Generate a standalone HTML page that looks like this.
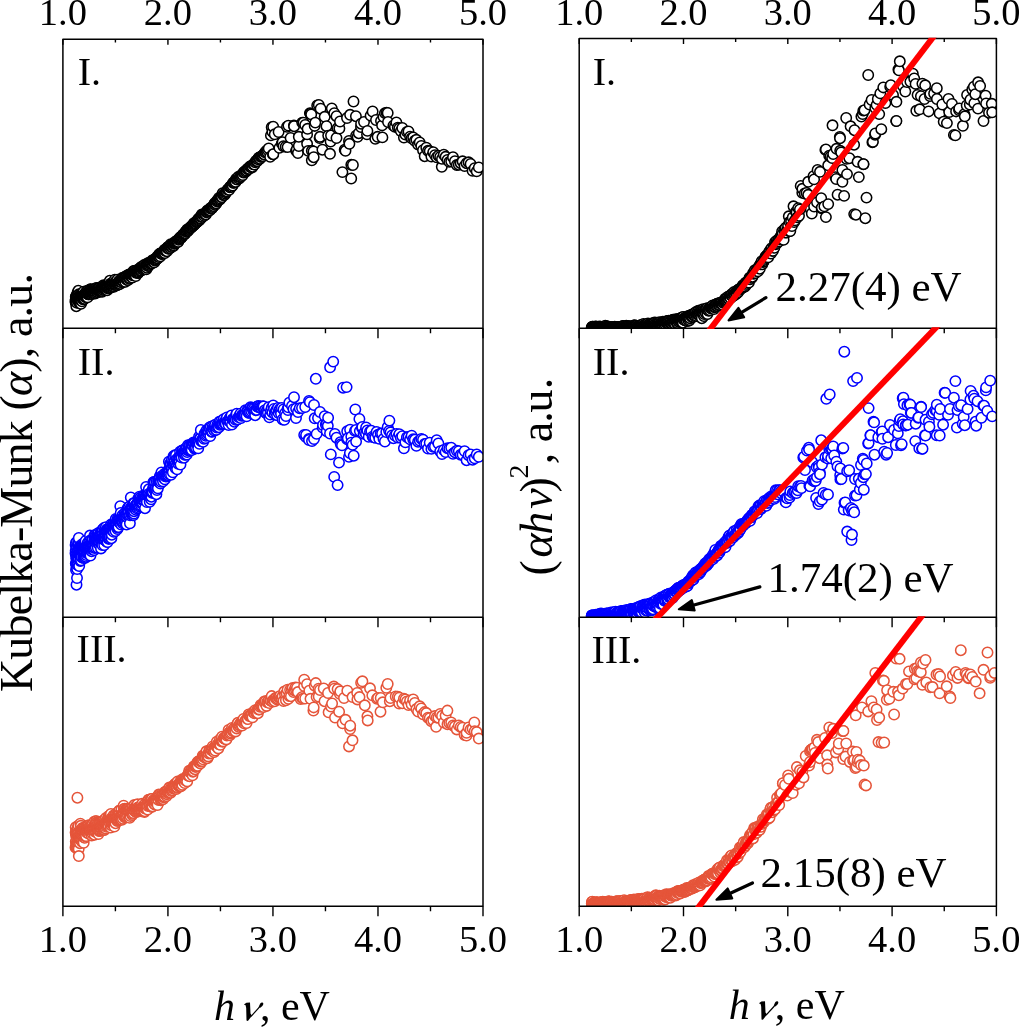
<!DOCTYPE html><html><head><meta charset="utf-8"><style>html,body{margin:0;padding:0;background:#fff;width:1020px;height:1028px;overflow:hidden}svg{display:block;will-change:transform}text{font-family:"Liberation Serif",serif;fill:#000}</style></head><body><svg width="1020" height="1028" viewBox="0 0 1020 1028"><rect width="1020" height="1028" fill="#fff"/><defs><clipPath id="cL1"><rect x="62.9" y="39.2" width="420.1" height="289.0"/></clipPath><clipPath id="rL1"><rect x="62.9" y="38.3" width="420.1" height="290.8"/></clipPath><clipPath id="cL2"><rect x="62.9" y="328.2" width="420.1" height="289.0"/></clipPath><clipPath id="rL2"><rect x="62.9" y="327.3" width="420.1" height="290.8"/></clipPath><clipPath id="cL3"><rect x="62.9" y="617.2" width="420.1" height="289.0"/></clipPath><clipPath id="rL3"><rect x="62.9" y="616.3" width="420.1" height="290.8"/></clipPath><clipPath id="cR1"><rect x="579.2" y="38.6" width="417.2" height="289.6"/></clipPath><clipPath id="rR1"><rect x="579.2" y="37.7" width="417.2" height="291.4"/></clipPath><clipPath id="cR2"><rect x="579.2" y="328.2" width="417.2" height="289.0"/></clipPath><clipPath id="rR2"><rect x="579.2" y="327.3" width="417.2" height="290.8"/></clipPath><clipPath id="cR3"><rect x="579.2" y="617.2" width="417.2" height="289.0"/></clipPath><clipPath id="rR3"><rect x="579.2" y="616.3" width="417.2" height="290.8"/></clipPath></defs><g clip-path="url(#cL1)" fill="#fff" stroke="#000" stroke-width="1.55"><circle cx="75.5" cy="300.9" r="5.2"/><circle cx="75.6" cy="302.2" r="5.2"/><circle cx="75.7" cy="299.6" r="5.2"/><circle cx="75.8" cy="296.8" r="5.2"/><circle cx="75.9" cy="298.7" r="5.2"/><circle cx="76.1" cy="296.4" r="5.2"/><circle cx="76.2" cy="300.9" r="5.2"/><circle cx="76.3" cy="306.2" r="5.2"/><circle cx="76.4" cy="298.4" r="5.2"/><circle cx="76.5" cy="297.9" r="5.2"/><circle cx="76.6" cy="302.4" r="5.2"/><circle cx="76.7" cy="301.8" r="5.2"/><circle cx="76.8" cy="300.8" r="5.2"/><circle cx="76.9" cy="296.5" r="5.2"/><circle cx="77.0" cy="300.1" r="5.2"/><circle cx="77.1" cy="302.9" r="5.2"/><circle cx="77.2" cy="294.9" r="5.2"/><circle cx="77.4" cy="298.3" r="5.2"/><circle cx="77.5" cy="292.7" r="5.2"/><circle cx="77.6" cy="295.1" r="5.2"/><circle cx="77.7" cy="293.0" r="5.2"/><circle cx="77.8" cy="299.0" r="5.2"/><circle cx="77.9" cy="295.2" r="5.2"/><circle cx="78.0" cy="300.8" r="5.2"/><circle cx="78.1" cy="300.3" r="5.2"/><circle cx="78.2" cy="299.1" r="5.2"/><circle cx="78.3" cy="290.8" r="5.2"/><circle cx="78.5" cy="297.7" r="5.2"/><circle cx="78.6" cy="299.4" r="5.2"/><circle cx="78.7" cy="299.9" r="5.2"/><circle cx="78.8" cy="294.3" r="5.2"/><circle cx="78.9" cy="297.8" r="5.2"/><circle cx="79.0" cy="296.2" r="5.2"/><circle cx="79.1" cy="296.7" r="5.2"/><circle cx="79.2" cy="302.8" r="5.2"/><circle cx="79.4" cy="296.7" r="5.2"/><circle cx="79.5" cy="299.1" r="5.2"/><circle cx="79.6" cy="301.9" r="5.2"/><circle cx="79.7" cy="297.3" r="5.2"/><circle cx="79.8" cy="298.7" r="5.2"/><circle cx="79.9" cy="299.4" r="5.2"/><circle cx="80.0" cy="299.2" r="5.2"/><circle cx="80.2" cy="295.2" r="5.2"/><circle cx="80.3" cy="299.0" r="5.2"/><circle cx="80.4" cy="302.7" r="5.2"/><circle cx="80.5" cy="294.1" r="5.2"/><circle cx="80.6" cy="301.0" r="5.2"/><circle cx="80.7" cy="298.8" r="5.2"/><circle cx="80.9" cy="296.5" r="5.2"/><circle cx="81.0" cy="303.9" r="5.2"/><circle cx="81.1" cy="300.3" r="5.2"/><circle cx="81.2" cy="294.8" r="5.2"/><circle cx="81.3" cy="298.2" r="5.2"/><circle cx="81.4" cy="299.5" r="5.2"/><circle cx="81.6" cy="297.3" r="5.2"/><circle cx="81.7" cy="299.6" r="5.2"/><circle cx="81.8" cy="297.5" r="5.2"/><circle cx="81.9" cy="299.3" r="5.2"/><circle cx="82.0" cy="301.3" r="5.2"/><circle cx="82.1" cy="295.6" r="5.2"/><circle cx="82.3" cy="297.8" r="5.2"/><circle cx="82.4" cy="296.0" r="5.2"/><circle cx="82.5" cy="297.4" r="5.2"/><circle cx="82.6" cy="294.1" r="5.2"/><circle cx="82.7" cy="295.5" r="5.2"/><circle cx="82.9" cy="296.4" r="5.2"/><circle cx="83.0" cy="299.0" r="5.2"/><circle cx="83.1" cy="299.4" r="5.2"/><circle cx="83.2" cy="293.4" r="5.2"/><circle cx="83.3" cy="294.6" r="5.2"/><circle cx="83.5" cy="297.9" r="5.2"/><circle cx="83.6" cy="291.7" r="5.2"/><circle cx="83.7" cy="295.2" r="5.2"/><circle cx="83.8" cy="295.9" r="5.2"/><circle cx="83.9" cy="298.9" r="5.2"/><circle cx="84.1" cy="297.5" r="5.2"/><circle cx="84.2" cy="295.2" r="5.2"/><circle cx="84.3" cy="295.0" r="5.2"/><circle cx="84.4" cy="295.2" r="5.2"/><circle cx="84.6" cy="298.9" r="5.2"/><circle cx="84.7" cy="294.7" r="5.2"/><circle cx="84.8" cy="294.9" r="5.2"/><circle cx="84.9" cy="296.2" r="5.2"/><circle cx="85.1" cy="295.1" r="5.2"/><circle cx="85.2" cy="294.9" r="5.2"/><circle cx="85.3" cy="293.0" r="5.2"/><circle cx="85.4" cy="295.1" r="5.2"/><circle cx="85.6" cy="294.2" r="5.2"/><circle cx="85.7" cy="297.3" r="5.2"/><circle cx="85.8" cy="296.2" r="5.2"/><circle cx="85.9" cy="294.8" r="5.2"/><circle cx="86.1" cy="296.0" r="5.2"/><circle cx="86.2" cy="294.1" r="5.2"/><circle cx="86.3" cy="296.6" r="5.2"/><circle cx="86.4" cy="294.6" r="5.2"/><circle cx="86.6" cy="295.5" r="5.2"/><circle cx="86.7" cy="292.2" r="5.2"/><circle cx="86.8" cy="295.0" r="5.2"/><circle cx="86.9" cy="291.4" r="5.2"/><circle cx="87.1" cy="290.8" r="5.2"/><circle cx="87.2" cy="293.6" r="5.2"/><circle cx="87.3" cy="292.6" r="5.2"/><circle cx="87.5" cy="294.2" r="5.2"/><circle cx="87.6" cy="297.4" r="5.2"/><circle cx="87.7" cy="292.5" r="5.2"/><circle cx="87.8" cy="292.8" r="5.2"/><circle cx="88.0" cy="294.0" r="5.2"/><circle cx="88.1" cy="294.3" r="5.2"/><circle cx="88.2" cy="293.3" r="5.2"/><circle cx="88.4" cy="293.1" r="5.2"/><circle cx="88.5" cy="294.4" r="5.2"/><circle cx="88.6" cy="294.1" r="5.2"/><circle cx="88.8" cy="291.7" r="5.2"/><circle cx="88.9" cy="293.0" r="5.2"/><circle cx="89.0" cy="293.1" r="5.2"/><circle cx="89.2" cy="291.4" r="5.2"/><circle cx="89.3" cy="293.3" r="5.2"/><circle cx="89.4" cy="291.5" r="5.2"/><circle cx="89.6" cy="294.2" r="5.2"/><circle cx="89.7" cy="293.0" r="5.2"/><circle cx="89.8" cy="292.7" r="5.2"/><circle cx="90.0" cy="291.6" r="5.2"/><circle cx="90.1" cy="292.3" r="5.2"/><circle cx="90.2" cy="289.4" r="5.2"/><circle cx="90.4" cy="290.7" r="5.2"/><circle cx="90.5" cy="292.9" r="5.2"/><circle cx="90.6" cy="289.1" r="5.2"/><circle cx="90.8" cy="293.5" r="5.2"/><circle cx="90.9" cy="289.6" r="5.2"/><circle cx="91.0" cy="293.3" r="5.2"/><circle cx="91.2" cy="290.9" r="5.2"/><circle cx="91.3" cy="293.3" r="5.2"/><circle cx="91.4" cy="292.3" r="5.2"/><circle cx="91.6" cy="289.7" r="5.2"/><circle cx="91.7" cy="293.9" r="5.2"/><circle cx="91.9" cy="294.1" r="5.2"/><circle cx="92.0" cy="291.8" r="5.2"/><circle cx="92.1" cy="291.4" r="5.2"/><circle cx="92.3" cy="291.6" r="5.2"/><circle cx="92.4" cy="290.3" r="5.2"/><circle cx="92.6" cy="293.4" r="5.2"/><circle cx="92.7" cy="290.9" r="5.2"/><circle cx="92.8" cy="291.6" r="5.2"/><circle cx="93.0" cy="290.4" r="5.2"/><circle cx="93.1" cy="290.6" r="5.2"/><circle cx="93.3" cy="289.6" r="5.2"/><circle cx="93.4" cy="293.4" r="5.2"/><circle cx="93.5" cy="291.2" r="5.2"/><circle cx="93.7" cy="292.9" r="5.2"/><circle cx="93.8" cy="291.4" r="5.2"/><circle cx="94.0" cy="290.3" r="5.2"/><circle cx="94.1" cy="290.8" r="5.2"/><circle cx="94.2" cy="290.4" r="5.2"/><circle cx="94.4" cy="291.2" r="5.2"/><circle cx="94.5" cy="290.6" r="5.2"/><circle cx="94.7" cy="290.6" r="5.2"/><circle cx="94.8" cy="289.0" r="5.2"/><circle cx="95.0" cy="289.8" r="5.2"/><circle cx="95.1" cy="293.5" r="5.2"/><circle cx="95.2" cy="289.9" r="5.2"/><circle cx="95.4" cy="289.3" r="5.2"/><circle cx="95.5" cy="291.4" r="5.2"/><circle cx="95.7" cy="292.9" r="5.2"/><circle cx="95.8" cy="288.5" r="5.2"/><circle cx="96.0" cy="290.4" r="5.2"/><circle cx="96.1" cy="289.7" r="5.2"/><circle cx="96.3" cy="287.9" r="5.2"/><circle cx="96.4" cy="291.7" r="5.2"/><circle cx="96.6" cy="290.5" r="5.2"/><circle cx="96.7" cy="290.6" r="5.2"/><circle cx="96.9" cy="289.3" r="5.2"/><circle cx="97.0" cy="291.1" r="5.2"/><circle cx="97.2" cy="289.5" r="5.2"/><circle cx="97.3" cy="290.1" r="5.2"/><circle cx="97.5" cy="288.6" r="5.2"/><circle cx="97.6" cy="288.4" r="5.2"/><circle cx="97.8" cy="292.2" r="5.2"/><circle cx="97.9" cy="289.4" r="5.2"/><circle cx="98.1" cy="290.5" r="5.2"/><circle cx="98.2" cy="290.0" r="5.2"/><circle cx="98.4" cy="289.3" r="5.2"/><circle cx="98.5" cy="289.2" r="5.2"/><circle cx="98.7" cy="290.9" r="5.2"/><circle cx="98.8" cy="289.4" r="5.2"/><circle cx="99.0" cy="289.6" r="5.2"/><circle cx="99.1" cy="289.8" r="5.2"/><circle cx="99.3" cy="291.5" r="5.2"/><circle cx="99.4" cy="290.7" r="5.2"/><circle cx="99.6" cy="290.2" r="5.2"/><circle cx="99.7" cy="288.7" r="5.2"/><circle cx="99.9" cy="287.4" r="5.2"/><circle cx="100.0" cy="290.9" r="5.2"/><circle cx="100.2" cy="290.9" r="5.2"/><circle cx="100.4" cy="289.2" r="5.2"/><circle cx="100.5" cy="290.2" r="5.2"/><circle cx="100.7" cy="290.5" r="5.2"/><circle cx="100.8" cy="290.5" r="5.2"/><circle cx="101.0" cy="290.6" r="5.2"/><circle cx="101.1" cy="288.5" r="5.2"/><circle cx="101.3" cy="291.4" r="5.2"/><circle cx="101.5" cy="287.2" r="5.2"/><circle cx="101.6" cy="290.3" r="5.2"/><circle cx="101.8" cy="289.7" r="5.2"/><circle cx="101.9" cy="290.3" r="5.2"/><circle cx="102.1" cy="291.8" r="5.2"/><circle cx="102.3" cy="291.1" r="5.2"/><circle cx="102.4" cy="287.0" r="5.2"/><circle cx="102.6" cy="286.1" r="5.2"/><circle cx="102.7" cy="289.9" r="5.2"/><circle cx="102.9" cy="287.1" r="5.2"/><circle cx="103.1" cy="288.6" r="5.2"/><circle cx="103.2" cy="289.8" r="5.2"/><circle cx="103.4" cy="286.0" r="5.2"/><circle cx="103.5" cy="285.2" r="5.2"/><circle cx="103.7" cy="288.8" r="5.2"/><circle cx="103.9" cy="288.4" r="5.2"/><circle cx="104.0" cy="287.9" r="5.2"/><circle cx="104.2" cy="288.3" r="5.2"/><circle cx="104.4" cy="286.9" r="5.2"/><circle cx="104.5" cy="285.8" r="5.2"/><circle cx="104.7" cy="287.8" r="5.2"/><circle cx="104.9" cy="286.5" r="5.2"/><circle cx="105.0" cy="285.5" r="5.2"/><circle cx="105.2" cy="288.7" r="5.2"/><circle cx="105.4" cy="287.7" r="5.2"/><circle cx="105.5" cy="288.4" r="5.2"/><circle cx="105.7" cy="286.2" r="5.2"/><circle cx="105.9" cy="286.6" r="5.2"/><circle cx="106.0" cy="286.0" r="5.2"/><circle cx="106.2" cy="286.1" r="5.2"/><circle cx="106.4" cy="287.7" r="5.2"/><circle cx="106.5" cy="286.1" r="5.2"/><circle cx="106.7" cy="287.8" r="5.2"/><circle cx="106.9" cy="287.7" r="5.2"/><circle cx="107.1" cy="290.2" r="5.2"/><circle cx="107.2" cy="284.9" r="5.2"/><circle cx="107.4" cy="288.3" r="5.2"/><circle cx="107.6" cy="286.7" r="5.2"/><circle cx="107.7" cy="286.8" r="5.2"/><circle cx="107.9" cy="284.5" r="5.2"/><circle cx="108.1" cy="285.9" r="5.2"/><circle cx="108.3" cy="287.7" r="5.2"/><circle cx="108.4" cy="286.4" r="5.2"/><circle cx="108.6" cy="286.5" r="5.2"/><circle cx="108.8" cy="285.9" r="5.2"/><circle cx="109.0" cy="288.1" r="5.2"/><circle cx="109.1" cy="286.2" r="5.2"/><circle cx="109.3" cy="282.7" r="5.2"/><circle cx="109.5" cy="285.0" r="5.2"/><circle cx="109.7" cy="282.9" r="5.2"/><circle cx="109.8" cy="280.8" r="5.2"/><circle cx="110.0" cy="285.0" r="5.2"/><circle cx="110.2" cy="287.8" r="5.2"/><circle cx="110.4" cy="285.7" r="5.2"/><circle cx="110.5" cy="283.8" r="5.2"/><circle cx="110.7" cy="284.0" r="5.2"/><circle cx="110.9" cy="287.2" r="5.2"/><circle cx="111.1" cy="285.6" r="5.2"/><circle cx="111.3" cy="285.3" r="5.2"/><circle cx="111.4" cy="285.1" r="5.2"/><circle cx="111.6" cy="285.2" r="5.2"/><circle cx="111.8" cy="286.3" r="5.2"/><circle cx="112.0" cy="285.8" r="5.2"/><circle cx="112.2" cy="285.2" r="5.2"/><circle cx="112.4" cy="283.2" r="5.2"/><circle cx="112.5" cy="285.5" r="5.2"/><circle cx="112.7" cy="283.6" r="5.2"/><circle cx="112.9" cy="286.2" r="5.2"/><circle cx="113.1" cy="282.5" r="5.2"/><circle cx="113.3" cy="284.2" r="5.2"/><circle cx="113.5" cy="284.3" r="5.2"/><circle cx="113.7" cy="282.1" r="5.2"/><circle cx="113.8" cy="286.8" r="5.2"/><circle cx="114.0" cy="286.3" r="5.2"/><circle cx="114.2" cy="283.2" r="5.2"/><circle cx="114.4" cy="285.1" r="5.2"/><circle cx="114.6" cy="284.4" r="5.2"/><circle cx="114.8" cy="279.6" r="5.2"/><circle cx="115.0" cy="284.0" r="5.2"/><circle cx="115.2" cy="283.5" r="5.2"/><circle cx="115.3" cy="283.6" r="5.2"/><circle cx="115.5" cy="281.7" r="5.2"/><circle cx="115.7" cy="282.9" r="5.2"/><circle cx="115.9" cy="282.9" r="5.2"/><circle cx="116.1" cy="285.0" r="5.2"/><circle cx="116.3" cy="283.6" r="5.2"/><circle cx="116.5" cy="283.0" r="5.2"/><circle cx="116.7" cy="285.3" r="5.2"/><circle cx="116.9" cy="281.9" r="5.2"/><circle cx="117.1" cy="282.1" r="5.2"/><circle cx="117.3" cy="279.8" r="5.2"/><circle cx="117.5" cy="285.0" r="5.2"/><circle cx="117.7" cy="284.0" r="5.2"/><circle cx="117.9" cy="283.8" r="5.2"/><circle cx="118.1" cy="283.3" r="5.2"/><circle cx="118.3" cy="282.4" r="5.2"/><circle cx="118.5" cy="282.5" r="5.2"/><circle cx="118.7" cy="281.6" r="5.2"/><circle cx="118.9" cy="281.6" r="5.2"/><circle cx="119.1" cy="281.9" r="5.2"/><circle cx="119.3" cy="284.1" r="5.2"/><circle cx="119.5" cy="282.6" r="5.2"/><circle cx="119.7" cy="281.5" r="5.2"/><circle cx="119.9" cy="280.6" r="5.2"/><circle cx="120.1" cy="280.4" r="5.2"/><circle cx="120.3" cy="283.9" r="5.2"/><circle cx="120.5" cy="282.0" r="5.2"/><circle cx="120.7" cy="281.3" r="5.2"/><circle cx="120.9" cy="280.5" r="5.2"/><circle cx="121.1" cy="279.2" r="5.2"/><circle cx="121.3" cy="280.7" r="5.2"/><circle cx="121.5" cy="282.1" r="5.2"/><circle cx="121.7" cy="280.0" r="5.2"/><circle cx="121.9" cy="280.1" r="5.2"/><circle cx="122.1" cy="280.0" r="5.2"/><circle cx="122.3" cy="280.4" r="5.2"/><circle cx="122.5" cy="277.6" r="5.2"/><circle cx="122.7" cy="279.7" r="5.2"/><circle cx="122.9" cy="278.6" r="5.2"/><circle cx="123.1" cy="281.2" r="5.2"/><circle cx="123.4" cy="278.5" r="5.2"/><circle cx="123.6" cy="280.5" r="5.2"/><circle cx="123.8" cy="281.9" r="5.2"/><circle cx="124.0" cy="278.8" r="5.2"/><circle cx="124.2" cy="278.2" r="5.2"/><circle cx="124.4" cy="279.4" r="5.2"/><circle cx="124.6" cy="279.0" r="5.2"/><circle cx="124.8" cy="277.3" r="5.2"/><circle cx="125.1" cy="279.5" r="5.2"/><circle cx="125.3" cy="281.8" r="5.2"/><circle cx="125.5" cy="278.1" r="5.2"/><circle cx="125.7" cy="278.0" r="5.2"/><circle cx="125.9" cy="276.6" r="5.2"/><circle cx="126.1" cy="278.6" r="5.2"/><circle cx="126.3" cy="276.0" r="5.2"/><circle cx="126.6" cy="276.1" r="5.2"/><circle cx="126.8" cy="279.8" r="5.2"/><circle cx="127.0" cy="276.2" r="5.2"/><circle cx="127.2" cy="279.2" r="5.2"/><circle cx="127.4" cy="279.8" r="5.2"/><circle cx="127.7" cy="277.7" r="5.2"/><circle cx="127.9" cy="278.0" r="5.2"/><circle cx="128.1" cy="280.1" r="5.2"/><circle cx="128.3" cy="276.6" r="5.2"/><circle cx="128.6" cy="275.8" r="5.2"/><circle cx="128.8" cy="274.5" r="5.2"/><circle cx="129.0" cy="276.6" r="5.2"/><circle cx="129.2" cy="278.7" r="5.2"/><circle cx="129.5" cy="277.8" r="5.2"/><circle cx="129.7" cy="274.6" r="5.2"/><circle cx="129.9" cy="274.6" r="5.2"/><circle cx="130.1" cy="275.1" r="5.2"/><circle cx="130.4" cy="276.2" r="5.2"/><circle cx="130.6" cy="275.3" r="5.2"/><circle cx="130.8" cy="275.8" r="5.2"/><circle cx="131.1" cy="275.8" r="5.2"/><circle cx="131.3" cy="274.7" r="5.2"/><circle cx="131.5" cy="275.0" r="5.2"/><circle cx="131.7" cy="275.3" r="5.2"/><circle cx="132.0" cy="274.7" r="5.2"/><circle cx="132.2" cy="275.5" r="5.2"/><circle cx="132.4" cy="277.5" r="5.2"/><circle cx="132.7" cy="275.3" r="5.2"/><circle cx="132.9" cy="274.4" r="5.2"/><circle cx="133.2" cy="271.6" r="5.2"/><circle cx="133.4" cy="274.6" r="5.2"/><circle cx="133.6" cy="270.9" r="5.2"/><circle cx="133.9" cy="271.6" r="5.2"/><circle cx="134.1" cy="274.9" r="5.2"/><circle cx="134.3" cy="274.6" r="5.2"/><circle cx="134.6" cy="273.1" r="5.2"/><circle cx="134.8" cy="270.7" r="5.2"/><circle cx="135.1" cy="272.5" r="5.2"/><circle cx="135.3" cy="271.9" r="5.2"/><circle cx="135.5" cy="273.8" r="5.2"/><circle cx="135.8" cy="276.0" r="5.2"/><circle cx="136.0" cy="272.9" r="5.2"/><circle cx="136.3" cy="271.3" r="5.2"/><circle cx="136.5" cy="270.6" r="5.2"/><circle cx="136.8" cy="272.1" r="5.2"/><circle cx="137.0" cy="271.7" r="5.2"/><circle cx="137.3" cy="270.2" r="5.2"/><circle cx="137.5" cy="271.8" r="5.2"/><circle cx="137.8" cy="269.9" r="5.2"/><circle cx="138.0" cy="273.0" r="5.2"/><circle cx="138.3" cy="272.7" r="5.2"/><circle cx="138.5" cy="272.6" r="5.2"/><circle cx="138.8" cy="270.2" r="5.2"/><circle cx="139.0" cy="271.5" r="5.2"/><circle cx="139.3" cy="270.4" r="5.2"/><circle cx="139.5" cy="269.9" r="5.2"/><circle cx="139.8" cy="269.8" r="5.2"/><circle cx="140.0" cy="268.3" r="5.2"/><circle cx="140.3" cy="267.9" r="5.2"/><circle cx="140.5" cy="270.9" r="5.2"/><circle cx="140.8" cy="269.3" r="5.2"/><circle cx="141.0" cy="269.7" r="5.2"/><circle cx="141.3" cy="270.6" r="5.2"/><circle cx="141.6" cy="266.7" r="5.2"/><circle cx="141.8" cy="267.9" r="5.2"/><circle cx="142.1" cy="269.0" r="5.2"/><circle cx="142.3" cy="269.1" r="5.2"/><circle cx="142.6" cy="267.9" r="5.2"/><circle cx="142.9" cy="269.6" r="5.2"/><circle cx="143.1" cy="268.4" r="5.2"/><circle cx="143.4" cy="266.3" r="5.2"/><circle cx="143.7" cy="266.5" r="5.2"/><circle cx="143.9" cy="268.7" r="5.2"/><circle cx="144.2" cy="268.0" r="5.2"/><circle cx="144.5" cy="264.8" r="5.2"/><circle cx="144.7" cy="268.8" r="5.2"/><circle cx="145.0" cy="267.7" r="5.2"/><circle cx="145.3" cy="268.5" r="5.2"/><circle cx="145.5" cy="266.1" r="5.2"/><circle cx="145.8" cy="266.0" r="5.2"/><circle cx="146.1" cy="264.8" r="5.2"/><circle cx="146.3" cy="269.3" r="5.2"/><circle cx="146.6" cy="265.6" r="5.2"/><circle cx="146.9" cy="267.7" r="5.2"/><circle cx="147.2" cy="264.7" r="5.2"/><circle cx="147.4" cy="265.5" r="5.2"/><circle cx="147.7" cy="263.1" r="5.2"/><circle cx="148.0" cy="264.5" r="5.2"/><circle cx="148.3" cy="266.0" r="5.2"/><circle cx="148.5" cy="263.1" r="5.2"/><circle cx="148.8" cy="265.8" r="5.2"/><circle cx="149.1" cy="264.7" r="5.2"/><circle cx="149.4" cy="262.8" r="5.2"/><circle cx="149.7" cy="263.3" r="5.2"/><circle cx="150.0" cy="263.2" r="5.2"/><circle cx="150.2" cy="263.5" r="5.2"/><circle cx="150.5" cy="262.7" r="5.2"/><circle cx="150.8" cy="262.2" r="5.2"/><circle cx="151.1" cy="262.7" r="5.2"/><circle cx="151.4" cy="261.6" r="5.2"/><circle cx="151.7" cy="261.1" r="5.2"/><circle cx="152.0" cy="262.4" r="5.2"/><circle cx="152.2" cy="263.3" r="5.2"/><circle cx="152.5" cy="260.3" r="5.2"/><circle cx="152.8" cy="261.9" r="5.2"/><circle cx="153.1" cy="260.9" r="5.2"/><circle cx="153.4" cy="260.3" r="5.2"/><circle cx="153.7" cy="262.1" r="5.2"/><circle cx="154.0" cy="260.3" r="5.2"/><circle cx="154.3" cy="262.3" r="5.2"/><circle cx="154.6" cy="259.5" r="5.2"/><circle cx="154.9" cy="260.5" r="5.2"/><circle cx="155.2" cy="259.6" r="5.2"/><circle cx="155.5" cy="258.7" r="5.2"/><circle cx="155.8" cy="260.0" r="5.2"/><circle cx="156.1" cy="258.9" r="5.2"/><circle cx="156.4" cy="259.4" r="5.2"/><circle cx="156.7" cy="258.4" r="5.2"/><circle cx="157.0" cy="257.0" r="5.2"/><circle cx="157.3" cy="257.8" r="5.2"/><circle cx="157.6" cy="257.7" r="5.2"/><circle cx="157.9" cy="258.4" r="5.2"/><circle cx="158.2" cy="256.2" r="5.2"/><circle cx="158.5" cy="256.8" r="5.2"/><circle cx="158.8" cy="254.7" r="5.2"/><circle cx="159.2" cy="257.0" r="5.2"/><circle cx="159.5" cy="254.9" r="5.2"/><circle cx="159.8" cy="253.8" r="5.2"/><circle cx="160.1" cy="255.4" r="5.2"/><circle cx="160.4" cy="256.3" r="5.2"/><circle cx="160.7" cy="253.3" r="5.2"/><circle cx="161.0" cy="253.5" r="5.2"/><circle cx="161.4" cy="253.6" r="5.2"/><circle cx="161.7" cy="252.9" r="5.2"/><circle cx="162.0" cy="254.1" r="5.2"/><circle cx="162.3" cy="252.7" r="5.2"/><circle cx="162.6" cy="252.5" r="5.2"/><circle cx="163.0" cy="253.5" r="5.2"/><circle cx="163.3" cy="251.9" r="5.2"/><circle cx="163.6" cy="252.8" r="5.2"/><circle cx="163.9" cy="251.1" r="5.2"/><circle cx="164.3" cy="250.5" r="5.2"/><circle cx="164.6" cy="249.6" r="5.2"/><circle cx="164.9" cy="253.0" r="5.2"/><circle cx="165.2" cy="250.5" r="5.2"/><circle cx="165.6" cy="250.8" r="5.2"/><circle cx="165.9" cy="250.2" r="5.2"/><circle cx="166.2" cy="250.1" r="5.2"/><circle cx="166.6" cy="249.7" r="5.2"/><circle cx="166.9" cy="251.2" r="5.2"/><circle cx="167.2" cy="248.1" r="5.2"/><circle cx="167.6" cy="247.3" r="5.2"/><circle cx="167.9" cy="247.5" r="5.2"/><circle cx="168.3" cy="247.0" r="5.2"/><circle cx="168.6" cy="248.7" r="5.2"/><circle cx="168.9" cy="248.5" r="5.2"/><circle cx="169.3" cy="246.7" r="5.2"/><circle cx="169.6" cy="246.1" r="5.2"/><circle cx="170.0" cy="246.8" r="5.2"/><circle cx="170.3" cy="248.1" r="5.2"/><circle cx="170.7" cy="244.1" r="5.2"/><circle cx="171.0" cy="246.9" r="5.2"/><circle cx="171.4" cy="245.2" r="5.2"/><circle cx="171.7" cy="246.9" r="5.2"/><circle cx="172.1" cy="244.8" r="5.2"/><circle cx="172.4" cy="245.3" r="5.2"/><circle cx="172.8" cy="243.9" r="5.2"/><circle cx="173.1" cy="244.2" r="5.2"/><circle cx="173.5" cy="246.1" r="5.2"/><circle cx="173.8" cy="245.3" r="5.2"/><circle cx="174.2" cy="243.9" r="5.2"/><circle cx="174.6" cy="243.2" r="5.2"/><circle cx="174.9" cy="241.9" r="5.2"/><circle cx="175.3" cy="242.9" r="5.2"/><circle cx="175.7" cy="242.8" r="5.2"/><circle cx="176.0" cy="242.4" r="5.2"/><circle cx="176.4" cy="242.0" r="5.2"/><circle cx="176.8" cy="240.7" r="5.2"/><circle cx="177.1" cy="241.3" r="5.2"/><circle cx="177.5" cy="241.0" r="5.2"/><circle cx="177.9" cy="241.8" r="5.2"/><circle cx="178.2" cy="241.9" r="5.2"/><circle cx="178.6" cy="239.8" r="5.2"/><circle cx="179.0" cy="238.8" r="5.2"/><circle cx="179.4" cy="239.1" r="5.2"/><circle cx="179.7" cy="238.2" r="5.2"/><circle cx="180.1" cy="237.7" r="5.2"/><circle cx="180.5" cy="238.0" r="5.2"/><circle cx="180.9" cy="236.7" r="5.2"/><circle cx="181.3" cy="237.8" r="5.2"/><circle cx="181.6" cy="236.8" r="5.2"/><circle cx="182.0" cy="236.7" r="5.2"/><circle cx="182.4" cy="235.9" r="5.2"/><circle cx="182.8" cy="235.0" r="5.2"/><circle cx="183.2" cy="234.5" r="5.2"/><circle cx="183.6" cy="234.7" r="5.2"/><circle cx="184.0" cy="234.0" r="5.2"/><circle cx="184.4" cy="234.3" r="5.2"/><circle cx="184.8" cy="233.7" r="5.2"/><circle cx="185.2" cy="232.1" r="5.2"/><circle cx="185.6" cy="233.0" r="5.2"/><circle cx="186.0" cy="231.3" r="5.2"/><circle cx="186.4" cy="231.6" r="5.2"/><circle cx="186.8" cy="231.5" r="5.2"/><circle cx="187.2" cy="229.5" r="5.2"/><circle cx="187.6" cy="231.0" r="5.2"/><circle cx="188.0" cy="230.7" r="5.2"/><circle cx="188.4" cy="230.0" r="5.2"/><circle cx="188.8" cy="229.3" r="5.2"/><circle cx="189.2" cy="229.0" r="5.2"/><circle cx="189.6" cy="228.0" r="5.2"/><circle cx="190.0" cy="228.2" r="5.2"/><circle cx="190.4" cy="227.6" r="5.2"/><circle cx="190.8" cy="227.7" r="5.2"/><circle cx="191.3" cy="226.2" r="5.2"/><circle cx="191.7" cy="227.0" r="5.2"/><circle cx="192.1" cy="226.5" r="5.2"/><circle cx="192.5" cy="225.8" r="5.2"/><circle cx="192.9" cy="225.2" r="5.2"/><circle cx="193.4" cy="225.6" r="5.2"/><circle cx="193.8" cy="223.2" r="5.2"/><circle cx="194.2" cy="224.7" r="5.2"/><circle cx="194.7" cy="224.1" r="5.2"/><circle cx="195.1" cy="223.7" r="5.2"/><circle cx="195.5" cy="223.3" r="5.2"/><circle cx="196.0" cy="222.0" r="5.2"/><circle cx="196.4" cy="221.9" r="5.2"/><circle cx="196.8" cy="222.2" r="5.2"/><circle cx="197.3" cy="221.6" r="5.2"/><circle cx="197.7" cy="221.0" r="5.2"/><circle cx="198.2" cy="219.0" r="5.2"/><circle cx="198.6" cy="220.4" r="5.2"/><circle cx="199.0" cy="220.5" r="5.2"/><circle cx="199.5" cy="219.9" r="5.2"/><circle cx="199.9" cy="218.8" r="5.2"/><circle cx="200.4" cy="216.7" r="5.2"/><circle cx="200.8" cy="218.5" r="5.2"/><circle cx="201.3" cy="217.1" r="5.2"/><circle cx="201.8" cy="214.5" r="5.2"/><circle cx="202.2" cy="216.7" r="5.2"/><circle cx="202.7" cy="214.6" r="5.2"/><circle cx="203.1" cy="214.4" r="5.2"/><circle cx="203.6" cy="214.5" r="5.2"/><circle cx="204.1" cy="215.8" r="5.2"/><circle cx="204.5" cy="213.9" r="5.2"/><circle cx="205.0" cy="214.0" r="5.2"/><circle cx="205.5" cy="214.9" r="5.2"/><circle cx="205.9" cy="214.4" r="5.2"/><circle cx="206.4" cy="212.4" r="5.2"/><circle cx="206.9" cy="211.8" r="5.2"/><circle cx="207.4" cy="210.5" r="5.2"/><circle cx="207.8" cy="210.5" r="5.2"/><circle cx="208.3" cy="211.1" r="5.2"/><circle cx="208.8" cy="210.6" r="5.2"/><circle cx="209.3" cy="209.9" r="5.2"/><circle cx="209.8" cy="210.2" r="5.2"/><circle cx="210.3" cy="208.2" r="5.2"/><circle cx="210.8" cy="208.4" r="5.2"/><circle cx="211.2" cy="208.6" r="5.2"/><circle cx="211.7" cy="208.1" r="5.2"/><circle cx="212.2" cy="208.0" r="5.2"/><circle cx="212.7" cy="207.0" r="5.2"/><circle cx="213.2" cy="205.9" r="5.2"/><circle cx="213.7" cy="206.0" r="5.2"/><circle cx="214.2" cy="204.3" r="5.2"/><circle cx="214.7" cy="203.3" r="5.2"/><circle cx="215.2" cy="204.7" r="5.2"/><circle cx="215.8" cy="203.6" r="5.2"/><circle cx="216.3" cy="203.3" r="5.2"/><circle cx="216.8" cy="200.9" r="5.2"/><circle cx="217.3" cy="201.5" r="5.2"/><circle cx="217.8" cy="200.7" r="5.2"/><circle cx="218.3" cy="199.8" r="5.2"/><circle cx="218.9" cy="198.0" r="5.2"/><circle cx="219.4" cy="199.1" r="5.2"/><circle cx="219.9" cy="199.6" r="5.2"/><circle cx="220.4" cy="198.5" r="5.2"/><circle cx="221.0" cy="197.0" r="5.2"/><circle cx="221.5" cy="196.9" r="5.2"/><circle cx="222.0" cy="197.0" r="5.2"/><circle cx="222.6" cy="193.2" r="5.2"/><circle cx="223.1" cy="195.0" r="5.2"/><circle cx="223.7" cy="195.0" r="5.2"/><circle cx="224.2" cy="194.5" r="5.2"/><circle cx="224.7" cy="194.8" r="5.2"/><circle cx="225.3" cy="193.6" r="5.2"/><circle cx="225.8" cy="192.2" r="5.2"/><circle cx="226.4" cy="191.6" r="5.2"/><circle cx="226.9" cy="191.4" r="5.2"/><circle cx="227.5" cy="189.6" r="5.2"/><circle cx="228.1" cy="189.4" r="5.2"/><circle cx="228.6" cy="189.6" r="5.2"/><circle cx="229.2" cy="189.9" r="5.2"/><circle cx="229.8" cy="187.3" r="5.2"/><circle cx="230.3" cy="186.8" r="5.2"/><circle cx="230.9" cy="186.4" r="5.2"/><circle cx="231.5" cy="186.7" r="5.2"/><circle cx="232.0" cy="184.8" r="5.2"/><circle cx="232.6" cy="185.5" r="5.2"/><circle cx="233.2" cy="182.7" r="5.2"/><circle cx="233.8" cy="182.7" r="5.2"/><circle cx="234.4" cy="182.0" r="5.2"/><circle cx="235.0" cy="182.3" r="5.2"/><circle cx="235.6" cy="181.9" r="5.2"/><circle cx="236.1" cy="179.0" r="5.2"/><circle cx="236.7" cy="179.0" r="5.2"/><circle cx="237.3" cy="179.6" r="5.2"/><circle cx="237.9" cy="178.1" r="5.2"/><circle cx="238.5" cy="176.7" r="5.2"/><circle cx="239.2" cy="178.5" r="5.2"/><circle cx="239.8" cy="177.4" r="5.2"/><circle cx="240.4" cy="176.8" r="5.2"/><circle cx="241.0" cy="175.4" r="5.2"/><circle cx="241.6" cy="176.1" r="5.2"/><circle cx="242.2" cy="174.4" r="5.2"/><circle cx="242.8" cy="175.0" r="5.2"/><circle cx="243.5" cy="172.6" r="5.2"/><circle cx="244.1" cy="172.0" r="5.2"/><circle cx="244.7" cy="172.4" r="5.2"/><circle cx="245.4" cy="171.0" r="5.2"/><circle cx="246.0" cy="171.6" r="5.2"/><circle cx="246.6" cy="170.6" r="5.2"/><circle cx="247.3" cy="168.9" r="5.2"/><circle cx="247.9" cy="169.2" r="5.2"/><circle cx="248.6" cy="168.2" r="5.2"/><circle cx="249.2" cy="168.8" r="5.2"/><circle cx="249.9" cy="166.8" r="5.2"/><circle cx="250.5" cy="166.3" r="5.2"/><circle cx="251.2" cy="167.2" r="5.2"/><circle cx="251.9" cy="167.5" r="5.2"/><circle cx="252.5" cy="166.7" r="5.2"/><circle cx="253.2" cy="164.4" r="5.2"/><circle cx="253.9" cy="163.9" r="5.2"/><circle cx="254.5" cy="164.5" r="5.2"/><circle cx="255.2" cy="162.4" r="5.2"/><circle cx="255.9" cy="161.0" r="5.2"/><circle cx="256.6" cy="161.3" r="5.2"/><circle cx="257.3" cy="161.0" r="5.2"/><circle cx="257.9" cy="159.2" r="5.2"/><circle cx="258.6" cy="157.9" r="5.2"/><circle cx="259.3" cy="157.4" r="5.2"/><circle cx="260.0" cy="158.7" r="5.2"/><circle cx="260.7" cy="156.7" r="5.2"/><circle cx="261.4" cy="156.7" r="5.2"/><circle cx="262.2" cy="156.3" r="5.2"/><circle cx="262.9" cy="156.0" r="5.2"/><circle cx="263.6" cy="154.4" r="5.2"/><circle cx="264.3" cy="154.4" r="5.2"/><circle cx="265.0" cy="152.4" r="5.2"/><circle cx="265.7" cy="152.1" r="5.2"/><circle cx="266.5" cy="150.7" r="5.2"/><circle cx="267.2" cy="152.1" r="5.2"/><circle cx="267.9" cy="150.1" r="5.2"/><circle cx="268.7" cy="148.4" r="5.2"/><circle cx="270.2" cy="156.9" r="5.2"/><circle cx="270.9" cy="135.4" r="5.2"/><circle cx="271.7" cy="127.2" r="5.2"/><circle cx="272.4" cy="131.9" r="5.2"/><circle cx="272.9" cy="154.4" r="5.2"/><circle cx="273.2" cy="126.7" r="5.2"/><circle cx="273.3" cy="154.2" r="5.2"/><circle cx="274.7" cy="134.3" r="5.2"/><circle cx="278.6" cy="132.0" r="5.2"/><circle cx="279.4" cy="147.9" r="5.2"/><circle cx="281.8" cy="143.4" r="5.2"/><circle cx="282.6" cy="142.2" r="5.2"/><circle cx="283.5" cy="146.2" r="5.2"/><circle cx="285.7" cy="146.7" r="5.2"/><circle cx="287.0" cy="126.8" r="5.2"/><circle cx="287.6" cy="147.1" r="5.2"/><circle cx="288.4" cy="125.6" r="5.2"/><circle cx="290.6" cy="137.9" r="5.2"/><circle cx="293.9" cy="125.4" r="5.2"/><circle cx="294.1" cy="126.2" r="5.2"/><circle cx="296.1" cy="150.6" r="5.2"/><circle cx="296.5" cy="150.9" r="5.2"/><circle cx="296.7" cy="149.4" r="5.2"/><circle cx="297.9" cy="153.1" r="5.2"/><circle cx="298.8" cy="146.0" r="5.2"/><circle cx="298.8" cy="136.8" r="5.2"/><circle cx="302.2" cy="122.6" r="5.2"/><circle cx="303.5" cy="122.6" r="5.2"/><circle cx="305.2" cy="125.0" r="5.2"/><circle cx="307.1" cy="143.8" r="5.2"/><circle cx="307.1" cy="134.4" r="5.2"/><circle cx="307.6" cy="128.8" r="5.2"/><circle cx="308.2" cy="150.9" r="5.2"/><circle cx="309.9" cy="113.1" r="5.2"/><circle cx="310.4" cy="113.7" r="5.2"/><circle cx="311.2" cy="114.4" r="5.2"/><circle cx="311.8" cy="160.3" r="5.2"/><circle cx="311.8" cy="150.8" r="5.2"/><circle cx="313.5" cy="151.5" r="5.2"/><circle cx="313.7" cy="157.2" r="5.2"/><circle cx="314.7" cy="125.9" r="5.2"/><circle cx="315.3" cy="122.6" r="5.2"/><circle cx="317.2" cy="105.5" r="5.2"/><circle cx="318.8" cy="105.0" r="5.2"/><circle cx="319.6" cy="138.1" r="5.2"/><circle cx="320.0" cy="136.8" r="5.2"/><circle cx="320.6" cy="108.7" r="5.2"/><circle cx="322.4" cy="149.7" r="5.2"/><circle cx="324.7" cy="116.8" r="5.2"/><circle cx="326.5" cy="126.2" r="5.2"/><circle cx="328.2" cy="135.6" r="5.2"/><circle cx="330.0" cy="153.8" r="5.2"/><circle cx="330.6" cy="141.5" r="5.2"/><circle cx="331.0" cy="135.5" r="5.2"/><circle cx="331.8" cy="108.5" r="5.2"/><circle cx="334.3" cy="113.2" r="5.2"/><circle cx="336.5" cy="138.0" r="5.2"/><circle cx="336.5" cy="116.2" r="5.2"/><circle cx="337.6" cy="128.2" r="5.2"/><circle cx="339.4" cy="128.5" r="5.2"/><circle cx="340.0" cy="121.5" r="5.2"/><circle cx="342.4" cy="172.1" r="5.2"/><circle cx="344.7" cy="149.7" r="5.2"/><circle cx="345.5" cy="150.8" r="5.2"/><circle cx="347.0" cy="118.0" r="5.2"/><circle cx="349.0" cy="141.0" r="5.2"/><circle cx="349.4" cy="143.8" r="5.2"/><circle cx="350.1" cy="114.8" r="5.2"/><circle cx="351.2" cy="178.5" r="5.2"/><circle cx="351.3" cy="164.8" r="5.2"/><circle cx="352.9" cy="165.0" r="5.2"/><circle cx="353.5" cy="101.5" r="5.2"/><circle cx="355.9" cy="116.2" r="5.2"/><circle cx="356.1" cy="135.6" r="5.2"/><circle cx="357.6" cy="136.8" r="5.2"/><circle cx="358.8" cy="133.2" r="5.2"/><circle cx="361.0" cy="127.0" r="5.2"/><circle cx="361.1" cy="123.7" r="5.2"/><circle cx="364.0" cy="122.0" r="5.2"/><circle cx="367.0" cy="134.4" r="5.2"/><circle cx="367.4" cy="130.9" r="5.2"/><circle cx="370.6" cy="115.6" r="5.2"/><circle cx="372.6" cy="111.5" r="5.2"/><circle cx="375.3" cy="138.8" r="5.2"/><circle cx="376.0" cy="120.0" r="5.2"/><circle cx="377.6" cy="136.8" r="5.2"/><circle cx="381.0" cy="121.0" r="5.2"/><circle cx="382.1" cy="125.4" r="5.2"/><circle cx="382.4" cy="137.4" r="5.2"/><circle cx="383.5" cy="116.9" r="5.2"/><circle cx="384.9" cy="113.1" r="5.2"/><circle cx="386.5" cy="112.6" r="5.2"/><circle cx="387.7" cy="113.0" r="5.2"/><circle cx="388.0" cy="122.0" r="5.2"/><circle cx="393.4" cy="125.6" r="5.2"/><circle cx="394.9" cy="126.8" r="5.2"/><circle cx="396.4" cy="122.5" r="5.2"/><circle cx="397.8" cy="127.6" r="5.2"/><circle cx="399.3" cy="128.5" r="5.2"/><circle cx="400.8" cy="131.1" r="5.2"/><circle cx="402.3" cy="128.0" r="5.2"/><circle cx="403.9" cy="137.6" r="5.2"/><circle cx="405.4" cy="134.6" r="5.2"/><circle cx="406.9" cy="131.9" r="5.2"/><circle cx="408.5" cy="131.5" r="5.2"/><circle cx="410.1" cy="136.6" r="5.2"/><circle cx="411.6" cy="138.2" r="5.2"/><circle cx="413.2" cy="137.5" r="5.2"/><circle cx="414.8" cy="140.8" r="5.2"/><circle cx="416.4" cy="139.8" r="5.2"/><circle cx="418.1" cy="144.5" r="5.2"/><circle cx="419.7" cy="142.4" r="5.2"/><circle cx="421.3" cy="145.9" r="5.2"/><circle cx="423.0" cy="150.2" r="5.2"/><circle cx="424.7" cy="156.2" r="5.2"/><circle cx="426.3" cy="147.7" r="5.2"/><circle cx="428.0" cy="150.8" r="5.2"/><circle cx="429.7" cy="151.1" r="5.2"/><circle cx="431.4" cy="156.6" r="5.2"/><circle cx="433.2" cy="152.2" r="5.2"/><circle cx="434.9" cy="155.1" r="5.2"/><circle cx="436.7" cy="157.4" r="5.2"/><circle cx="438.4" cy="155.8" r="5.2"/><circle cx="440.2" cy="156.9" r="5.2"/><circle cx="441.8" cy="166.8" r="5.2"/><circle cx="442.0" cy="158.9" r="5.2"/><circle cx="443.8" cy="154.6" r="5.2"/><circle cx="445.6" cy="156.8" r="5.2"/><circle cx="447.5" cy="160.0" r="5.2"/><circle cx="449.3" cy="161.9" r="5.2"/><circle cx="451.2" cy="161.3" r="5.2"/><circle cx="453.0" cy="157.2" r="5.2"/><circle cx="454.9" cy="161.2" r="5.2"/><circle cx="456.8" cy="165.0" r="5.2"/><circle cx="458.8" cy="164.7" r="5.2"/><circle cx="460.7" cy="163.2" r="5.2"/><circle cx="462.6" cy="161.3" r="5.2"/><circle cx="464.6" cy="166.0" r="5.2"/><circle cx="466.6" cy="163.2" r="5.2"/><circle cx="468.6" cy="162.3" r="5.2"/><circle cx="470.6" cy="164.0" r="5.2"/><circle cx="472.6" cy="170.9" r="5.2"/><circle cx="474.7" cy="168.2" r="5.2"/><circle cx="476.7" cy="171.4" r="5.2"/><circle cx="478.8" cy="167.4" r="5.2"/></g><g clip-path="url(#cL2)" fill="#fff" stroke="#00f" stroke-width="1.55"><circle cx="75.5" cy="553.2" r="5.2"/><circle cx="75.6" cy="544.9" r="5.2"/><circle cx="75.7" cy="550.4" r="5.2"/><circle cx="75.8" cy="563.5" r="5.2"/><circle cx="75.9" cy="542.8" r="5.2"/><circle cx="76.0" cy="570.0" r="5.2"/><circle cx="76.1" cy="556.6" r="5.2"/><circle cx="76.2" cy="563.5" r="5.2"/><circle cx="76.3" cy="553.7" r="5.2"/><circle cx="76.4" cy="558.9" r="5.2"/><circle cx="76.5" cy="547.2" r="5.2"/><circle cx="76.5" cy="584.7" r="5.2"/><circle cx="76.6" cy="567.6" r="5.2"/><circle cx="76.7" cy="565.5" r="5.2"/><circle cx="76.8" cy="558.2" r="5.2"/><circle cx="76.9" cy="541.9" r="5.2"/><circle cx="77.0" cy="578.0" r="5.2"/><circle cx="77.0" cy="547.6" r="5.2"/><circle cx="77.1" cy="563.5" r="5.2"/><circle cx="77.2" cy="569.0" r="5.2"/><circle cx="77.4" cy="557.8" r="5.2"/><circle cx="77.5" cy="564.9" r="5.2"/><circle cx="77.6" cy="550.7" r="5.2"/><circle cx="77.7" cy="553.7" r="5.2"/><circle cx="77.8" cy="555.0" r="5.2"/><circle cx="77.9" cy="557.9" r="5.2"/><circle cx="78.0" cy="543.7" r="5.2"/><circle cx="78.1" cy="561.2" r="5.2"/><circle cx="78.2" cy="563.6" r="5.2"/><circle cx="78.3" cy="546.3" r="5.2"/><circle cx="78.5" cy="544.8" r="5.2"/><circle cx="78.6" cy="556.3" r="5.2"/><circle cx="78.7" cy="549.4" r="5.2"/><circle cx="78.8" cy="538.0" r="5.2"/><circle cx="78.9" cy="558.7" r="5.2"/><circle cx="79.0" cy="554.3" r="5.2"/><circle cx="79.1" cy="550.2" r="5.2"/><circle cx="79.2" cy="566.1" r="5.2"/><circle cx="79.4" cy="553.7" r="5.2"/><circle cx="79.5" cy="548.2" r="5.2"/><circle cx="79.6" cy="553.2" r="5.2"/><circle cx="79.7" cy="546.3" r="5.2"/><circle cx="79.8" cy="547.9" r="5.2"/><circle cx="79.9" cy="554.3" r="5.2"/><circle cx="80.0" cy="548.9" r="5.2"/><circle cx="80.2" cy="549.5" r="5.2"/><circle cx="80.3" cy="560.9" r="5.2"/><circle cx="80.4" cy="556.4" r="5.2"/><circle cx="80.5" cy="555.9" r="5.2"/><circle cx="80.6" cy="554.4" r="5.2"/><circle cx="80.7" cy="554.1" r="5.2"/><circle cx="80.9" cy="558.8" r="5.2"/><circle cx="81.0" cy="551.5" r="5.2"/><circle cx="81.1" cy="560.3" r="5.2"/><circle cx="81.2" cy="547.0" r="5.2"/><circle cx="81.3" cy="550.2" r="5.2"/><circle cx="81.4" cy="545.2" r="5.2"/><circle cx="81.6" cy="549.8" r="5.2"/><circle cx="81.7" cy="553.4" r="5.2"/><circle cx="81.8" cy="557.2" r="5.2"/><circle cx="81.9" cy="548.4" r="5.2"/><circle cx="82.0" cy="551.1" r="5.2"/><circle cx="82.1" cy="549.6" r="5.2"/><circle cx="82.3" cy="548.0" r="5.2"/><circle cx="82.4" cy="546.2" r="5.2"/><circle cx="82.5" cy="551.1" r="5.2"/><circle cx="82.6" cy="543.9" r="5.2"/><circle cx="82.7" cy="551.2" r="5.2"/><circle cx="82.9" cy="550.8" r="5.2"/><circle cx="83.0" cy="548.0" r="5.2"/><circle cx="83.1" cy="546.6" r="5.2"/><circle cx="83.2" cy="545.0" r="5.2"/><circle cx="83.3" cy="557.9" r="5.2"/><circle cx="83.5" cy="545.1" r="5.2"/><circle cx="83.6" cy="556.5" r="5.2"/><circle cx="83.7" cy="552.7" r="5.2"/><circle cx="83.8" cy="548.8" r="5.2"/><circle cx="83.9" cy="545.6" r="5.2"/><circle cx="84.1" cy="554.2" r="5.2"/><circle cx="84.2" cy="556.9" r="5.2"/><circle cx="84.3" cy="546.3" r="5.2"/><circle cx="84.4" cy="548.8" r="5.2"/><circle cx="84.6" cy="554.0" r="5.2"/><circle cx="84.7" cy="551.2" r="5.2"/><circle cx="84.8" cy="557.6" r="5.2"/><circle cx="84.9" cy="547.5" r="5.2"/><circle cx="85.1" cy="551.8" r="5.2"/><circle cx="85.2" cy="544.7" r="5.2"/><circle cx="85.3" cy="557.7" r="5.2"/><circle cx="85.4" cy="546.7" r="5.2"/><circle cx="85.6" cy="540.9" r="5.2"/><circle cx="85.7" cy="548.9" r="5.2"/><circle cx="85.8" cy="548.8" r="5.2"/><circle cx="85.9" cy="556.7" r="5.2"/><circle cx="86.1" cy="547.9" r="5.2"/><circle cx="86.2" cy="549.1" r="5.2"/><circle cx="86.3" cy="551.4" r="5.2"/><circle cx="86.4" cy="555.1" r="5.2"/><circle cx="86.6" cy="548.7" r="5.2"/><circle cx="86.7" cy="552.9" r="5.2"/><circle cx="86.8" cy="550.7" r="5.2"/><circle cx="86.9" cy="547.5" r="5.2"/><circle cx="87.1" cy="548.9" r="5.2"/><circle cx="87.2" cy="548.6" r="5.2"/><circle cx="87.3" cy="544.9" r="5.2"/><circle cx="87.5" cy="552.9" r="5.2"/><circle cx="87.6" cy="542.9" r="5.2"/><circle cx="87.7" cy="552.5" r="5.2"/><circle cx="87.8" cy="551.6" r="5.2"/><circle cx="88.0" cy="547.5" r="5.2"/><circle cx="88.1" cy="544.9" r="5.2"/><circle cx="88.2" cy="546.8" r="5.2"/><circle cx="88.4" cy="549.4" r="5.2"/><circle cx="88.5" cy="550.3" r="5.2"/><circle cx="88.6" cy="548.5" r="5.2"/><circle cx="88.8" cy="551.1" r="5.2"/><circle cx="88.9" cy="545.0" r="5.2"/><circle cx="89.0" cy="548.0" r="5.2"/><circle cx="89.2" cy="541.0" r="5.2"/><circle cx="89.3" cy="549.8" r="5.2"/><circle cx="89.4" cy="547.4" r="5.2"/><circle cx="89.6" cy="545.1" r="5.2"/><circle cx="89.7" cy="551.0" r="5.2"/><circle cx="89.8" cy="549.1" r="5.2"/><circle cx="90.0" cy="535.6" r="5.2"/><circle cx="90.1" cy="546.4" r="5.2"/><circle cx="90.2" cy="540.6" r="5.2"/><circle cx="90.4" cy="550.2" r="5.2"/><circle cx="90.5" cy="555.5" r="5.2"/><circle cx="90.6" cy="543.9" r="5.2"/><circle cx="90.8" cy="546.0" r="5.2"/><circle cx="90.9" cy="544.7" r="5.2"/><circle cx="91.0" cy="546.9" r="5.2"/><circle cx="91.2" cy="547.9" r="5.2"/><circle cx="91.3" cy="550.3" r="5.2"/><circle cx="91.4" cy="541.4" r="5.2"/><circle cx="91.6" cy="551.2" r="5.2"/><circle cx="91.7" cy="541.4" r="5.2"/><circle cx="91.9" cy="546.0" r="5.2"/><circle cx="92.0" cy="549.3" r="5.2"/><circle cx="92.1" cy="547.5" r="5.2"/><circle cx="92.3" cy="541.0" r="5.2"/><circle cx="92.4" cy="541.8" r="5.2"/><circle cx="92.6" cy="542.6" r="5.2"/><circle cx="92.7" cy="544.1" r="5.2"/><circle cx="92.8" cy="548.6" r="5.2"/><circle cx="93.0" cy="539.0" r="5.2"/><circle cx="93.1" cy="545.8" r="5.2"/><circle cx="93.3" cy="546.2" r="5.2"/><circle cx="93.4" cy="545.9" r="5.2"/><circle cx="93.5" cy="545.5" r="5.2"/><circle cx="93.7" cy="549.4" r="5.2"/><circle cx="93.8" cy="545.3" r="5.2"/><circle cx="94.0" cy="546.7" r="5.2"/><circle cx="94.1" cy="545.4" r="5.2"/><circle cx="94.2" cy="550.1" r="5.2"/><circle cx="94.4" cy="535.6" r="5.2"/><circle cx="94.5" cy="547.9" r="5.2"/><circle cx="94.7" cy="541.7" r="5.2"/><circle cx="94.8" cy="541.6" r="5.2"/><circle cx="95.0" cy="538.8" r="5.2"/><circle cx="95.1" cy="535.1" r="5.2"/><circle cx="95.2" cy="540.8" r="5.2"/><circle cx="95.4" cy="539.5" r="5.2"/><circle cx="95.5" cy="544.0" r="5.2"/><circle cx="95.7" cy="536.2" r="5.2"/><circle cx="95.8" cy="547.5" r="5.2"/><circle cx="96.0" cy="542.8" r="5.2"/><circle cx="96.1" cy="540.7" r="5.2"/><circle cx="96.3" cy="538.8" r="5.2"/><circle cx="96.4" cy="538.3" r="5.2"/><circle cx="96.6" cy="536.9" r="5.2"/><circle cx="96.7" cy="539.1" r="5.2"/><circle cx="96.9" cy="541.1" r="5.2"/><circle cx="97.0" cy="540.3" r="5.2"/><circle cx="97.2" cy="535.3" r="5.2"/><circle cx="97.3" cy="539.7" r="5.2"/><circle cx="97.5" cy="537.1" r="5.2"/><circle cx="97.6" cy="541.2" r="5.2"/><circle cx="97.8" cy="547.8" r="5.2"/><circle cx="97.9" cy="542.8" r="5.2"/><circle cx="98.1" cy="538.9" r="5.2"/><circle cx="98.2" cy="533.6" r="5.2"/><circle cx="98.4" cy="534.3" r="5.2"/><circle cx="98.5" cy="533.1" r="5.2"/><circle cx="98.7" cy="542.6" r="5.2"/><circle cx="98.8" cy="536.6" r="5.2"/><circle cx="99.0" cy="539.8" r="5.2"/><circle cx="99.1" cy="537.0" r="5.2"/><circle cx="99.3" cy="539.7" r="5.2"/><circle cx="99.4" cy="544.8" r="5.2"/><circle cx="99.6" cy="536.4" r="5.2"/><circle cx="99.7" cy="537.7" r="5.2"/><circle cx="99.9" cy="535.7" r="5.2"/><circle cx="100.0" cy="542.3" r="5.2"/><circle cx="100.2" cy="534.6" r="5.2"/><circle cx="100.4" cy="534.1" r="5.2"/><circle cx="100.5" cy="532.9" r="5.2"/><circle cx="100.7" cy="532.7" r="5.2"/><circle cx="100.8" cy="540.2" r="5.2"/><circle cx="101.0" cy="548.4" r="5.2"/><circle cx="101.1" cy="534.1" r="5.2"/><circle cx="101.3" cy="541.8" r="5.2"/><circle cx="101.5" cy="538.8" r="5.2"/><circle cx="101.6" cy="533.3" r="5.2"/><circle cx="101.8" cy="536.5" r="5.2"/><circle cx="101.9" cy="536.6" r="5.2"/><circle cx="102.1" cy="534.6" r="5.2"/><circle cx="102.3" cy="545.0" r="5.2"/><circle cx="102.4" cy="529.6" r="5.2"/><circle cx="102.6" cy="538.6" r="5.2"/><circle cx="102.7" cy="538.3" r="5.2"/><circle cx="102.9" cy="534.5" r="5.2"/><circle cx="103.1" cy="537.3" r="5.2"/><circle cx="103.2" cy="540.1" r="5.2"/><circle cx="103.4" cy="537.1" r="5.2"/><circle cx="103.5" cy="538.1" r="5.2"/><circle cx="103.7" cy="539.1" r="5.2"/><circle cx="103.9" cy="528.1" r="5.2"/><circle cx="104.0" cy="542.0" r="5.2"/><circle cx="104.2" cy="545.1" r="5.2"/><circle cx="104.4" cy="539.8" r="5.2"/><circle cx="104.5" cy="539.8" r="5.2"/><circle cx="104.7" cy="530.0" r="5.2"/><circle cx="104.9" cy="535.0" r="5.2"/><circle cx="105.0" cy="532.2" r="5.2"/><circle cx="105.2" cy="532.9" r="5.2"/><circle cx="105.4" cy="539.0" r="5.2"/><circle cx="105.5" cy="531.8" r="5.2"/><circle cx="105.7" cy="534.4" r="5.2"/><circle cx="105.9" cy="527.2" r="5.2"/><circle cx="106.0" cy="534.1" r="5.2"/><circle cx="106.2" cy="535.0" r="5.2"/><circle cx="106.4" cy="531.7" r="5.2"/><circle cx="106.5" cy="531.5" r="5.2"/><circle cx="106.7" cy="541.8" r="5.2"/><circle cx="106.9" cy="529.3" r="5.2"/><circle cx="107.1" cy="529.8" r="5.2"/><circle cx="107.2" cy="530.7" r="5.2"/><circle cx="107.4" cy="538.6" r="5.2"/><circle cx="107.6" cy="542.1" r="5.2"/><circle cx="107.7" cy="534.9" r="5.2"/><circle cx="107.9" cy="530.6" r="5.2"/><circle cx="108.1" cy="531.6" r="5.2"/><circle cx="108.3" cy="537.5" r="5.2"/><circle cx="108.4" cy="529.4" r="5.2"/><circle cx="108.6" cy="538.8" r="5.2"/><circle cx="108.8" cy="538.5" r="5.2"/><circle cx="109.0" cy="533.0" r="5.2"/><circle cx="109.1" cy="535.2" r="5.2"/><circle cx="109.3" cy="535.5" r="5.2"/><circle cx="109.5" cy="538.6" r="5.2"/><circle cx="109.7" cy="528.0" r="5.2"/><circle cx="109.8" cy="536.8" r="5.2"/><circle cx="110.0" cy="530.5" r="5.2"/><circle cx="110.2" cy="528.7" r="5.2"/><circle cx="110.4" cy="532.0" r="5.2"/><circle cx="110.5" cy="530.5" r="5.2"/><circle cx="110.7" cy="527.2" r="5.2"/><circle cx="110.9" cy="524.6" r="5.2"/><circle cx="111.1" cy="527.0" r="5.2"/><circle cx="111.3" cy="536.4" r="5.2"/><circle cx="111.4" cy="538.2" r="5.2"/><circle cx="111.6" cy="532.8" r="5.2"/><circle cx="111.8" cy="534.7" r="5.2"/><circle cx="112.0" cy="527.7" r="5.2"/><circle cx="112.2" cy="529.3" r="5.2"/><circle cx="112.4" cy="530.5" r="5.2"/><circle cx="112.5" cy="524.8" r="5.2"/><circle cx="112.7" cy="525.0" r="5.2"/><circle cx="112.9" cy="529.2" r="5.2"/><circle cx="113.1" cy="527.3" r="5.2"/><circle cx="113.3" cy="524.1" r="5.2"/><circle cx="113.5" cy="529.7" r="5.2"/><circle cx="113.7" cy="526.9" r="5.2"/><circle cx="113.8" cy="531.8" r="5.2"/><circle cx="114.0" cy="527.5" r="5.2"/><circle cx="114.2" cy="526.1" r="5.2"/><circle cx="114.4" cy="527.6" r="5.2"/><circle cx="114.6" cy="526.2" r="5.2"/><circle cx="114.8" cy="524.0" r="5.2"/><circle cx="115.0" cy="524.9" r="5.2"/><circle cx="115.2" cy="529.3" r="5.2"/><circle cx="115.3" cy="528.6" r="5.2"/><circle cx="115.5" cy="531.0" r="5.2"/><circle cx="115.7" cy="518.9" r="5.2"/><circle cx="115.9" cy="523.8" r="5.2"/><circle cx="116.1" cy="523.5" r="5.2"/><circle cx="116.3" cy="525.7" r="5.2"/><circle cx="116.5" cy="523.0" r="5.2"/><circle cx="116.7" cy="522.5" r="5.2"/><circle cx="116.9" cy="527.5" r="5.2"/><circle cx="117.1" cy="524.8" r="5.2"/><circle cx="117.3" cy="519.2" r="5.2"/><circle cx="117.5" cy="529.0" r="5.2"/><circle cx="117.7" cy="527.5" r="5.2"/><circle cx="117.9" cy="521.0" r="5.2"/><circle cx="118.1" cy="526.4" r="5.2"/><circle cx="118.3" cy="519.9" r="5.2"/><circle cx="118.5" cy="527.1" r="5.2"/><circle cx="118.7" cy="521.5" r="5.2"/><circle cx="118.9" cy="519.0" r="5.2"/><circle cx="119.1" cy="520.5" r="5.2"/><circle cx="119.3" cy="518.7" r="5.2"/><circle cx="119.5" cy="522.4" r="5.2"/><circle cx="119.7" cy="522.1" r="5.2"/><circle cx="119.9" cy="521.4" r="5.2"/><circle cx="120.1" cy="518.8" r="5.2"/><circle cx="120.3" cy="506.2" r="5.2"/><circle cx="120.5" cy="521.0" r="5.2"/><circle cx="120.7" cy="512.9" r="5.2"/><circle cx="120.9" cy="521.3" r="5.2"/><circle cx="121.1" cy="524.6" r="5.2"/><circle cx="121.3" cy="521.0" r="5.2"/><circle cx="121.5" cy="518.2" r="5.2"/><circle cx="121.7" cy="518.8" r="5.2"/><circle cx="121.9" cy="518.8" r="5.2"/><circle cx="122.1" cy="517.0" r="5.2"/><circle cx="122.3" cy="516.6" r="5.2"/><circle cx="122.5" cy="515.1" r="5.2"/><circle cx="122.7" cy="523.3" r="5.2"/><circle cx="122.9" cy="518.3" r="5.2"/><circle cx="123.1" cy="522.0" r="5.2"/><circle cx="123.4" cy="517.0" r="5.2"/><circle cx="123.6" cy="518.1" r="5.2"/><circle cx="123.8" cy="517.0" r="5.2"/><circle cx="124.0" cy="519.3" r="5.2"/><circle cx="124.2" cy="520.6" r="5.2"/><circle cx="124.4" cy="518.0" r="5.2"/><circle cx="124.6" cy="514.2" r="5.2"/><circle cx="124.8" cy="513.5" r="5.2"/><circle cx="125.1" cy="523.1" r="5.2"/><circle cx="125.3" cy="515.1" r="5.2"/><circle cx="125.5" cy="514.9" r="5.2"/><circle cx="125.7" cy="521.7" r="5.2"/><circle cx="125.9" cy="520.0" r="5.2"/><circle cx="126.1" cy="517.6" r="5.2"/><circle cx="126.3" cy="513.7" r="5.2"/><circle cx="126.6" cy="524.5" r="5.2"/><circle cx="126.8" cy="516.5" r="5.2"/><circle cx="127.0" cy="516.9" r="5.2"/><circle cx="127.2" cy="513.8" r="5.2"/><circle cx="127.4" cy="508.6" r="5.2"/><circle cx="127.7" cy="508.7" r="5.2"/><circle cx="127.9" cy="515.5" r="5.2"/><circle cx="128.1" cy="515.2" r="5.2"/><circle cx="128.3" cy="512.5" r="5.2"/><circle cx="128.6" cy="508.6" r="5.2"/><circle cx="128.8" cy="507.3" r="5.2"/><circle cx="129.0" cy="511.5" r="5.2"/><circle cx="129.2" cy="506.8" r="5.2"/><circle cx="129.5" cy="516.0" r="5.2"/><circle cx="129.7" cy="516.8" r="5.2"/><circle cx="129.9" cy="523.3" r="5.2"/><circle cx="130.1" cy="515.3" r="5.2"/><circle cx="130.4" cy="509.2" r="5.2"/><circle cx="130.6" cy="507.9" r="5.2"/><circle cx="130.8" cy="497.4" r="5.2"/><circle cx="131.1" cy="508.6" r="5.2"/><circle cx="131.3" cy="510.1" r="5.2"/><circle cx="131.5" cy="514.4" r="5.2"/><circle cx="131.7" cy="512.8" r="5.2"/><circle cx="132.0" cy="512.5" r="5.2"/><circle cx="132.2" cy="510.8" r="5.2"/><circle cx="132.4" cy="512.3" r="5.2"/><circle cx="132.7" cy="515.3" r="5.2"/><circle cx="132.9" cy="505.0" r="5.2"/><circle cx="133.2" cy="507.2" r="5.2"/><circle cx="133.4" cy="503.3" r="5.2"/><circle cx="133.6" cy="515.1" r="5.2"/><circle cx="133.9" cy="513.6" r="5.2"/><circle cx="134.1" cy="511.2" r="5.2"/><circle cx="134.3" cy="503.2" r="5.2"/><circle cx="134.6" cy="508.4" r="5.2"/><circle cx="134.8" cy="506.6" r="5.2"/><circle cx="135.1" cy="507.6" r="5.2"/><circle cx="135.3" cy="506.3" r="5.2"/><circle cx="135.5" cy="509.0" r="5.2"/><circle cx="135.8" cy="505.1" r="5.2"/><circle cx="136.0" cy="509.8" r="5.2"/><circle cx="136.3" cy="507.2" r="5.2"/><circle cx="136.5" cy="504.8" r="5.2"/><circle cx="136.8" cy="505.3" r="5.2"/><circle cx="137.0" cy="503.8" r="5.2"/><circle cx="137.3" cy="508.6" r="5.2"/><circle cx="137.5" cy="504.0" r="5.2"/><circle cx="137.8" cy="506.0" r="5.2"/><circle cx="138.0" cy="503.1" r="5.2"/><circle cx="138.3" cy="498.5" r="5.2"/><circle cx="138.5" cy="507.8" r="5.2"/><circle cx="138.8" cy="499.7" r="5.2"/><circle cx="139.0" cy="506.4" r="5.2"/><circle cx="139.3" cy="505.2" r="5.2"/><circle cx="139.5" cy="496.6" r="5.2"/><circle cx="139.8" cy="499.2" r="5.2"/><circle cx="140.0" cy="500.7" r="5.2"/><circle cx="140.3" cy="499.3" r="5.2"/><circle cx="140.5" cy="497.6" r="5.2"/><circle cx="140.8" cy="505.0" r="5.2"/><circle cx="141.0" cy="500.9" r="5.2"/><circle cx="141.3" cy="503.2" r="5.2"/><circle cx="141.6" cy="499.7" r="5.2"/><circle cx="141.8" cy="502.4" r="5.2"/><circle cx="142.1" cy="497.9" r="5.2"/><circle cx="142.3" cy="500.6" r="5.2"/><circle cx="142.6" cy="502.8" r="5.2"/><circle cx="142.9" cy="500.4" r="5.2"/><circle cx="143.1" cy="498.1" r="5.2"/><circle cx="143.4" cy="495.4" r="5.2"/><circle cx="143.7" cy="500.1" r="5.2"/><circle cx="143.9" cy="500.6" r="5.2"/><circle cx="144.2" cy="497.9" r="5.2"/><circle cx="144.5" cy="495.7" r="5.2"/><circle cx="144.7" cy="500.7" r="5.2"/><circle cx="145.0" cy="508.2" r="5.2"/><circle cx="145.3" cy="496.8" r="5.2"/><circle cx="145.5" cy="499.1" r="5.2"/><circle cx="145.8" cy="499.0" r="5.2"/><circle cx="146.1" cy="487.0" r="5.2"/><circle cx="146.3" cy="497.5" r="5.2"/><circle cx="146.6" cy="493.9" r="5.2"/><circle cx="146.9" cy="502.0" r="5.2"/><circle cx="147.2" cy="495.2" r="5.2"/><circle cx="147.4" cy="492.9" r="5.2"/><circle cx="147.7" cy="494.9" r="5.2"/><circle cx="148.0" cy="496.2" r="5.2"/><circle cx="148.3" cy="493.0" r="5.2"/><circle cx="148.5" cy="494.8" r="5.2"/><circle cx="148.8" cy="489.3" r="5.2"/><circle cx="149.1" cy="493.6" r="5.2"/><circle cx="149.4" cy="497.3" r="5.2"/><circle cx="149.7" cy="501.8" r="5.2"/><circle cx="150.0" cy="496.5" r="5.2"/><circle cx="150.2" cy="494.5" r="5.2"/><circle cx="150.5" cy="497.9" r="5.2"/><circle cx="150.8" cy="497.0" r="5.2"/><circle cx="151.1" cy="499.3" r="5.2"/><circle cx="151.4" cy="496.7" r="5.2"/><circle cx="151.7" cy="491.7" r="5.2"/><circle cx="152.0" cy="492.9" r="5.2"/><circle cx="152.2" cy="492.3" r="5.2"/><circle cx="152.5" cy="492.5" r="5.2"/><circle cx="152.8" cy="491.9" r="5.2"/><circle cx="153.1" cy="487.7" r="5.2"/><circle cx="153.4" cy="482.1" r="5.2"/><circle cx="153.7" cy="487.6" r="5.2"/><circle cx="154.0" cy="481.9" r="5.2"/><circle cx="154.3" cy="489.9" r="5.2"/><circle cx="154.6" cy="489.2" r="5.2"/><circle cx="154.9" cy="482.1" r="5.2"/><circle cx="155.2" cy="491.1" r="5.2"/><circle cx="155.5" cy="491.4" r="5.2"/><circle cx="155.8" cy="487.9" r="5.2"/><circle cx="156.1" cy="493.8" r="5.2"/><circle cx="156.4" cy="494.2" r="5.2"/><circle cx="156.7" cy="481.5" r="5.2"/><circle cx="157.0" cy="490.0" r="5.2"/><circle cx="157.3" cy="487.2" r="5.2"/><circle cx="157.6" cy="486.7" r="5.2"/><circle cx="157.9" cy="488.3" r="5.2"/><circle cx="158.2" cy="481.3" r="5.2"/><circle cx="158.5" cy="481.4" r="5.2"/><circle cx="158.8" cy="480.0" r="5.2"/><circle cx="159.2" cy="479.9" r="5.2"/><circle cx="159.5" cy="482.1" r="5.2"/><circle cx="159.8" cy="476.2" r="5.2"/><circle cx="160.1" cy="477.4" r="5.2"/><circle cx="160.4" cy="483.5" r="5.2"/><circle cx="160.7" cy="480.5" r="5.2"/><circle cx="161.0" cy="481.8" r="5.2"/><circle cx="161.4" cy="472.4" r="5.2"/><circle cx="161.7" cy="476.3" r="5.2"/><circle cx="162.0" cy="476.8" r="5.2"/><circle cx="162.3" cy="478.7" r="5.2"/><circle cx="162.6" cy="475.8" r="5.2"/><circle cx="163.0" cy="481.3" r="5.2"/><circle cx="163.3" cy="477.0" r="5.2"/><circle cx="163.6" cy="476.9" r="5.2"/><circle cx="163.9" cy="476.4" r="5.2"/><circle cx="164.3" cy="478.6" r="5.2"/><circle cx="164.6" cy="473.6" r="5.2"/><circle cx="164.9" cy="479.3" r="5.2"/><circle cx="165.2" cy="476.3" r="5.2"/><circle cx="165.6" cy="474.7" r="5.2"/><circle cx="165.9" cy="473.8" r="5.2"/><circle cx="166.2" cy="475.2" r="5.2"/><circle cx="166.6" cy="476.6" r="5.2"/><circle cx="166.9" cy="475.9" r="5.2"/><circle cx="167.2" cy="473.2" r="5.2"/><circle cx="167.6" cy="474.7" r="5.2"/><circle cx="167.9" cy="471.3" r="5.2"/><circle cx="168.3" cy="475.2" r="5.2"/><circle cx="168.6" cy="469.8" r="5.2"/><circle cx="168.9" cy="461.6" r="5.2"/><circle cx="169.3" cy="474.0" r="5.2"/><circle cx="169.6" cy="468.9" r="5.2"/><circle cx="170.0" cy="463.6" r="5.2"/><circle cx="170.3" cy="466.9" r="5.2"/><circle cx="170.7" cy="464.0" r="5.2"/><circle cx="171.0" cy="474.8" r="5.2"/><circle cx="171.4" cy="468.5" r="5.2"/><circle cx="171.7" cy="460.4" r="5.2"/><circle cx="172.1" cy="468.0" r="5.2"/><circle cx="172.4" cy="464.1" r="5.2"/><circle cx="172.8" cy="472.3" r="5.2"/><circle cx="173.1" cy="461.0" r="5.2"/><circle cx="173.5" cy="456.2" r="5.2"/><circle cx="173.8" cy="464.4" r="5.2"/><circle cx="174.2" cy="462.5" r="5.2"/><circle cx="174.6" cy="461.9" r="5.2"/><circle cx="174.9" cy="455.3" r="5.2"/><circle cx="175.3" cy="464.3" r="5.2"/><circle cx="175.7" cy="468.4" r="5.2"/><circle cx="176.0" cy="455.1" r="5.2"/><circle cx="176.4" cy="465.9" r="5.2"/><circle cx="176.8" cy="459.2" r="5.2"/><circle cx="177.1" cy="469.3" r="5.2"/><circle cx="177.5" cy="462.1" r="5.2"/><circle cx="177.9" cy="459.5" r="5.2"/><circle cx="178.2" cy="463.7" r="5.2"/><circle cx="178.6" cy="461.3" r="5.2"/><circle cx="179.0" cy="456.9" r="5.2"/><circle cx="179.4" cy="461.2" r="5.2"/><circle cx="179.7" cy="456.5" r="5.2"/><circle cx="180.1" cy="451.6" r="5.2"/><circle cx="180.5" cy="464.6" r="5.2"/><circle cx="180.9" cy="455.9" r="5.2"/><circle cx="181.3" cy="454.5" r="5.2"/><circle cx="181.6" cy="457.5" r="5.2"/><circle cx="182.0" cy="450.4" r="5.2"/><circle cx="182.4" cy="450.8" r="5.2"/><circle cx="182.8" cy="453.3" r="5.2"/><circle cx="183.2" cy="452.8" r="5.2"/><circle cx="183.6" cy="454.5" r="5.2"/><circle cx="184.0" cy="457.7" r="5.2"/><circle cx="184.4" cy="451.8" r="5.2"/><circle cx="184.8" cy="454.7" r="5.2"/><circle cx="185.2" cy="454.6" r="5.2"/><circle cx="185.6" cy="448.5" r="5.2"/><circle cx="186.0" cy="452.5" r="5.2"/><circle cx="186.4" cy="448.1" r="5.2"/><circle cx="186.8" cy="454.5" r="5.2"/><circle cx="187.2" cy="452.0" r="5.2"/><circle cx="187.6" cy="450.1" r="5.2"/><circle cx="188.0" cy="445.1" r="5.2"/><circle cx="188.4" cy="449.6" r="5.2"/><circle cx="188.8" cy="446.2" r="5.2"/><circle cx="189.2" cy="450.7" r="5.2"/><circle cx="189.6" cy="447.5" r="5.2"/><circle cx="190.0" cy="444.9" r="5.2"/><circle cx="190.4" cy="450.3" r="5.2"/><circle cx="190.8" cy="449.3" r="5.2"/><circle cx="191.3" cy="444.6" r="5.2"/><circle cx="191.7" cy="450.0" r="5.2"/><circle cx="192.1" cy="444.9" r="5.2"/><circle cx="192.5" cy="444.6" r="5.2"/><circle cx="192.9" cy="445.6" r="5.2"/><circle cx="193.4" cy="442.5" r="5.2"/><circle cx="193.8" cy="443.1" r="5.2"/><circle cx="194.2" cy="443.7" r="5.2"/><circle cx="194.7" cy="448.7" r="5.2"/><circle cx="195.1" cy="448.2" r="5.2"/><circle cx="195.5" cy="442.3" r="5.2"/><circle cx="196.0" cy="447.8" r="5.2"/><circle cx="196.4" cy="442.3" r="5.2"/><circle cx="196.8" cy="443.3" r="5.2"/><circle cx="197.3" cy="444.4" r="5.2"/><circle cx="197.7" cy="442.3" r="5.2"/><circle cx="198.2" cy="448.4" r="5.2"/><circle cx="198.6" cy="441.4" r="5.2"/><circle cx="199.0" cy="436.7" r="5.2"/><circle cx="199.5" cy="443.9" r="5.2"/><circle cx="199.9" cy="438.3" r="5.2"/><circle cx="200.4" cy="438.3" r="5.2"/><circle cx="200.8" cy="429.9" r="5.2"/><circle cx="201.3" cy="441.4" r="5.2"/><circle cx="201.8" cy="440.5" r="5.2"/><circle cx="202.2" cy="440.0" r="5.2"/><circle cx="202.7" cy="440.2" r="5.2"/><circle cx="203.1" cy="441.9" r="5.2"/><circle cx="203.6" cy="436.4" r="5.2"/><circle cx="204.1" cy="438.9" r="5.2"/><circle cx="204.5" cy="433.7" r="5.2"/><circle cx="205.0" cy="434.4" r="5.2"/><circle cx="205.5" cy="438.0" r="5.2"/><circle cx="205.9" cy="435.8" r="5.2"/><circle cx="206.4" cy="430.5" r="5.2"/><circle cx="206.9" cy="434.9" r="5.2"/><circle cx="207.4" cy="433.0" r="5.2"/><circle cx="207.8" cy="430.8" r="5.2"/><circle cx="208.3" cy="433.9" r="5.2"/><circle cx="208.8" cy="431.2" r="5.2"/><circle cx="209.3" cy="427.7" r="5.2"/><circle cx="209.8" cy="428.6" r="5.2"/><circle cx="210.3" cy="436.0" r="5.2"/><circle cx="210.8" cy="426.8" r="5.2"/><circle cx="211.2" cy="431.1" r="5.2"/><circle cx="211.7" cy="431.8" r="5.2"/><circle cx="212.2" cy="431.5" r="5.2"/><circle cx="212.7" cy="426.2" r="5.2"/><circle cx="213.2" cy="428.3" r="5.2"/><circle cx="213.7" cy="429.1" r="5.2"/><circle cx="214.2" cy="430.5" r="5.2"/><circle cx="214.7" cy="426.4" r="5.2"/><circle cx="215.2" cy="424.7" r="5.2"/><circle cx="215.8" cy="429.9" r="5.2"/><circle cx="216.3" cy="429.8" r="5.2"/><circle cx="216.8" cy="427.5" r="5.2"/><circle cx="217.3" cy="424.7" r="5.2"/><circle cx="217.8" cy="426.9" r="5.2"/><circle cx="218.3" cy="425.8" r="5.2"/><circle cx="218.9" cy="427.2" r="5.2"/><circle cx="219.4" cy="421.7" r="5.2"/><circle cx="219.9" cy="424.8" r="5.2"/><circle cx="220.4" cy="423.9" r="5.2"/><circle cx="221.0" cy="421.2" r="5.2"/><circle cx="221.5" cy="424.3" r="5.2"/><circle cx="222.0" cy="423.5" r="5.2"/><circle cx="222.6" cy="422.2" r="5.2"/><circle cx="223.1" cy="423.9" r="5.2"/><circle cx="223.7" cy="419.2" r="5.2"/><circle cx="224.2" cy="422.2" r="5.2"/><circle cx="224.7" cy="423.1" r="5.2"/><circle cx="225.3" cy="422.5" r="5.2"/><circle cx="225.8" cy="424.1" r="5.2"/><circle cx="226.4" cy="418.4" r="5.2"/><circle cx="226.9" cy="417.4" r="5.2"/><circle cx="227.5" cy="421.2" r="5.2"/><circle cx="228.1" cy="421.4" r="5.2"/><circle cx="228.6" cy="425.0" r="5.2"/><circle cx="229.2" cy="421.3" r="5.2"/><circle cx="229.8" cy="417.6" r="5.2"/><circle cx="230.3" cy="421.2" r="5.2"/><circle cx="230.9" cy="417.2" r="5.2"/><circle cx="231.5" cy="415.5" r="5.2"/><circle cx="232.0" cy="424.6" r="5.2"/><circle cx="232.6" cy="419.2" r="5.2"/><circle cx="233.2" cy="419.8" r="5.2"/><circle cx="233.8" cy="419.2" r="5.2"/><circle cx="234.4" cy="421.7" r="5.2"/><circle cx="235.0" cy="418.1" r="5.2"/><circle cx="235.6" cy="419.9" r="5.2"/><circle cx="236.1" cy="414.8" r="5.2"/><circle cx="236.7" cy="413.7" r="5.2"/><circle cx="237.3" cy="419.6" r="5.2"/><circle cx="237.9" cy="419.4" r="5.2"/><circle cx="238.5" cy="417.1" r="5.2"/><circle cx="239.2" cy="416.2" r="5.2"/><circle cx="239.8" cy="415.8" r="5.2"/><circle cx="240.4" cy="413.7" r="5.2"/><circle cx="241.0" cy="418.0" r="5.2"/><circle cx="241.6" cy="415.8" r="5.2"/><circle cx="242.2" cy="415.2" r="5.2"/><circle cx="242.8" cy="414.6" r="5.2"/><circle cx="243.5" cy="415.6" r="5.2"/><circle cx="244.1" cy="414.2" r="5.2"/><circle cx="244.7" cy="414.4" r="5.2"/><circle cx="245.4" cy="410.2" r="5.2"/><circle cx="246.0" cy="413.2" r="5.2"/><circle cx="246.6" cy="416.3" r="5.2"/><circle cx="247.3" cy="410.5" r="5.2"/><circle cx="247.9" cy="411.0" r="5.2"/><circle cx="248.6" cy="412.7" r="5.2"/><circle cx="249.2" cy="412.7" r="5.2"/><circle cx="249.9" cy="411.8" r="5.2"/><circle cx="250.5" cy="407.1" r="5.2"/><circle cx="251.2" cy="411.1" r="5.2"/><circle cx="251.9" cy="407.6" r="5.2"/><circle cx="252.5" cy="408.1" r="5.2"/><circle cx="253.2" cy="410.6" r="5.2"/><circle cx="253.9" cy="408.7" r="5.2"/><circle cx="254.5" cy="410.7" r="5.2"/><circle cx="255.2" cy="415.2" r="5.2"/><circle cx="255.9" cy="410.3" r="5.2"/><circle cx="256.6" cy="409.9" r="5.2"/><circle cx="257.3" cy="406.5" r="5.2"/><circle cx="257.9" cy="406.8" r="5.2"/><circle cx="258.6" cy="406.0" r="5.2"/><circle cx="259.3" cy="407.3" r="5.2"/><circle cx="260.0" cy="406.4" r="5.2"/><circle cx="260.7" cy="407.4" r="5.2"/><circle cx="261.4" cy="408.6" r="5.2"/><circle cx="262.2" cy="407.0" r="5.2"/><circle cx="262.9" cy="406.3" r="5.2"/><circle cx="263.6" cy="406.5" r="5.2"/><circle cx="264.3" cy="410.9" r="5.2"/><circle cx="265.0" cy="410.2" r="5.2"/><circle cx="265.7" cy="412.8" r="5.2"/><circle cx="266.5" cy="413.2" r="5.2"/><circle cx="267.2" cy="409.9" r="5.2"/><circle cx="267.9" cy="412.8" r="5.2"/><circle cx="268.7" cy="407.2" r="5.2"/><circle cx="269.4" cy="417.4" r="5.2"/><circle cx="270.2" cy="414.6" r="5.2"/><circle cx="270.9" cy="410.6" r="5.2"/><circle cx="271.7" cy="407.8" r="5.2"/><circle cx="272.4" cy="412.5" r="5.2"/><circle cx="273.2" cy="405.5" r="5.2"/><circle cx="274.0" cy="408.9" r="5.2"/><circle cx="274.7" cy="414.1" r="5.2"/><circle cx="275.5" cy="411.9" r="5.2"/><circle cx="276.3" cy="409.9" r="5.2"/><circle cx="277.1" cy="415.2" r="5.2"/><circle cx="277.9" cy="407.9" r="5.2"/><circle cx="278.6" cy="413.0" r="5.2"/><circle cx="279.4" cy="410.0" r="5.2"/><circle cx="280.2" cy="408.6" r="5.2"/><circle cx="281.0" cy="413.8" r="5.2"/><circle cx="281.8" cy="407.9" r="5.2"/><circle cx="282.6" cy="419.5" r="5.2"/><circle cx="283.5" cy="409.4" r="5.2"/><circle cx="284.3" cy="419.9" r="5.2"/><circle cx="285.1" cy="413.2" r="5.2"/><circle cx="286.0" cy="416.0" r="5.2"/><circle cx="287.6" cy="408.6" r="5.2"/><circle cx="288.0" cy="410.0" r="5.2"/><circle cx="288.4" cy="407.4" r="5.2"/><circle cx="289.3" cy="402.6" r="5.2"/><circle cx="292.0" cy="406.0" r="5.2"/><circle cx="293.5" cy="409.2" r="5.2"/><circle cx="294.0" cy="397.2" r="5.2"/><circle cx="296.0" cy="418.0" r="5.2"/><circle cx="296.1" cy="408.6" r="5.2"/><circle cx="298.0" cy="412.0" r="5.2"/><circle cx="299.7" cy="408.2" r="5.2"/><circle cx="302.0" cy="408.0" r="5.2"/><circle cx="304.2" cy="435.0" r="5.2"/><circle cx="305.2" cy="407.0" r="5.2"/><circle cx="306.0" cy="437.0" r="5.2"/><circle cx="306.1" cy="434.9" r="5.2"/><circle cx="308.9" cy="439.0" r="5.2"/><circle cx="309.0" cy="401.0" r="5.2"/><circle cx="309.0" cy="440.0" r="5.2"/><circle cx="309.9" cy="402.1" r="5.2"/><circle cx="312.0" cy="441.0" r="5.2"/><circle cx="314.0" cy="405.0" r="5.2"/><circle cx="314.0" cy="439.0" r="5.2"/><circle cx="314.7" cy="418.3" r="5.2"/><circle cx="315.8" cy="378.8" r="5.2"/><circle cx="316.6" cy="433.9" r="5.2"/><circle cx="318.0" cy="418.0" r="5.2"/><circle cx="320.0" cy="412.0" r="5.2"/><circle cx="322.7" cy="427.6" r="5.2"/><circle cx="323.0" cy="425.0" r="5.2"/><circle cx="324.7" cy="416.1" r="5.2"/><circle cx="325.8" cy="424.5" r="5.2"/><circle cx="326.7" cy="431.3" r="5.2"/><circle cx="326.8" cy="423.6" r="5.2"/><circle cx="327.8" cy="425.8" r="5.2"/><circle cx="328.1" cy="417.7" r="5.2"/><circle cx="330.0" cy="433.5" r="5.2"/><circle cx="330.1" cy="367.3" r="5.2"/><circle cx="330.8" cy="454.4" r="5.2"/><circle cx="333.2" cy="361.6" r="5.2"/><circle cx="334.2" cy="476.9" r="5.2"/><circle cx="334.9" cy="434.0" r="5.2"/><circle cx="336.5" cy="437.7" r="5.2"/><circle cx="337.6" cy="485.1" r="5.2"/><circle cx="339.0" cy="462.6" r="5.2"/><circle cx="340.4" cy="442.2" r="5.2"/><circle cx="340.9" cy="444.2" r="5.2"/><circle cx="342.0" cy="445.3" r="5.2"/><circle cx="343.1" cy="387.7" r="5.2"/><circle cx="346.6" cy="387.1" r="5.2"/><circle cx="347.2" cy="431.3" r="5.2"/><circle cx="347.2" cy="439.4" r="5.2"/><circle cx="347.8" cy="438.3" r="5.2"/><circle cx="349.0" cy="456.9" r="5.2"/><circle cx="349.9" cy="453.0" r="5.2"/><circle cx="350.1" cy="429.7" r="5.2"/><circle cx="351.3" cy="436.7" r="5.2"/><circle cx="351.3" cy="442.6" r="5.2"/><circle cx="352.6" cy="444.9" r="5.2"/><circle cx="353.7" cy="455.7" r="5.2"/><circle cx="354.9" cy="430.9" r="5.2"/><circle cx="355.3" cy="409.5" r="5.2"/><circle cx="356.0" cy="430.0" r="5.2"/><circle cx="356.1" cy="441.6" r="5.2"/><circle cx="359.4" cy="419.0" r="5.2"/><circle cx="359.8" cy="431.1" r="5.2"/><circle cx="362.0" cy="428.0" r="5.2"/><circle cx="362.3" cy="427.0" r="5.2"/><circle cx="363.6" cy="433.9" r="5.2"/><circle cx="364.8" cy="432.0" r="5.2"/><circle cx="366.0" cy="434.0" r="5.2"/><circle cx="366.1" cy="427.4" r="5.2"/><circle cx="367.4" cy="430.5" r="5.2"/><circle cx="368.7" cy="436.9" r="5.2"/><circle cx="370.0" cy="431.4" r="5.2"/><circle cx="371.3" cy="430.8" r="5.2"/><circle cx="372.6" cy="436.7" r="5.2"/><circle cx="373.9" cy="437.4" r="5.2"/><circle cx="375.3" cy="437.8" r="5.2"/><circle cx="376.6" cy="431.9" r="5.2"/><circle cx="378.0" cy="434.8" r="5.2"/><circle cx="379.3" cy="438.9" r="5.2"/><circle cx="380.7" cy="433.4" r="5.2"/><circle cx="382.1" cy="433.4" r="5.2"/><circle cx="383.5" cy="438.9" r="5.2"/><circle cx="384.9" cy="441.5" r="5.2"/><circle cx="386.3" cy="432.0" r="5.2"/><circle cx="387.7" cy="426.9" r="5.2"/><circle cx="389.1" cy="430.9" r="5.2"/><circle cx="389.4" cy="420.6" r="5.2"/><circle cx="390.5" cy="432.5" r="5.2"/><circle cx="392.0" cy="435.5" r="5.2"/><circle cx="393.4" cy="438.2" r="5.2"/><circle cx="394.9" cy="435.5" r="5.2"/><circle cx="396.4" cy="434.0" r="5.2"/><circle cx="397.8" cy="437.5" r="5.2"/><circle cx="399.3" cy="434.1" r="5.2"/><circle cx="400.8" cy="437.8" r="5.2"/><circle cx="402.3" cy="436.2" r="5.2"/><circle cx="403.9" cy="448.3" r="5.2"/><circle cx="405.4" cy="442.3" r="5.2"/><circle cx="406.9" cy="437.1" r="5.2"/><circle cx="408.5" cy="437.0" r="5.2"/><circle cx="410.1" cy="439.4" r="5.2"/><circle cx="411.6" cy="435.6" r="5.2"/><circle cx="413.2" cy="439.3" r="5.2"/><circle cx="414.8" cy="439.8" r="5.2"/><circle cx="416.4" cy="445.9" r="5.2"/><circle cx="418.1" cy="441.7" r="5.2"/><circle cx="419.7" cy="440.6" r="5.2"/><circle cx="421.3" cy="438.9" r="5.2"/><circle cx="423.0" cy="439.7" r="5.2"/><circle cx="424.7" cy="443.9" r="5.2"/><circle cx="426.3" cy="443.6" r="5.2"/><circle cx="428.0" cy="448.5" r="5.2"/><circle cx="429.7" cy="442.6" r="5.2"/><circle cx="431.4" cy="448.9" r="5.2"/><circle cx="433.2" cy="446.8" r="5.2"/><circle cx="434.9" cy="446.5" r="5.2"/><circle cx="436.7" cy="440.2" r="5.2"/><circle cx="438.4" cy="443.5" r="5.2"/><circle cx="440.2" cy="451.3" r="5.2"/><circle cx="442.0" cy="454.0" r="5.2"/><circle cx="443.8" cy="450.0" r="5.2"/><circle cx="445.6" cy="452.1" r="5.2"/><circle cx="447.5" cy="448.2" r="5.2"/><circle cx="449.3" cy="448.5" r="5.2"/><circle cx="451.2" cy="447.6" r="5.2"/><circle cx="453.0" cy="453.8" r="5.2"/><circle cx="454.9" cy="452.2" r="5.2"/><circle cx="456.8" cy="450.8" r="5.2"/><circle cx="458.8" cy="451.1" r="5.2"/><circle cx="460.7" cy="454.8" r="5.2"/><circle cx="462.6" cy="454.7" r="5.2"/><circle cx="464.6" cy="451.1" r="5.2"/><circle cx="466.6" cy="460.2" r="5.2"/><circle cx="468.6" cy="455.2" r="5.2"/><circle cx="470.6" cy="454.4" r="5.2"/><circle cx="472.6" cy="459.7" r="5.2"/><circle cx="474.7" cy="458.3" r="5.2"/><circle cx="476.7" cy="454.5" r="5.2"/><circle cx="478.8" cy="456.8" r="5.2"/></g><g clip-path="url(#cL3)" fill="#fff" stroke="#e5553a" stroke-width="1.55"><circle cx="75.5" cy="847.4" r="5.2"/><circle cx="75.6" cy="832.6" r="5.2"/><circle cx="75.7" cy="827.3" r="5.2"/><circle cx="75.8" cy="841.4" r="5.2"/><circle cx="75.9" cy="831.5" r="5.2"/><circle cx="76.1" cy="835.9" r="5.2"/><circle cx="76.2" cy="844.3" r="5.2"/><circle cx="76.3" cy="833.4" r="5.2"/><circle cx="76.4" cy="843.9" r="5.2"/><circle cx="76.5" cy="834.1" r="5.2"/><circle cx="76.6" cy="847.4" r="5.2"/><circle cx="76.7" cy="846.3" r="5.2"/><circle cx="76.8" cy="835.3" r="5.2"/><circle cx="76.9" cy="836.8" r="5.2"/><circle cx="77.0" cy="833.0" r="5.2"/><circle cx="77.1" cy="839.1" r="5.2"/><circle cx="77.2" cy="844.6" r="5.2"/><circle cx="77.4" cy="829.3" r="5.2"/><circle cx="77.4" cy="797.7" r="5.2"/><circle cx="77.5" cy="843.1" r="5.2"/><circle cx="77.6" cy="829.9" r="5.2"/><circle cx="77.7" cy="832.6" r="5.2"/><circle cx="77.8" cy="827.2" r="5.2"/><circle cx="77.9" cy="849.4" r="5.2"/><circle cx="78.0" cy="837.7" r="5.2"/><circle cx="78.1" cy="838.6" r="5.2"/><circle cx="78.2" cy="833.4" r="5.2"/><circle cx="78.3" cy="843.0" r="5.2"/><circle cx="78.5" cy="825.4" r="5.2"/><circle cx="78.6" cy="837.1" r="5.2"/><circle cx="78.7" cy="848.9" r="5.2"/><circle cx="78.8" cy="834.7" r="5.2"/><circle cx="78.8" cy="856.1" r="5.2"/><circle cx="78.9" cy="836.8" r="5.2"/><circle cx="79.0" cy="840.2" r="5.2"/><circle cx="79.1" cy="832.3" r="5.2"/><circle cx="79.2" cy="836.6" r="5.2"/><circle cx="79.4" cy="841.4" r="5.2"/><circle cx="79.5" cy="837.4" r="5.2"/><circle cx="79.6" cy="838.2" r="5.2"/><circle cx="79.7" cy="834.4" r="5.2"/><circle cx="79.8" cy="837.7" r="5.2"/><circle cx="79.9" cy="836.3" r="5.2"/><circle cx="80.0" cy="843.2" r="5.2"/><circle cx="80.2" cy="839.5" r="5.2"/><circle cx="80.3" cy="834.6" r="5.2"/><circle cx="80.4" cy="823.7" r="5.2"/><circle cx="80.5" cy="839.1" r="5.2"/><circle cx="80.6" cy="839.2" r="5.2"/><circle cx="80.7" cy="831.0" r="5.2"/><circle cx="80.9" cy="825.8" r="5.2"/><circle cx="81.0" cy="829.8" r="5.2"/><circle cx="81.1" cy="839.6" r="5.2"/><circle cx="81.2" cy="830.1" r="5.2"/><circle cx="81.3" cy="832.9" r="5.2"/><circle cx="81.4" cy="835.9" r="5.2"/><circle cx="81.6" cy="840.5" r="5.2"/><circle cx="81.7" cy="834.7" r="5.2"/><circle cx="81.8" cy="834.2" r="5.2"/><circle cx="81.9" cy="832.1" r="5.2"/><circle cx="82.0" cy="841.8" r="5.2"/><circle cx="82.1" cy="839.2" r="5.2"/><circle cx="82.3" cy="833.9" r="5.2"/><circle cx="82.4" cy="828.1" r="5.2"/><circle cx="82.5" cy="830.7" r="5.2"/><circle cx="82.6" cy="836.6" r="5.2"/><circle cx="82.7" cy="830.8" r="5.2"/><circle cx="82.9" cy="837.7" r="5.2"/><circle cx="83.0" cy="835.3" r="5.2"/><circle cx="83.1" cy="834.9" r="5.2"/><circle cx="83.2" cy="836.3" r="5.2"/><circle cx="83.3" cy="835.6" r="5.2"/><circle cx="83.5" cy="829.9" r="5.2"/><circle cx="83.6" cy="832.0" r="5.2"/><circle cx="83.7" cy="842.8" r="5.2"/><circle cx="83.8" cy="828.2" r="5.2"/><circle cx="83.9" cy="831.1" r="5.2"/><circle cx="84.1" cy="837.2" r="5.2"/><circle cx="84.2" cy="832.3" r="5.2"/><circle cx="84.3" cy="829.6" r="5.2"/><circle cx="84.4" cy="827.6" r="5.2"/><circle cx="84.6" cy="834.7" r="5.2"/><circle cx="84.7" cy="836.5" r="5.2"/><circle cx="84.8" cy="837.8" r="5.2"/><circle cx="84.9" cy="832.6" r="5.2"/><circle cx="85.1" cy="836.2" r="5.2"/><circle cx="85.2" cy="828.4" r="5.2"/><circle cx="85.3" cy="832.8" r="5.2"/><circle cx="85.4" cy="829.6" r="5.2"/><circle cx="85.6" cy="832.7" r="5.2"/><circle cx="85.7" cy="834.6" r="5.2"/><circle cx="85.8" cy="835.7" r="5.2"/><circle cx="85.9" cy="828.3" r="5.2"/><circle cx="86.1" cy="836.1" r="5.2"/><circle cx="86.2" cy="830.0" r="5.2"/><circle cx="86.3" cy="828.0" r="5.2"/><circle cx="86.4" cy="830.9" r="5.2"/><circle cx="86.6" cy="826.5" r="5.2"/><circle cx="86.7" cy="831.3" r="5.2"/><circle cx="86.8" cy="832.2" r="5.2"/><circle cx="86.9" cy="830.5" r="5.2"/><circle cx="87.1" cy="832.8" r="5.2"/><circle cx="87.2" cy="830.0" r="5.2"/><circle cx="87.3" cy="830.9" r="5.2"/><circle cx="87.5" cy="826.3" r="5.2"/><circle cx="87.6" cy="830.9" r="5.2"/><circle cx="87.7" cy="828.1" r="5.2"/><circle cx="87.8" cy="829.2" r="5.2"/><circle cx="88.0" cy="830.2" r="5.2"/><circle cx="88.1" cy="831.0" r="5.2"/><circle cx="88.2" cy="825.4" r="5.2"/><circle cx="88.4" cy="825.6" r="5.2"/><circle cx="88.5" cy="829.3" r="5.2"/><circle cx="88.6" cy="831.5" r="5.2"/><circle cx="88.8" cy="831.1" r="5.2"/><circle cx="88.9" cy="832.6" r="5.2"/><circle cx="89.0" cy="833.8" r="5.2"/><circle cx="89.2" cy="831.3" r="5.2"/><circle cx="89.3" cy="829.6" r="5.2"/><circle cx="89.4" cy="826.5" r="5.2"/><circle cx="89.6" cy="826.7" r="5.2"/><circle cx="89.7" cy="828.0" r="5.2"/><circle cx="89.8" cy="830.2" r="5.2"/><circle cx="90.0" cy="829.9" r="5.2"/><circle cx="90.1" cy="829.2" r="5.2"/><circle cx="90.2" cy="828.7" r="5.2"/><circle cx="90.4" cy="830.9" r="5.2"/><circle cx="90.5" cy="829.6" r="5.2"/><circle cx="90.6" cy="829.8" r="5.2"/><circle cx="90.8" cy="829.8" r="5.2"/><circle cx="90.9" cy="827.2" r="5.2"/><circle cx="91.0" cy="825.7" r="5.2"/><circle cx="91.2" cy="830.2" r="5.2"/><circle cx="91.3" cy="830.0" r="5.2"/><circle cx="91.4" cy="828.0" r="5.2"/><circle cx="91.6" cy="827.4" r="5.2"/><circle cx="91.7" cy="835.4" r="5.2"/><circle cx="91.9" cy="826.2" r="5.2"/><circle cx="92.0" cy="827.8" r="5.2"/><circle cx="92.1" cy="829.2" r="5.2"/><circle cx="92.3" cy="824.9" r="5.2"/><circle cx="92.4" cy="828.7" r="5.2"/><circle cx="92.6" cy="833.7" r="5.2"/><circle cx="92.7" cy="831.1" r="5.2"/><circle cx="92.8" cy="830.1" r="5.2"/><circle cx="93.0" cy="829.9" r="5.2"/><circle cx="93.1" cy="828.5" r="5.2"/><circle cx="93.3" cy="830.9" r="5.2"/><circle cx="93.4" cy="827.6" r="5.2"/><circle cx="93.5" cy="826.7" r="5.2"/><circle cx="93.7" cy="828.2" r="5.2"/><circle cx="93.8" cy="830.6" r="5.2"/><circle cx="94.0" cy="828.8" r="5.2"/><circle cx="94.1" cy="829.8" r="5.2"/><circle cx="94.2" cy="821.7" r="5.2"/><circle cx="94.4" cy="831.3" r="5.2"/><circle cx="94.5" cy="834.7" r="5.2"/><circle cx="94.7" cy="831.6" r="5.2"/><circle cx="94.8" cy="826.6" r="5.2"/><circle cx="95.0" cy="825.0" r="5.2"/><circle cx="95.1" cy="828.3" r="5.2"/><circle cx="95.2" cy="824.5" r="5.2"/><circle cx="95.4" cy="829.5" r="5.2"/><circle cx="95.5" cy="825.7" r="5.2"/><circle cx="95.7" cy="830.2" r="5.2"/><circle cx="95.8" cy="831.3" r="5.2"/><circle cx="96.0" cy="821.1" r="5.2"/><circle cx="96.1" cy="828.0" r="5.2"/><circle cx="96.3" cy="825.0" r="5.2"/><circle cx="96.4" cy="822.8" r="5.2"/><circle cx="96.6" cy="825.1" r="5.2"/><circle cx="96.7" cy="826.3" r="5.2"/><circle cx="96.9" cy="830.0" r="5.2"/><circle cx="97.0" cy="822.3" r="5.2"/><circle cx="97.2" cy="829.9" r="5.2"/><circle cx="97.3" cy="832.8" r="5.2"/><circle cx="97.5" cy="828.5" r="5.2"/><circle cx="97.6" cy="828.3" r="5.2"/><circle cx="97.8" cy="826.6" r="5.2"/><circle cx="97.9" cy="823.0" r="5.2"/><circle cx="98.1" cy="828.1" r="5.2"/><circle cx="98.2" cy="827.6" r="5.2"/><circle cx="98.4" cy="828.6" r="5.2"/><circle cx="98.5" cy="834.1" r="5.2"/><circle cx="98.7" cy="828.5" r="5.2"/><circle cx="98.8" cy="827.5" r="5.2"/><circle cx="99.0" cy="830.9" r="5.2"/><circle cx="99.1" cy="822.1" r="5.2"/><circle cx="99.3" cy="822.7" r="5.2"/><circle cx="99.4" cy="824.9" r="5.2"/><circle cx="99.6" cy="824.0" r="5.2"/><circle cx="99.7" cy="828.0" r="5.2"/><circle cx="99.9" cy="825.0" r="5.2"/><circle cx="100.0" cy="831.1" r="5.2"/><circle cx="100.2" cy="830.4" r="5.2"/><circle cx="100.4" cy="828.1" r="5.2"/><circle cx="100.5" cy="824.5" r="5.2"/><circle cx="100.7" cy="827.5" r="5.2"/><circle cx="100.8" cy="828.0" r="5.2"/><circle cx="101.0" cy="822.3" r="5.2"/><circle cx="101.1" cy="826.5" r="5.2"/><circle cx="101.3" cy="827.6" r="5.2"/><circle cx="101.5" cy="826.0" r="5.2"/><circle cx="101.6" cy="830.1" r="5.2"/><circle cx="101.8" cy="828.9" r="5.2"/><circle cx="101.9" cy="822.8" r="5.2"/><circle cx="102.1" cy="825.6" r="5.2"/><circle cx="102.3" cy="822.6" r="5.2"/><circle cx="102.4" cy="826.8" r="5.2"/><circle cx="102.6" cy="822.4" r="5.2"/><circle cx="102.7" cy="827.7" r="5.2"/><circle cx="102.9" cy="826.1" r="5.2"/><circle cx="103.1" cy="827.8" r="5.2"/><circle cx="103.2" cy="824.4" r="5.2"/><circle cx="103.4" cy="820.4" r="5.2"/><circle cx="103.5" cy="830.0" r="5.2"/><circle cx="103.7" cy="824.1" r="5.2"/><circle cx="103.9" cy="828.7" r="5.2"/><circle cx="104.0" cy="825.8" r="5.2"/><circle cx="104.2" cy="826.5" r="5.2"/><circle cx="104.4" cy="829.9" r="5.2"/><circle cx="104.5" cy="825.4" r="5.2"/><circle cx="104.7" cy="828.4" r="5.2"/><circle cx="104.9" cy="819.7" r="5.2"/><circle cx="105.0" cy="826.7" r="5.2"/><circle cx="105.2" cy="823.3" r="5.2"/><circle cx="105.4" cy="823.5" r="5.2"/><circle cx="105.5" cy="823.8" r="5.2"/><circle cx="105.7" cy="824.8" r="5.2"/><circle cx="105.9" cy="828.6" r="5.2"/><circle cx="106.0" cy="818.0" r="5.2"/><circle cx="106.2" cy="823.6" r="5.2"/><circle cx="106.4" cy="821.2" r="5.2"/><circle cx="106.5" cy="826.8" r="5.2"/><circle cx="106.7" cy="821.9" r="5.2"/><circle cx="106.9" cy="824.5" r="5.2"/><circle cx="107.1" cy="821.9" r="5.2"/><circle cx="107.2" cy="825.0" r="5.2"/><circle cx="107.4" cy="825.9" r="5.2"/><circle cx="107.6" cy="821.6" r="5.2"/><circle cx="107.7" cy="822.8" r="5.2"/><circle cx="107.9" cy="818.3" r="5.2"/><circle cx="108.1" cy="823.4" r="5.2"/><circle cx="108.3" cy="825.0" r="5.2"/><circle cx="108.4" cy="820.7" r="5.2"/><circle cx="108.6" cy="825.6" r="5.2"/><circle cx="108.8" cy="815.9" r="5.2"/><circle cx="109.0" cy="816.5" r="5.2"/><circle cx="109.1" cy="817.8" r="5.2"/><circle cx="109.3" cy="820.4" r="5.2"/><circle cx="109.5" cy="821.9" r="5.2"/><circle cx="109.7" cy="821.5" r="5.2"/><circle cx="109.8" cy="821.4" r="5.2"/><circle cx="110.0" cy="823.7" r="5.2"/><circle cx="110.2" cy="820.0" r="5.2"/><circle cx="110.4" cy="817.6" r="5.2"/><circle cx="110.5" cy="817.5" r="5.2"/><circle cx="110.7" cy="827.5" r="5.2"/><circle cx="110.9" cy="814.0" r="5.2"/><circle cx="111.1" cy="820.5" r="5.2"/><circle cx="111.3" cy="825.3" r="5.2"/><circle cx="111.4" cy="822.2" r="5.2"/><circle cx="111.6" cy="818.2" r="5.2"/><circle cx="111.8" cy="820.6" r="5.2"/><circle cx="112.0" cy="823.1" r="5.2"/><circle cx="112.2" cy="824.0" r="5.2"/><circle cx="112.4" cy="817.6" r="5.2"/><circle cx="112.5" cy="822.5" r="5.2"/><circle cx="112.7" cy="820.9" r="5.2"/><circle cx="112.9" cy="823.4" r="5.2"/><circle cx="113.1" cy="824.1" r="5.2"/><circle cx="113.3" cy="818.8" r="5.2"/><circle cx="113.5" cy="815.4" r="5.2"/><circle cx="113.7" cy="820.9" r="5.2"/><circle cx="113.8" cy="824.9" r="5.2"/><circle cx="114.0" cy="821.5" r="5.2"/><circle cx="114.2" cy="820.1" r="5.2"/><circle cx="114.4" cy="826.5" r="5.2"/><circle cx="114.6" cy="816.1" r="5.2"/><circle cx="114.8" cy="821.8" r="5.2"/><circle cx="115.0" cy="817.3" r="5.2"/><circle cx="115.2" cy="819.0" r="5.2"/><circle cx="115.3" cy="819.1" r="5.2"/><circle cx="115.5" cy="823.2" r="5.2"/><circle cx="115.7" cy="815.8" r="5.2"/><circle cx="115.9" cy="816.9" r="5.2"/><circle cx="116.1" cy="813.6" r="5.2"/><circle cx="116.3" cy="819.8" r="5.2"/><circle cx="116.5" cy="816.8" r="5.2"/><circle cx="116.7" cy="819.4" r="5.2"/><circle cx="116.9" cy="814.8" r="5.2"/><circle cx="117.1" cy="816.8" r="5.2"/><circle cx="117.3" cy="820.9" r="5.2"/><circle cx="117.5" cy="817.2" r="5.2"/><circle cx="117.7" cy="819.5" r="5.2"/><circle cx="117.9" cy="819.1" r="5.2"/><circle cx="118.1" cy="816.4" r="5.2"/><circle cx="118.3" cy="812.7" r="5.2"/><circle cx="118.5" cy="820.2" r="5.2"/><circle cx="118.7" cy="817.7" r="5.2"/><circle cx="118.9" cy="820.0" r="5.2"/><circle cx="119.1" cy="811.0" r="5.2"/><circle cx="119.3" cy="811.9" r="5.2"/><circle cx="119.5" cy="810.4" r="5.2"/><circle cx="119.7" cy="814.1" r="5.2"/><circle cx="119.9" cy="819.8" r="5.2"/><circle cx="120.1" cy="818.3" r="5.2"/><circle cx="120.3" cy="816.4" r="5.2"/><circle cx="120.5" cy="816.8" r="5.2"/><circle cx="120.7" cy="818.6" r="5.2"/><circle cx="120.9" cy="815.3" r="5.2"/><circle cx="121.1" cy="817.3" r="5.2"/><circle cx="121.3" cy="816.4" r="5.2"/><circle cx="121.5" cy="809.4" r="5.2"/><circle cx="121.7" cy="814.7" r="5.2"/><circle cx="121.9" cy="819.8" r="5.2"/><circle cx="122.1" cy="814.5" r="5.2"/><circle cx="122.3" cy="815.1" r="5.2"/><circle cx="122.5" cy="813.7" r="5.2"/><circle cx="122.7" cy="813.9" r="5.2"/><circle cx="122.9" cy="818.7" r="5.2"/><circle cx="123.1" cy="814.4" r="5.2"/><circle cx="123.4" cy="812.0" r="5.2"/><circle cx="123.6" cy="805.7" r="5.2"/><circle cx="123.8" cy="813.2" r="5.2"/><circle cx="124.0" cy="808.9" r="5.2"/><circle cx="124.2" cy="809.3" r="5.2"/><circle cx="124.4" cy="817.0" r="5.2"/><circle cx="124.6" cy="816.7" r="5.2"/><circle cx="124.8" cy="808.7" r="5.2"/><circle cx="125.1" cy="816.9" r="5.2"/><circle cx="125.3" cy="815.7" r="5.2"/><circle cx="125.5" cy="811.8" r="5.2"/><circle cx="125.7" cy="816.3" r="5.2"/><circle cx="125.9" cy="809.1" r="5.2"/><circle cx="126.1" cy="810.3" r="5.2"/><circle cx="126.3" cy="809.5" r="5.2"/><circle cx="126.6" cy="810.4" r="5.2"/><circle cx="126.8" cy="816.2" r="5.2"/><circle cx="127.0" cy="809.5" r="5.2"/><circle cx="127.2" cy="810.0" r="5.2"/><circle cx="127.4" cy="810.5" r="5.2"/><circle cx="127.7" cy="813.8" r="5.2"/><circle cx="127.9" cy="812.1" r="5.2"/><circle cx="128.1" cy="815.6" r="5.2"/><circle cx="128.3" cy="810.8" r="5.2"/><circle cx="128.6" cy="809.0" r="5.2"/><circle cx="128.8" cy="811.2" r="5.2"/><circle cx="129.0" cy="812.7" r="5.2"/><circle cx="129.2" cy="809.7" r="5.2"/><circle cx="129.5" cy="813.3" r="5.2"/><circle cx="129.7" cy="817.8" r="5.2"/><circle cx="129.9" cy="810.5" r="5.2"/><circle cx="130.1" cy="812.2" r="5.2"/><circle cx="130.4" cy="816.1" r="5.2"/><circle cx="130.6" cy="810.0" r="5.2"/><circle cx="130.8" cy="809.3" r="5.2"/><circle cx="131.1" cy="808.4" r="5.2"/><circle cx="131.3" cy="812.8" r="5.2"/><circle cx="131.5" cy="813.0" r="5.2"/><circle cx="131.7" cy="811.0" r="5.2"/><circle cx="132.0" cy="811.4" r="5.2"/><circle cx="132.2" cy="815.1" r="5.2"/><circle cx="132.4" cy="813.8" r="5.2"/><circle cx="132.7" cy="806.9" r="5.2"/><circle cx="132.9" cy="811.0" r="5.2"/><circle cx="133.2" cy="811.2" r="5.2"/><circle cx="133.4" cy="813.0" r="5.2"/><circle cx="133.6" cy="810.1" r="5.2"/><circle cx="133.9" cy="808.7" r="5.2"/><circle cx="134.1" cy="809.2" r="5.2"/><circle cx="134.3" cy="805.1" r="5.2"/><circle cx="134.6" cy="810.3" r="5.2"/><circle cx="134.8" cy="808.5" r="5.2"/><circle cx="135.1" cy="811.6" r="5.2"/><circle cx="135.3" cy="807.0" r="5.2"/><circle cx="135.5" cy="808.7" r="5.2"/><circle cx="135.8" cy="807.0" r="5.2"/><circle cx="136.0" cy="806.7" r="5.2"/><circle cx="136.3" cy="811.9" r="5.2"/><circle cx="136.5" cy="808.3" r="5.2"/><circle cx="136.8" cy="810.9" r="5.2"/><circle cx="137.0" cy="806.1" r="5.2"/><circle cx="137.3" cy="809.7" r="5.2"/><circle cx="137.5" cy="804.3" r="5.2"/><circle cx="137.8" cy="807.8" r="5.2"/><circle cx="138.0" cy="807.6" r="5.2"/><circle cx="138.3" cy="810.8" r="5.2"/><circle cx="138.5" cy="809.5" r="5.2"/><circle cx="138.8" cy="808.3" r="5.2"/><circle cx="139.0" cy="811.3" r="5.2"/><circle cx="139.3" cy="809.3" r="5.2"/><circle cx="139.5" cy="810.2" r="5.2"/><circle cx="139.8" cy="810.8" r="5.2"/><circle cx="140.0" cy="808.2" r="5.2"/><circle cx="140.3" cy="807.5" r="5.2"/><circle cx="140.5" cy="809.2" r="5.2"/><circle cx="140.8" cy="806.9" r="5.2"/><circle cx="141.0" cy="809.2" r="5.2"/><circle cx="141.3" cy="811.3" r="5.2"/><circle cx="141.6" cy="810.4" r="5.2"/><circle cx="141.8" cy="806.6" r="5.2"/><circle cx="142.1" cy="803.8" r="5.2"/><circle cx="142.3" cy="807.4" r="5.2"/><circle cx="142.6" cy="807.1" r="5.2"/><circle cx="142.9" cy="810.7" r="5.2"/><circle cx="143.1" cy="806.2" r="5.2"/><circle cx="143.4" cy="806.6" r="5.2"/><circle cx="143.7" cy="809.3" r="5.2"/><circle cx="143.9" cy="805.6" r="5.2"/><circle cx="144.2" cy="806.5" r="5.2"/><circle cx="144.5" cy="812.0" r="5.2"/><circle cx="144.7" cy="811.2" r="5.2"/><circle cx="145.0" cy="808.6" r="5.2"/><circle cx="145.3" cy="807.4" r="5.2"/><circle cx="145.5" cy="803.5" r="5.2"/><circle cx="145.8" cy="808.0" r="5.2"/><circle cx="146.1" cy="806.3" r="5.2"/><circle cx="146.3" cy="806.6" r="5.2"/><circle cx="146.6" cy="804.3" r="5.2"/><circle cx="146.9" cy="805.6" r="5.2"/><circle cx="147.2" cy="805.0" r="5.2"/><circle cx="147.4" cy="806.3" r="5.2"/><circle cx="147.7" cy="809.5" r="5.2"/><circle cx="148.0" cy="806.1" r="5.2"/><circle cx="148.3" cy="799.9" r="5.2"/><circle cx="148.5" cy="801.8" r="5.2"/><circle cx="148.8" cy="799.8" r="5.2"/><circle cx="149.1" cy="802.1" r="5.2"/><circle cx="149.4" cy="805.9" r="5.2"/><circle cx="149.7" cy="805.3" r="5.2"/><circle cx="150.0" cy="802.2" r="5.2"/><circle cx="150.2" cy="804.6" r="5.2"/><circle cx="150.5" cy="801.4" r="5.2"/><circle cx="150.8" cy="799.3" r="5.2"/><circle cx="151.1" cy="799.2" r="5.2"/><circle cx="151.4" cy="800.7" r="5.2"/><circle cx="151.7" cy="807.1" r="5.2"/><circle cx="152.0" cy="799.0" r="5.2"/><circle cx="152.2" cy="806.2" r="5.2"/><circle cx="152.5" cy="806.3" r="5.2"/><circle cx="152.8" cy="801.8" r="5.2"/><circle cx="153.1" cy="802.1" r="5.2"/><circle cx="153.4" cy="800.3" r="5.2"/><circle cx="153.7" cy="801.8" r="5.2"/><circle cx="154.0" cy="803.5" r="5.2"/><circle cx="154.3" cy="801.6" r="5.2"/><circle cx="154.6" cy="804.1" r="5.2"/><circle cx="154.9" cy="804.4" r="5.2"/><circle cx="155.2" cy="802.0" r="5.2"/><circle cx="155.5" cy="801.7" r="5.2"/><circle cx="155.8" cy="800.6" r="5.2"/><circle cx="156.1" cy="801.4" r="5.2"/><circle cx="156.4" cy="797.5" r="5.2"/><circle cx="156.7" cy="801.2" r="5.2"/><circle cx="157.0" cy="800.6" r="5.2"/><circle cx="157.3" cy="797.7" r="5.2"/><circle cx="157.6" cy="805.1" r="5.2"/><circle cx="157.9" cy="797.1" r="5.2"/><circle cx="158.2" cy="797.2" r="5.2"/><circle cx="158.5" cy="799.9" r="5.2"/><circle cx="158.8" cy="794.4" r="5.2"/><circle cx="159.2" cy="796.9" r="5.2"/><circle cx="159.5" cy="795.0" r="5.2"/><circle cx="159.8" cy="796.1" r="5.2"/><circle cx="160.1" cy="797.8" r="5.2"/><circle cx="160.4" cy="798.7" r="5.2"/><circle cx="160.7" cy="800.2" r="5.2"/><circle cx="161.0" cy="799.3" r="5.2"/><circle cx="161.4" cy="799.9" r="5.2"/><circle cx="161.7" cy="798.3" r="5.2"/><circle cx="162.0" cy="795.7" r="5.2"/><circle cx="162.3" cy="799.0" r="5.2"/><circle cx="162.6" cy="795.2" r="5.2"/><circle cx="163.0" cy="794.8" r="5.2"/><circle cx="163.3" cy="799.1" r="5.2"/><circle cx="163.6" cy="797.2" r="5.2"/><circle cx="163.9" cy="795.8" r="5.2"/><circle cx="164.3" cy="796.7" r="5.2"/><circle cx="164.6" cy="796.7" r="5.2"/><circle cx="164.9" cy="791.9" r="5.2"/><circle cx="165.2" cy="794.2" r="5.2"/><circle cx="165.6" cy="791.8" r="5.2"/><circle cx="165.9" cy="794.2" r="5.2"/><circle cx="166.2" cy="792.3" r="5.2"/><circle cx="166.6" cy="796.1" r="5.2"/><circle cx="166.9" cy="794.2" r="5.2"/><circle cx="167.2" cy="791.3" r="5.2"/><circle cx="167.6" cy="792.7" r="5.2"/><circle cx="167.9" cy="790.0" r="5.2"/><circle cx="168.3" cy="792.3" r="5.2"/><circle cx="168.6" cy="793.0" r="5.2"/><circle cx="168.9" cy="792.2" r="5.2"/><circle cx="169.3" cy="787.6" r="5.2"/><circle cx="169.6" cy="790.5" r="5.2"/><circle cx="170.0" cy="792.0" r="5.2"/><circle cx="170.3" cy="791.3" r="5.2"/><circle cx="170.7" cy="792.7" r="5.2"/><circle cx="171.0" cy="787.7" r="5.2"/><circle cx="171.4" cy="791.0" r="5.2"/><circle cx="171.7" cy="788.4" r="5.2"/><circle cx="172.1" cy="789.8" r="5.2"/><circle cx="172.4" cy="790.0" r="5.2"/><circle cx="172.8" cy="790.3" r="5.2"/><circle cx="173.1" cy="787.5" r="5.2"/><circle cx="173.5" cy="788.7" r="5.2"/><circle cx="173.8" cy="785.8" r="5.2"/><circle cx="174.2" cy="785.0" r="5.2"/><circle cx="174.6" cy="788.6" r="5.2"/><circle cx="174.9" cy="787.1" r="5.2"/><circle cx="175.3" cy="783.7" r="5.2"/><circle cx="175.7" cy="784.9" r="5.2"/><circle cx="176.0" cy="786.3" r="5.2"/><circle cx="176.4" cy="789.0" r="5.2"/><circle cx="176.8" cy="787.8" r="5.2"/><circle cx="177.1" cy="787.0" r="5.2"/><circle cx="177.5" cy="781.6" r="5.2"/><circle cx="177.9" cy="784.6" r="5.2"/><circle cx="178.2" cy="785.5" r="5.2"/><circle cx="178.6" cy="785.0" r="5.2"/><circle cx="179.0" cy="784.7" r="5.2"/><circle cx="179.4" cy="783.2" r="5.2"/><circle cx="179.7" cy="786.7" r="5.2"/><circle cx="180.1" cy="785.9" r="5.2"/><circle cx="180.5" cy="782.5" r="5.2"/><circle cx="180.9" cy="780.5" r="5.2"/><circle cx="181.3" cy="786.1" r="5.2"/><circle cx="181.6" cy="780.7" r="5.2"/><circle cx="182.0" cy="783.8" r="5.2"/><circle cx="182.4" cy="784.9" r="5.2"/><circle cx="182.8" cy="779.0" r="5.2"/><circle cx="183.2" cy="781.1" r="5.2"/><circle cx="183.6" cy="779.6" r="5.2"/><circle cx="184.0" cy="780.9" r="5.2"/><circle cx="184.4" cy="780.2" r="5.2"/><circle cx="184.8" cy="783.0" r="5.2"/><circle cx="185.2" cy="780.1" r="5.2"/><circle cx="185.6" cy="778.6" r="5.2"/><circle cx="186.0" cy="780.5" r="5.2"/><circle cx="186.4" cy="777.5" r="5.2"/><circle cx="186.8" cy="776.9" r="5.2"/><circle cx="187.2" cy="781.4" r="5.2"/><circle cx="187.6" cy="775.1" r="5.2"/><circle cx="188.0" cy="775.2" r="5.2"/><circle cx="188.4" cy="775.8" r="5.2"/><circle cx="188.8" cy="773.2" r="5.2"/><circle cx="189.2" cy="770.7" r="5.2"/><circle cx="189.6" cy="776.2" r="5.2"/><circle cx="190.0" cy="772.3" r="5.2"/><circle cx="190.4" cy="772.2" r="5.2"/><circle cx="190.8" cy="772.1" r="5.2"/><circle cx="191.3" cy="770.4" r="5.2"/><circle cx="191.7" cy="769.8" r="5.2"/><circle cx="192.1" cy="771.6" r="5.2"/><circle cx="192.5" cy="775.3" r="5.2"/><circle cx="192.9" cy="771.7" r="5.2"/><circle cx="193.4" cy="771.2" r="5.2"/><circle cx="193.8" cy="766.5" r="5.2"/><circle cx="194.2" cy="768.8" r="5.2"/><circle cx="194.7" cy="766.1" r="5.2"/><circle cx="195.1" cy="769.2" r="5.2"/><circle cx="195.5" cy="766.8" r="5.2"/><circle cx="196.0" cy="766.8" r="5.2"/><circle cx="196.4" cy="766.1" r="5.2"/><circle cx="196.8" cy="764.6" r="5.2"/><circle cx="197.3" cy="762.4" r="5.2"/><circle cx="197.7" cy="765.8" r="5.2"/><circle cx="198.2" cy="761.6" r="5.2"/><circle cx="198.6" cy="761.5" r="5.2"/><circle cx="199.0" cy="762.6" r="5.2"/><circle cx="199.5" cy="761.3" r="5.2"/><circle cx="199.9" cy="762.6" r="5.2"/><circle cx="200.4" cy="763.4" r="5.2"/><circle cx="200.8" cy="761.5" r="5.2"/><circle cx="201.3" cy="760.8" r="5.2"/><circle cx="201.8" cy="760.0" r="5.2"/><circle cx="202.2" cy="761.1" r="5.2"/><circle cx="202.7" cy="755.7" r="5.2"/><circle cx="203.1" cy="759.3" r="5.2"/><circle cx="203.6" cy="756.5" r="5.2"/><circle cx="204.1" cy="755.5" r="5.2"/><circle cx="204.5" cy="757.3" r="5.2"/><circle cx="205.0" cy="756.2" r="5.2"/><circle cx="205.5" cy="757.5" r="5.2"/><circle cx="205.9" cy="758.0" r="5.2"/><circle cx="206.4" cy="751.3" r="5.2"/><circle cx="206.9" cy="755.0" r="5.2"/><circle cx="207.4" cy="758.2" r="5.2"/><circle cx="207.8" cy="755.8" r="5.2"/><circle cx="208.3" cy="756.4" r="5.2"/><circle cx="208.8" cy="753.5" r="5.2"/><circle cx="209.3" cy="750.2" r="5.2"/><circle cx="209.8" cy="750.3" r="5.2"/><circle cx="210.3" cy="753.2" r="5.2"/><circle cx="210.8" cy="753.2" r="5.2"/><circle cx="211.2" cy="749.7" r="5.2"/><circle cx="211.7" cy="750.1" r="5.2"/><circle cx="212.2" cy="750.6" r="5.2"/><circle cx="212.7" cy="746.5" r="5.2"/><circle cx="213.2" cy="748.5" r="5.2"/><circle cx="213.7" cy="751.6" r="5.2"/><circle cx="214.2" cy="752.1" r="5.2"/><circle cx="214.7" cy="747.5" r="5.2"/><circle cx="215.2" cy="750.5" r="5.2"/><circle cx="215.8" cy="745.8" r="5.2"/><circle cx="216.3" cy="744.7" r="5.2"/><circle cx="216.8" cy="741.7" r="5.2"/><circle cx="217.3" cy="746.9" r="5.2"/><circle cx="217.8" cy="744.0" r="5.2"/><circle cx="218.3" cy="748.4" r="5.2"/><circle cx="218.9" cy="744.3" r="5.2"/><circle cx="219.4" cy="743.5" r="5.2"/><circle cx="219.9" cy="739.4" r="5.2"/><circle cx="220.4" cy="744.8" r="5.2"/><circle cx="221.0" cy="741.0" r="5.2"/><circle cx="221.5" cy="740.8" r="5.2"/><circle cx="222.0" cy="736.7" r="5.2"/><circle cx="222.6" cy="741.7" r="5.2"/><circle cx="223.1" cy="741.3" r="5.2"/><circle cx="223.7" cy="737.9" r="5.2"/><circle cx="224.2" cy="738.6" r="5.2"/><circle cx="224.7" cy="738.6" r="5.2"/><circle cx="225.3" cy="739.1" r="5.2"/><circle cx="225.8" cy="737.1" r="5.2"/><circle cx="226.4" cy="739.4" r="5.2"/><circle cx="226.9" cy="735.5" r="5.2"/><circle cx="227.5" cy="734.4" r="5.2"/><circle cx="228.1" cy="734.1" r="5.2"/><circle cx="228.6" cy="730.0" r="5.2"/><circle cx="229.2" cy="732.5" r="5.2"/><circle cx="229.8" cy="735.2" r="5.2"/><circle cx="230.3" cy="733.4" r="5.2"/><circle cx="230.9" cy="731.0" r="5.2"/><circle cx="231.5" cy="732.5" r="5.2"/><circle cx="232.0" cy="727.9" r="5.2"/><circle cx="232.6" cy="730.3" r="5.2"/><circle cx="233.2" cy="731.2" r="5.2"/><circle cx="233.8" cy="731.0" r="5.2"/><circle cx="234.4" cy="727.9" r="5.2"/><circle cx="235.0" cy="730.3" r="5.2"/><circle cx="235.6" cy="731.4" r="5.2"/><circle cx="236.1" cy="726.9" r="5.2"/><circle cx="236.7" cy="728.4" r="5.2"/><circle cx="237.3" cy="724.0" r="5.2"/><circle cx="237.9" cy="722.8" r="5.2"/><circle cx="238.5" cy="726.7" r="5.2"/><circle cx="239.2" cy="725.2" r="5.2"/><circle cx="239.8" cy="725.0" r="5.2"/><circle cx="240.4" cy="723.2" r="5.2"/><circle cx="241.0" cy="723.2" r="5.2"/><circle cx="241.6" cy="724.6" r="5.2"/><circle cx="242.2" cy="725.6" r="5.2"/><circle cx="242.8" cy="721.8" r="5.2"/><circle cx="243.5" cy="718.9" r="5.2"/><circle cx="244.1" cy="723.3" r="5.2"/><circle cx="244.7" cy="721.7" r="5.2"/><circle cx="245.4" cy="721.3" r="5.2"/><circle cx="246.0" cy="720.0" r="5.2"/><circle cx="246.6" cy="723.0" r="5.2"/><circle cx="247.3" cy="718.8" r="5.2"/><circle cx="247.9" cy="719.0" r="5.2"/><circle cx="248.6" cy="714.5" r="5.2"/><circle cx="249.2" cy="716.1" r="5.2"/><circle cx="249.9" cy="715.4" r="5.2"/><circle cx="250.5" cy="716.0" r="5.2"/><circle cx="251.2" cy="716.1" r="5.2"/><circle cx="251.9" cy="713.7" r="5.2"/><circle cx="252.5" cy="717.3" r="5.2"/><circle cx="253.2" cy="712.1" r="5.2"/><circle cx="253.9" cy="712.6" r="5.2"/><circle cx="254.5" cy="713.2" r="5.2"/><circle cx="255.2" cy="710.2" r="5.2"/><circle cx="255.9" cy="712.6" r="5.2"/><circle cx="256.6" cy="712.2" r="5.2"/><circle cx="257.3" cy="710.1" r="5.2"/><circle cx="257.9" cy="713.2" r="5.2"/><circle cx="258.6" cy="709.6" r="5.2"/><circle cx="259.3" cy="709.4" r="5.2"/><circle cx="260.0" cy="706.8" r="5.2"/><circle cx="260.7" cy="705.1" r="5.2"/><circle cx="261.4" cy="706.3" r="5.2"/><circle cx="262.2" cy="706.3" r="5.2"/><circle cx="262.9" cy="705.6" r="5.2"/><circle cx="263.6" cy="707.0" r="5.2"/><circle cx="264.3" cy="701.4" r="5.2"/><circle cx="265.0" cy="702.9" r="5.2"/><circle cx="265.7" cy="701.2" r="5.2"/><circle cx="266.5" cy="705.9" r="5.2"/><circle cx="267.2" cy="702.2" r="5.2"/><circle cx="267.9" cy="701.7" r="5.2"/><circle cx="268.7" cy="700.2" r="5.2"/><circle cx="269.4" cy="703.1" r="5.2"/><circle cx="270.2" cy="700.3" r="5.2"/><circle cx="270.9" cy="700.9" r="5.2"/><circle cx="271.7" cy="696.1" r="5.2"/><circle cx="272.4" cy="701.6" r="5.2"/><circle cx="273.2" cy="699.9" r="5.2"/><circle cx="274.0" cy="700.0" r="5.2"/><circle cx="274.7" cy="701.2" r="5.2"/><circle cx="275.5" cy="698.1" r="5.2"/><circle cx="276.3" cy="697.9" r="5.2"/><circle cx="277.1" cy="699.5" r="5.2"/><circle cx="277.9" cy="698.7" r="5.2"/><circle cx="278.6" cy="697.0" r="5.2"/><circle cx="279.4" cy="697.4" r="5.2"/><circle cx="280.2" cy="695.9" r="5.2"/><circle cx="281.0" cy="698.4" r="5.2"/><circle cx="281.8" cy="698.8" r="5.2"/><circle cx="282.6" cy="696.3" r="5.2"/><circle cx="283.5" cy="701.0" r="5.2"/><circle cx="284.3" cy="691.6" r="5.2"/><circle cx="285.1" cy="694.8" r="5.2"/><circle cx="285.9" cy="700.2" r="5.2"/><circle cx="286.7" cy="693.7" r="5.2"/><circle cx="287.6" cy="689.7" r="5.2"/><circle cx="288.4" cy="698.8" r="5.2"/><circle cx="289.3" cy="695.9" r="5.2"/><circle cx="290.1" cy="689.7" r="5.2"/><circle cx="290.9" cy="696.2" r="5.2"/><circle cx="291.8" cy="689.5" r="5.2"/><circle cx="292.7" cy="687.9" r="5.2"/><circle cx="293.5" cy="692.0" r="5.2"/><circle cx="294.4" cy="690.4" r="5.2"/><circle cx="295.3" cy="687.6" r="5.2"/><circle cx="296.1" cy="690.3" r="5.2"/><circle cx="297.0" cy="687.7" r="5.2"/><circle cx="297.9" cy="692.1" r="5.2"/><circle cx="300.6" cy="699.0" r="5.2"/><circle cx="301.8" cy="697.7" r="5.2"/><circle cx="302.4" cy="696.9" r="5.2"/><circle cx="303.3" cy="698.5" r="5.2"/><circle cx="304.1" cy="686.0" r="5.2"/><circle cx="304.2" cy="679.7" r="5.2"/><circle cx="305.2" cy="698.5" r="5.2"/><circle cx="307.0" cy="684.2" r="5.2"/><circle cx="309.3" cy="690.7" r="5.2"/><circle cx="310.5" cy="698.8" r="5.2"/><circle cx="313.4" cy="710.5" r="5.2"/><circle cx="313.7" cy="707.4" r="5.2"/><circle cx="314.7" cy="685.7" r="5.2"/><circle cx="315.8" cy="683.1" r="5.2"/><circle cx="316.6" cy="697.1" r="5.2"/><circle cx="318.6" cy="688.7" r="5.2"/><circle cx="318.7" cy="696.5" r="5.2"/><circle cx="320.0" cy="690.0" r="5.2"/><circle cx="323.7" cy="688.4" r="5.2"/><circle cx="324.5" cy="701.2" r="5.2"/><circle cx="328.0" cy="693.0" r="5.2"/><circle cx="328.6" cy="712.3" r="5.2"/><circle cx="331.0" cy="706.6" r="5.2"/><circle cx="332.1" cy="703.5" r="5.2"/><circle cx="333.8" cy="686.6" r="5.2"/><circle cx="334.3" cy="688.7" r="5.2"/><circle cx="335.0" cy="717.5" r="5.2"/><circle cx="337.6" cy="689.1" r="5.2"/><circle cx="339.1" cy="711.7" r="5.2"/><circle cx="339.8" cy="693.8" r="5.2"/><circle cx="340.3" cy="691.3" r="5.2"/><circle cx="342.6" cy="723.3" r="5.2"/><circle cx="344.0" cy="698.0" r="5.2"/><circle cx="345.5" cy="719.8" r="5.2"/><circle cx="347.3" cy="690.7" r="5.2"/><circle cx="349.0" cy="746.4" r="5.2"/><circle cx="350.1" cy="729.0" r="5.2"/><circle cx="350.2" cy="725.7" r="5.2"/><circle cx="352.5" cy="697.1" r="5.2"/><circle cx="352.5" cy="740.3" r="5.2"/><circle cx="357.2" cy="693.0" r="5.2"/><circle cx="357.4" cy="699.4" r="5.2"/><circle cx="359.5" cy="697.1" r="5.2"/><circle cx="361.1" cy="682.8" r="5.2"/><circle cx="362.4" cy="681.3" r="5.2"/><circle cx="364.8" cy="705.3" r="5.2"/><circle cx="367.4" cy="716.3" r="5.2"/><circle cx="367.7" cy="720.4" r="5.2"/><circle cx="370.0" cy="688.3" r="5.2"/><circle cx="372.3" cy="695.3" r="5.2"/><circle cx="377.0" cy="698.8" r="5.2"/><circle cx="378.0" cy="697.9" r="5.2"/><circle cx="380.5" cy="711.7" r="5.2"/><circle cx="380.7" cy="698.0" r="5.2"/><circle cx="382.8" cy="702.3" r="5.2"/><circle cx="386.3" cy="687.8" r="5.2"/><circle cx="387.7" cy="684.0" r="5.2"/><circle cx="389.8" cy="701.2" r="5.2"/><circle cx="390.5" cy="698.0" r="5.2"/><circle cx="395.7" cy="696.5" r="5.2"/><circle cx="397.8" cy="696.7" r="5.2"/><circle cx="399.2" cy="703.5" r="5.2"/><circle cx="399.3" cy="697.6" r="5.2"/><circle cx="402.3" cy="703.2" r="5.2"/><circle cx="403.9" cy="698.7" r="5.2"/><circle cx="405.4" cy="699.4" r="5.2"/><circle cx="406.9" cy="701.4" r="5.2"/><circle cx="408.5" cy="705.1" r="5.2"/><circle cx="410.1" cy="700.4" r="5.2"/><circle cx="411.6" cy="704.4" r="5.2"/><circle cx="413.2" cy="699.4" r="5.2"/><circle cx="414.8" cy="703.0" r="5.2"/><circle cx="416.4" cy="709.1" r="5.2"/><circle cx="418.1" cy="711.5" r="5.2"/><circle cx="419.7" cy="706.3" r="5.2"/><circle cx="421.3" cy="708.5" r="5.2"/><circle cx="423.0" cy="714.3" r="5.2"/><circle cx="424.7" cy="712.1" r="5.2"/><circle cx="426.3" cy="713.1" r="5.2"/><circle cx="428.0" cy="717.7" r="5.2"/><circle cx="429.7" cy="718.2" r="5.2"/><circle cx="431.4" cy="721.2" r="5.2"/><circle cx="433.2" cy="720.3" r="5.2"/><circle cx="434.9" cy="716.1" r="5.2"/><circle cx="436.1" cy="726.8" r="5.2"/><circle cx="436.7" cy="717.5" r="5.2"/><circle cx="438.4" cy="717.7" r="5.2"/><circle cx="440.2" cy="713.9" r="5.2"/><circle cx="442.0" cy="715.8" r="5.2"/><circle cx="443.8" cy="722.5" r="5.2"/><circle cx="445.6" cy="715.6" r="5.2"/><circle cx="447.4" cy="710.6" r="5.2"/><circle cx="447.5" cy="724.2" r="5.2"/><circle cx="449.3" cy="722.9" r="5.2"/><circle cx="451.2" cy="722.5" r="5.2"/><circle cx="453.0" cy="725.5" r="5.2"/><circle cx="454.9" cy="726.3" r="5.2"/><circle cx="456.8" cy="729.4" r="5.2"/><circle cx="458.8" cy="725.5" r="5.2"/><circle cx="460.7" cy="726.9" r="5.2"/><circle cx="462.6" cy="727.7" r="5.2"/><circle cx="464.6" cy="734.9" r="5.2"/><circle cx="466.5" cy="735.6" r="5.2"/><circle cx="466.6" cy="732.8" r="5.2"/><circle cx="468.6" cy="727.5" r="5.2"/><circle cx="470.6" cy="729.5" r="5.2"/><circle cx="472.6" cy="728.7" r="5.2"/><circle cx="474.3" cy="722.4" r="5.2"/><circle cx="474.7" cy="731.2" r="5.2"/><circle cx="476.7" cy="732.1" r="5.2"/><circle cx="478.8" cy="738.6" r="5.2"/></g><g clip-path="url(#cR1)" fill="#fff" stroke="#000" stroke-width="1.55"><circle cx="591.7" cy="327.4" r="5.2"/><circle cx="591.8" cy="329.4" r="5.2"/><circle cx="591.9" cy="327.7" r="5.2"/><circle cx="592.0" cy="327.9" r="5.2"/><circle cx="592.2" cy="326.8" r="5.2"/><circle cx="592.3" cy="328.8" r="5.2"/><circle cx="592.4" cy="327.3" r="5.2"/><circle cx="592.5" cy="328.0" r="5.2"/><circle cx="592.6" cy="327.7" r="5.2"/><circle cx="592.7" cy="327.5" r="5.2"/><circle cx="592.8" cy="329.1" r="5.2"/><circle cx="592.9" cy="326.6" r="5.2"/><circle cx="593.0" cy="327.3" r="5.2"/><circle cx="593.1" cy="328.2" r="5.2"/><circle cx="593.2" cy="328.8" r="5.2"/><circle cx="593.3" cy="329.6" r="5.2"/><circle cx="593.4" cy="328.1" r="5.2"/><circle cx="593.6" cy="330.2" r="5.2"/><circle cx="593.7" cy="328.7" r="5.2"/><circle cx="593.8" cy="327.6" r="5.2"/><circle cx="593.9" cy="327.3" r="5.2"/><circle cx="594.0" cy="327.8" r="5.2"/><circle cx="594.1" cy="329.8" r="5.2"/><circle cx="594.2" cy="327.9" r="5.2"/><circle cx="594.3" cy="328.2" r="5.2"/><circle cx="594.4" cy="328.9" r="5.2"/><circle cx="594.5" cy="327.8" r="5.2"/><circle cx="594.7" cy="328.5" r="5.2"/><circle cx="594.8" cy="328.5" r="5.2"/><circle cx="594.9" cy="330.0" r="5.2"/><circle cx="595.0" cy="328.6" r="5.2"/><circle cx="595.1" cy="328.5" r="5.2"/><circle cx="595.2" cy="328.9" r="5.2"/><circle cx="595.3" cy="326.5" r="5.2"/><circle cx="595.4" cy="330.0" r="5.2"/><circle cx="595.5" cy="328.6" r="5.2"/><circle cx="595.7" cy="329.5" r="5.2"/><circle cx="595.8" cy="327.9" r="5.2"/><circle cx="595.9" cy="326.8" r="5.2"/><circle cx="596.0" cy="327.8" r="5.2"/><circle cx="596.1" cy="328.1" r="5.2"/><circle cx="596.2" cy="330.0" r="5.2"/><circle cx="596.3" cy="327.8" r="5.2"/><circle cx="596.5" cy="329.5" r="5.2"/><circle cx="596.6" cy="328.4" r="5.2"/><circle cx="596.7" cy="331.0" r="5.2"/><circle cx="596.8" cy="326.7" r="5.2"/><circle cx="596.9" cy="331.6" r="5.2"/><circle cx="597.0" cy="329.5" r="5.2"/><circle cx="597.1" cy="327.5" r="5.2"/><circle cx="597.3" cy="328.2" r="5.2"/><circle cx="597.4" cy="329.3" r="5.2"/><circle cx="597.5" cy="328.7" r="5.2"/><circle cx="597.6" cy="328.6" r="5.2"/><circle cx="597.7" cy="327.3" r="5.2"/><circle cx="597.8" cy="328.9" r="5.2"/><circle cx="598.0" cy="328.3" r="5.2"/><circle cx="598.1" cy="328.0" r="5.2"/><circle cx="598.2" cy="329.8" r="5.2"/><circle cx="598.3" cy="327.8" r="5.2"/><circle cx="598.4" cy="328.4" r="5.2"/><circle cx="598.5" cy="329.8" r="5.2"/><circle cx="598.7" cy="329.7" r="5.2"/><circle cx="598.8" cy="330.2" r="5.2"/><circle cx="598.9" cy="329.2" r="5.2"/><circle cx="599.0" cy="329.6" r="5.2"/><circle cx="599.1" cy="327.0" r="5.2"/><circle cx="599.3" cy="326.5" r="5.2"/><circle cx="599.4" cy="326.9" r="5.2"/><circle cx="599.5" cy="327.5" r="5.2"/><circle cx="599.6" cy="329.0" r="5.2"/><circle cx="599.7" cy="327.3" r="5.2"/><circle cx="599.9" cy="330.2" r="5.2"/><circle cx="600.0" cy="330.4" r="5.2"/><circle cx="600.1" cy="328.5" r="5.2"/><circle cx="600.2" cy="329.0" r="5.2"/><circle cx="600.3" cy="327.7" r="5.2"/><circle cx="600.5" cy="328.3" r="5.2"/><circle cx="600.6" cy="327.4" r="5.2"/><circle cx="600.7" cy="326.6" r="5.2"/><circle cx="600.8" cy="328.1" r="5.2"/><circle cx="601.0" cy="327.1" r="5.2"/><circle cx="601.1" cy="328.7" r="5.2"/><circle cx="601.2" cy="328.3" r="5.2"/><circle cx="601.3" cy="327.9" r="5.2"/><circle cx="601.4" cy="330.4" r="5.2"/><circle cx="601.6" cy="327.6" r="5.2"/><circle cx="601.7" cy="328.9" r="5.2"/><circle cx="601.8" cy="327.2" r="5.2"/><circle cx="601.9" cy="328.2" r="5.2"/><circle cx="602.1" cy="329.1" r="5.2"/><circle cx="602.2" cy="327.8" r="5.2"/><circle cx="602.3" cy="328.9" r="5.2"/><circle cx="602.4" cy="327.6" r="5.2"/><circle cx="602.6" cy="327.6" r="5.2"/><circle cx="602.7" cy="328.6" r="5.2"/><circle cx="602.8" cy="329.2" r="5.2"/><circle cx="603.0" cy="329.2" r="5.2"/><circle cx="603.1" cy="327.7" r="5.2"/><circle cx="603.2" cy="329.0" r="5.2"/><circle cx="603.3" cy="330.4" r="5.2"/><circle cx="603.5" cy="327.9" r="5.2"/><circle cx="603.6" cy="327.3" r="5.2"/><circle cx="603.7" cy="329.9" r="5.2"/><circle cx="603.8" cy="328.3" r="5.2"/><circle cx="604.0" cy="329.0" r="5.2"/><circle cx="604.1" cy="327.6" r="5.2"/><circle cx="604.2" cy="327.2" r="5.2"/><circle cx="604.4" cy="326.9" r="5.2"/><circle cx="604.5" cy="329.4" r="5.2"/><circle cx="604.6" cy="329.3" r="5.2"/><circle cx="604.8" cy="326.8" r="5.2"/><circle cx="604.9" cy="326.5" r="5.2"/><circle cx="605.0" cy="329.4" r="5.2"/><circle cx="605.1" cy="326.9" r="5.2"/><circle cx="605.3" cy="325.7" r="5.2"/><circle cx="605.4" cy="327.2" r="5.2"/><circle cx="605.5" cy="327.3" r="5.2"/><circle cx="605.7" cy="327.0" r="5.2"/><circle cx="605.8" cy="327.9" r="5.2"/><circle cx="605.9" cy="327.3" r="5.2"/><circle cx="606.1" cy="328.9" r="5.2"/><circle cx="606.2" cy="327.8" r="5.2"/><circle cx="606.3" cy="327.1" r="5.2"/><circle cx="606.5" cy="329.6" r="5.2"/><circle cx="606.6" cy="327.8" r="5.2"/><circle cx="606.7" cy="328.7" r="5.2"/><circle cx="606.9" cy="329.5" r="5.2"/><circle cx="607.0" cy="326.1" r="5.2"/><circle cx="607.1" cy="327.2" r="5.2"/><circle cx="607.3" cy="329.7" r="5.2"/><circle cx="607.4" cy="329.4" r="5.2"/><circle cx="607.5" cy="327.1" r="5.2"/><circle cx="607.7" cy="329.0" r="5.2"/><circle cx="607.8" cy="329.4" r="5.2"/><circle cx="608.0" cy="326.7" r="5.2"/><circle cx="608.1" cy="327.7" r="5.2"/><circle cx="608.2" cy="327.8" r="5.2"/><circle cx="608.4" cy="327.0" r="5.2"/><circle cx="608.5" cy="329.9" r="5.2"/><circle cx="608.6" cy="329.0" r="5.2"/><circle cx="608.8" cy="327.9" r="5.2"/><circle cx="608.9" cy="327.7" r="5.2"/><circle cx="609.1" cy="327.8" r="5.2"/><circle cx="609.2" cy="328.9" r="5.2"/><circle cx="609.3" cy="329.2" r="5.2"/><circle cx="609.5" cy="327.8" r="5.2"/><circle cx="609.6" cy="328.6" r="5.2"/><circle cx="609.8" cy="329.3" r="5.2"/><circle cx="609.9" cy="327.2" r="5.2"/><circle cx="610.0" cy="330.0" r="5.2"/><circle cx="610.2" cy="329.9" r="5.2"/><circle cx="610.3" cy="327.0" r="5.2"/><circle cx="610.5" cy="327.4" r="5.2"/><circle cx="610.6" cy="328.5" r="5.2"/><circle cx="610.8" cy="329.2" r="5.2"/><circle cx="610.9" cy="328.4" r="5.2"/><circle cx="611.0" cy="329.4" r="5.2"/><circle cx="611.2" cy="327.9" r="5.2"/><circle cx="611.3" cy="329.7" r="5.2"/><circle cx="611.5" cy="327.8" r="5.2"/><circle cx="611.6" cy="327.1" r="5.2"/><circle cx="611.8" cy="331.2" r="5.2"/><circle cx="611.9" cy="327.6" r="5.2"/><circle cx="612.0" cy="327.1" r="5.2"/><circle cx="612.2" cy="329.1" r="5.2"/><circle cx="612.3" cy="327.6" r="5.2"/><circle cx="612.5" cy="330.0" r="5.2"/><circle cx="612.6" cy="328.3" r="5.2"/><circle cx="612.8" cy="328.2" r="5.2"/><circle cx="612.9" cy="328.1" r="5.2"/><circle cx="613.1" cy="329.1" r="5.2"/><circle cx="613.2" cy="328.7" r="5.2"/><circle cx="613.4" cy="330.6" r="5.2"/><circle cx="613.5" cy="328.0" r="5.2"/><circle cx="613.7" cy="329.2" r="5.2"/><circle cx="613.8" cy="329.4" r="5.2"/><circle cx="614.0" cy="328.8" r="5.2"/><circle cx="614.1" cy="327.7" r="5.2"/><circle cx="614.3" cy="329.1" r="5.2"/><circle cx="614.4" cy="326.9" r="5.2"/><circle cx="614.6" cy="327.5" r="5.2"/><circle cx="614.7" cy="326.8" r="5.2"/><circle cx="614.9" cy="327.4" r="5.2"/><circle cx="615.0" cy="330.0" r="5.2"/><circle cx="615.2" cy="328.2" r="5.2"/><circle cx="615.3" cy="329.5" r="5.2"/><circle cx="615.5" cy="327.9" r="5.2"/><circle cx="615.6" cy="328.0" r="5.2"/><circle cx="615.8" cy="328.4" r="5.2"/><circle cx="615.9" cy="328.4" r="5.2"/><circle cx="616.1" cy="327.8" r="5.2"/><circle cx="616.2" cy="328.0" r="5.2"/><circle cx="616.4" cy="328.0" r="5.2"/><circle cx="616.6" cy="328.8" r="5.2"/><circle cx="616.7" cy="328.3" r="5.2"/><circle cx="616.9" cy="329.2" r="5.2"/><circle cx="617.0" cy="327.7" r="5.2"/><circle cx="617.2" cy="327.0" r="5.2"/><circle cx="617.3" cy="327.8" r="5.2"/><circle cx="617.5" cy="328.8" r="5.2"/><circle cx="617.7" cy="329.0" r="5.2"/><circle cx="617.8" cy="327.5" r="5.2"/><circle cx="618.0" cy="329.2" r="5.2"/><circle cx="618.1" cy="329.6" r="5.2"/><circle cx="618.3" cy="328.6" r="5.2"/><circle cx="618.4" cy="329.8" r="5.2"/><circle cx="618.6" cy="330.4" r="5.2"/><circle cx="618.8" cy="327.8" r="5.2"/><circle cx="618.9" cy="328.2" r="5.2"/><circle cx="619.1" cy="327.3" r="5.2"/><circle cx="619.2" cy="328.6" r="5.2"/><circle cx="619.4" cy="327.4" r="5.2"/><circle cx="619.6" cy="326.9" r="5.2"/><circle cx="619.7" cy="328.6" r="5.2"/><circle cx="619.9" cy="327.6" r="5.2"/><circle cx="620.1" cy="329.3" r="5.2"/><circle cx="620.2" cy="332.2" r="5.2"/><circle cx="620.4" cy="327.8" r="5.2"/><circle cx="620.5" cy="331.2" r="5.2"/><circle cx="620.7" cy="327.8" r="5.2"/><circle cx="620.9" cy="328.7" r="5.2"/><circle cx="621.0" cy="327.1" r="5.2"/><circle cx="621.2" cy="328.0" r="5.2"/><circle cx="621.4" cy="327.3" r="5.2"/><circle cx="621.5" cy="328.6" r="5.2"/><circle cx="621.7" cy="327.5" r="5.2"/><circle cx="621.9" cy="327.9" r="5.2"/><circle cx="622.0" cy="330.4" r="5.2"/><circle cx="622.2" cy="328.6" r="5.2"/><circle cx="622.4" cy="327.4" r="5.2"/><circle cx="622.5" cy="326.5" r="5.2"/><circle cx="622.7" cy="326.0" r="5.2"/><circle cx="622.9" cy="328.2" r="5.2"/><circle cx="623.0" cy="326.1" r="5.2"/><circle cx="623.2" cy="328.9" r="5.2"/><circle cx="623.4" cy="328.0" r="5.2"/><circle cx="623.6" cy="328.6" r="5.2"/><circle cx="623.7" cy="327.2" r="5.2"/><circle cx="623.9" cy="327.5" r="5.2"/><circle cx="624.1" cy="328.5" r="5.2"/><circle cx="624.2" cy="326.8" r="5.2"/><circle cx="624.4" cy="327.6" r="5.2"/><circle cx="624.6" cy="331.2" r="5.2"/><circle cx="624.8" cy="327.9" r="5.2"/><circle cx="624.9" cy="330.4" r="5.2"/><circle cx="625.1" cy="328.1" r="5.2"/><circle cx="625.3" cy="327.1" r="5.2"/><circle cx="625.5" cy="329.3" r="5.2"/><circle cx="625.6" cy="326.1" r="5.2"/><circle cx="625.8" cy="331.7" r="5.2"/><circle cx="626.0" cy="329.3" r="5.2"/><circle cx="626.2" cy="327.6" r="5.2"/><circle cx="626.3" cy="325.8" r="5.2"/><circle cx="626.5" cy="327.9" r="5.2"/><circle cx="626.7" cy="330.0" r="5.2"/><circle cx="626.9" cy="326.5" r="5.2"/><circle cx="627.1" cy="330.4" r="5.2"/><circle cx="627.2" cy="329.5" r="5.2"/><circle cx="627.4" cy="326.6" r="5.2"/><circle cx="627.6" cy="327.2" r="5.2"/><circle cx="627.8" cy="326.5" r="5.2"/><circle cx="628.0" cy="328.9" r="5.2"/><circle cx="628.1" cy="328.4" r="5.2"/><circle cx="628.3" cy="330.6" r="5.2"/><circle cx="628.5" cy="329.3" r="5.2"/><circle cx="628.7" cy="326.3" r="5.2"/><circle cx="628.9" cy="329.5" r="5.2"/><circle cx="629.1" cy="327.0" r="5.2"/><circle cx="629.2" cy="327.6" r="5.2"/><circle cx="629.4" cy="327.5" r="5.2"/><circle cx="629.6" cy="326.2" r="5.2"/><circle cx="629.8" cy="328.4" r="5.2"/><circle cx="630.0" cy="328.5" r="5.2"/><circle cx="630.2" cy="326.5" r="5.2"/><circle cx="630.3" cy="328.0" r="5.2"/><circle cx="630.5" cy="327.1" r="5.2"/><circle cx="630.7" cy="329.9" r="5.2"/><circle cx="630.9" cy="327.0" r="5.2"/><circle cx="631.1" cy="327.8" r="5.2"/><circle cx="631.3" cy="326.9" r="5.2"/><circle cx="631.5" cy="327.7" r="5.2"/><circle cx="631.7" cy="327.7" r="5.2"/><circle cx="631.9" cy="327.3" r="5.2"/><circle cx="632.0" cy="327.5" r="5.2"/><circle cx="632.2" cy="330.5" r="5.2"/><circle cx="632.4" cy="327.9" r="5.2"/><circle cx="632.6" cy="327.8" r="5.2"/><circle cx="632.8" cy="326.8" r="5.2"/><circle cx="633.0" cy="329.2" r="5.2"/><circle cx="633.2" cy="329.1" r="5.2"/><circle cx="633.4" cy="328.3" r="5.2"/><circle cx="633.6" cy="327.0" r="5.2"/><circle cx="633.8" cy="325.7" r="5.2"/><circle cx="634.0" cy="325.8" r="5.2"/><circle cx="634.2" cy="326.8" r="5.2"/><circle cx="634.4" cy="325.2" r="5.2"/><circle cx="634.6" cy="326.1" r="5.2"/><circle cx="634.8" cy="327.7" r="5.2"/><circle cx="635.0" cy="325.9" r="5.2"/><circle cx="635.2" cy="325.8" r="5.2"/><circle cx="635.4" cy="328.6" r="5.2"/><circle cx="635.6" cy="328.0" r="5.2"/><circle cx="635.8" cy="327.1" r="5.2"/><circle cx="636.0" cy="329.9" r="5.2"/><circle cx="636.2" cy="328.6" r="5.2"/><circle cx="636.4" cy="325.8" r="5.2"/><circle cx="636.6" cy="329.4" r="5.2"/><circle cx="636.8" cy="327.4" r="5.2"/><circle cx="637.0" cy="329.5" r="5.2"/><circle cx="637.2" cy="326.8" r="5.2"/><circle cx="637.4" cy="327.9" r="5.2"/><circle cx="637.6" cy="327.4" r="5.2"/><circle cx="637.8" cy="329.6" r="5.2"/><circle cx="638.0" cy="327.5" r="5.2"/><circle cx="638.2" cy="325.9" r="5.2"/><circle cx="638.4" cy="326.2" r="5.2"/><circle cx="638.6" cy="329.0" r="5.2"/><circle cx="638.8" cy="326.2" r="5.2"/><circle cx="639.0" cy="328.4" r="5.2"/><circle cx="639.2" cy="326.3" r="5.2"/><circle cx="639.4" cy="328.3" r="5.2"/><circle cx="639.7" cy="327.3" r="5.2"/><circle cx="639.9" cy="326.4" r="5.2"/><circle cx="640.1" cy="325.5" r="5.2"/><circle cx="640.3" cy="326.7" r="5.2"/><circle cx="640.5" cy="325.3" r="5.2"/><circle cx="640.7" cy="327.3" r="5.2"/><circle cx="640.9" cy="328.1" r="5.2"/><circle cx="641.1" cy="330.1" r="5.2"/><circle cx="641.4" cy="325.4" r="5.2"/><circle cx="641.6" cy="325.6" r="5.2"/><circle cx="641.8" cy="325.8" r="5.2"/><circle cx="642.0" cy="327.1" r="5.2"/><circle cx="642.2" cy="325.9" r="5.2"/><circle cx="642.4" cy="328.2" r="5.2"/><circle cx="642.6" cy="325.3" r="5.2"/><circle cx="642.9" cy="325.5" r="5.2"/><circle cx="643.1" cy="324.6" r="5.2"/><circle cx="643.3" cy="328.5" r="5.2"/><circle cx="643.5" cy="323.9" r="5.2"/><circle cx="643.7" cy="325.4" r="5.2"/><circle cx="644.0" cy="326.3" r="5.2"/><circle cx="644.2" cy="327.2" r="5.2"/><circle cx="644.4" cy="325.7" r="5.2"/><circle cx="644.6" cy="326.7" r="5.2"/><circle cx="644.9" cy="326.0" r="5.2"/><circle cx="645.1" cy="324.8" r="5.2"/><circle cx="645.3" cy="325.5" r="5.2"/><circle cx="645.5" cy="326.0" r="5.2"/><circle cx="645.7" cy="325.0" r="5.2"/><circle cx="646.0" cy="326.1" r="5.2"/><circle cx="646.2" cy="327.2" r="5.2"/><circle cx="646.4" cy="325.9" r="5.2"/><circle cx="646.7" cy="325.4" r="5.2"/><circle cx="646.9" cy="326.4" r="5.2"/><circle cx="647.1" cy="324.7" r="5.2"/><circle cx="647.3" cy="324.9" r="5.2"/><circle cx="647.6" cy="324.0" r="5.2"/><circle cx="647.8" cy="325.9" r="5.2"/><circle cx="648.0" cy="323.4" r="5.2"/><circle cx="648.3" cy="324.9" r="5.2"/><circle cx="648.5" cy="328.4" r="5.2"/><circle cx="648.7" cy="326.4" r="5.2"/><circle cx="649.0" cy="324.7" r="5.2"/><circle cx="649.2" cy="324.5" r="5.2"/><circle cx="649.4" cy="325.4" r="5.2"/><circle cx="649.7" cy="325.3" r="5.2"/><circle cx="649.9" cy="325.7" r="5.2"/><circle cx="650.1" cy="324.7" r="5.2"/><circle cx="650.4" cy="325.9" r="5.2"/><circle cx="650.6" cy="327.5" r="5.2"/><circle cx="650.9" cy="325.5" r="5.2"/><circle cx="651.1" cy="325.4" r="5.2"/><circle cx="651.3" cy="325.7" r="5.2"/><circle cx="651.6" cy="326.6" r="5.2"/><circle cx="651.8" cy="326.1" r="5.2"/><circle cx="652.1" cy="325.5" r="5.2"/><circle cx="652.3" cy="324.6" r="5.2"/><circle cx="652.6" cy="323.3" r="5.2"/><circle cx="652.8" cy="324.1" r="5.2"/><circle cx="653.0" cy="325.8" r="5.2"/><circle cx="653.3" cy="326.5" r="5.2"/><circle cx="653.5" cy="326.3" r="5.2"/><circle cx="653.8" cy="325.0" r="5.2"/><circle cx="654.0" cy="324.1" r="5.2"/><circle cx="654.3" cy="324.1" r="5.2"/><circle cx="654.5" cy="322.5" r="5.2"/><circle cx="654.8" cy="325.0" r="5.2"/><circle cx="655.0" cy="324.9" r="5.2"/><circle cx="655.3" cy="324.0" r="5.2"/><circle cx="655.5" cy="324.7" r="5.2"/><circle cx="655.8" cy="325.2" r="5.2"/><circle cx="656.0" cy="322.8" r="5.2"/><circle cx="656.3" cy="324.2" r="5.2"/><circle cx="656.5" cy="326.1" r="5.2"/><circle cx="656.8" cy="325.9" r="5.2"/><circle cx="657.1" cy="324.6" r="5.2"/><circle cx="657.3" cy="326.8" r="5.2"/><circle cx="657.6" cy="323.5" r="5.2"/><circle cx="657.8" cy="325.9" r="5.2"/><circle cx="658.1" cy="322.8" r="5.2"/><circle cx="658.3" cy="323.3" r="5.2"/><circle cx="658.6" cy="325.3" r="5.2"/><circle cx="658.9" cy="323.5" r="5.2"/><circle cx="659.1" cy="324.0" r="5.2"/><circle cx="659.4" cy="323.1" r="5.2"/><circle cx="659.7" cy="322.2" r="5.2"/><circle cx="659.9" cy="324.9" r="5.2"/><circle cx="660.2" cy="323.5" r="5.2"/><circle cx="660.5" cy="324.5" r="5.2"/><circle cx="660.7" cy="325.4" r="5.2"/><circle cx="661.0" cy="324.3" r="5.2"/><circle cx="661.3" cy="324.0" r="5.2"/><circle cx="661.5" cy="322.9" r="5.2"/><circle cx="661.8" cy="323.9" r="5.2"/><circle cx="662.1" cy="322.9" r="5.2"/><circle cx="662.3" cy="323.5" r="5.2"/><circle cx="662.6" cy="324.2" r="5.2"/><circle cx="662.9" cy="321.7" r="5.2"/><circle cx="663.2" cy="322.8" r="5.2"/><circle cx="663.4" cy="322.4" r="5.2"/><circle cx="663.7" cy="322.9" r="5.2"/><circle cx="664.0" cy="322.8" r="5.2"/><circle cx="664.3" cy="323.3" r="5.2"/><circle cx="664.5" cy="324.0" r="5.2"/><circle cx="664.8" cy="326.2" r="5.2"/><circle cx="665.1" cy="322.8" r="5.2"/><circle cx="665.4" cy="322.5" r="5.2"/><circle cx="665.7" cy="324.8" r="5.2"/><circle cx="665.9" cy="322.2" r="5.2"/><circle cx="666.2" cy="321.5" r="5.2"/><circle cx="666.5" cy="322.8" r="5.2"/><circle cx="666.8" cy="321.3" r="5.2"/><circle cx="667.1" cy="322.9" r="5.2"/><circle cx="667.4" cy="322.2" r="5.2"/><circle cx="667.6" cy="321.2" r="5.2"/><circle cx="667.9" cy="321.3" r="5.2"/><circle cx="668.2" cy="323.1" r="5.2"/><circle cx="668.5" cy="323.4" r="5.2"/><circle cx="668.8" cy="320.6" r="5.2"/><circle cx="669.1" cy="321.7" r="5.2"/><circle cx="669.4" cy="323.9" r="5.2"/><circle cx="669.7" cy="323.9" r="5.2"/><circle cx="670.0" cy="325.5" r="5.2"/><circle cx="670.3" cy="321.8" r="5.2"/><circle cx="670.6" cy="323.6" r="5.2"/><circle cx="670.9" cy="321.0" r="5.2"/><circle cx="671.2" cy="323.8" r="5.2"/><circle cx="671.5" cy="323.5" r="5.2"/><circle cx="671.8" cy="323.5" r="5.2"/><circle cx="672.1" cy="322.1" r="5.2"/><circle cx="672.4" cy="320.1" r="5.2"/><circle cx="672.7" cy="321.5" r="5.2"/><circle cx="673.0" cy="319.8" r="5.2"/><circle cx="673.3" cy="322.1" r="5.2"/><circle cx="673.6" cy="319.6" r="5.2"/><circle cx="673.9" cy="323.1" r="5.2"/><circle cx="674.2" cy="321.2" r="5.2"/><circle cx="674.5" cy="320.2" r="5.2"/><circle cx="674.8" cy="320.6" r="5.2"/><circle cx="675.1" cy="324.1" r="5.2"/><circle cx="675.4" cy="320.7" r="5.2"/><circle cx="675.7" cy="319.5" r="5.2"/><circle cx="676.0" cy="321.4" r="5.2"/><circle cx="676.4" cy="319.3" r="5.2"/><circle cx="676.7" cy="321.3" r="5.2"/><circle cx="677.0" cy="320.0" r="5.2"/><circle cx="677.3" cy="323.7" r="5.2"/><circle cx="677.6" cy="323.1" r="5.2"/><circle cx="677.9" cy="319.5" r="5.2"/><circle cx="678.3" cy="319.3" r="5.2"/><circle cx="678.6" cy="321.7" r="5.2"/><circle cx="678.9" cy="320.1" r="5.2"/><circle cx="679.2" cy="319.6" r="5.2"/><circle cx="679.5" cy="319.4" r="5.2"/><circle cx="679.9" cy="320.4" r="5.2"/><circle cx="680.2" cy="319.0" r="5.2"/><circle cx="680.5" cy="318.1" r="5.2"/><circle cx="680.8" cy="321.5" r="5.2"/><circle cx="681.2" cy="318.0" r="5.2"/><circle cx="681.5" cy="319.5" r="5.2"/><circle cx="681.8" cy="321.8" r="5.2"/><circle cx="682.2" cy="318.2" r="5.2"/><circle cx="682.5" cy="317.2" r="5.2"/><circle cx="682.8" cy="322.7" r="5.2"/><circle cx="683.2" cy="316.9" r="5.2"/><circle cx="683.5" cy="319.3" r="5.2"/><circle cx="683.8" cy="318.8" r="5.2"/><circle cx="684.2" cy="319.5" r="5.2"/><circle cx="684.5" cy="319.9" r="5.2"/><circle cx="684.9" cy="320.3" r="5.2"/><circle cx="685.2" cy="318.1" r="5.2"/><circle cx="685.5" cy="318.7" r="5.2"/><circle cx="685.9" cy="317.1" r="5.2"/><circle cx="686.2" cy="318.2" r="5.2"/><circle cx="686.6" cy="318.0" r="5.2"/><circle cx="686.9" cy="321.1" r="5.2"/><circle cx="687.3" cy="316.8" r="5.2"/><circle cx="687.6" cy="317.7" r="5.2"/><circle cx="688.0" cy="317.8" r="5.2"/><circle cx="688.3" cy="316.0" r="5.2"/><circle cx="688.7" cy="320.9" r="5.2"/><circle cx="689.0" cy="316.6" r="5.2"/><circle cx="689.4" cy="315.9" r="5.2"/><circle cx="689.7" cy="320.1" r="5.2"/><circle cx="690.1" cy="318.2" r="5.2"/><circle cx="690.5" cy="315.2" r="5.2"/><circle cx="690.8" cy="315.1" r="5.2"/><circle cx="691.2" cy="315.5" r="5.2"/><circle cx="691.5" cy="315.3" r="5.2"/><circle cx="691.9" cy="315.6" r="5.2"/><circle cx="692.3" cy="317.2" r="5.2"/><circle cx="692.6" cy="316.7" r="5.2"/><circle cx="693.0" cy="314.9" r="5.2"/><circle cx="693.4" cy="314.0" r="5.2"/><circle cx="693.7" cy="314.7" r="5.2"/><circle cx="694.1" cy="313.4" r="5.2"/><circle cx="694.5" cy="314.7" r="5.2"/><circle cx="694.9" cy="315.1" r="5.2"/><circle cx="695.2" cy="316.4" r="5.2"/><circle cx="695.6" cy="313.0" r="5.2"/><circle cx="696.0" cy="311.9" r="5.2"/><circle cx="696.4" cy="315.8" r="5.2"/><circle cx="696.7" cy="314.1" r="5.2"/><circle cx="697.1" cy="313.1" r="5.2"/><circle cx="697.5" cy="313.1" r="5.2"/><circle cx="697.9" cy="312.1" r="5.2"/><circle cx="698.3" cy="310.7" r="5.2"/><circle cx="698.7" cy="314.8" r="5.2"/><circle cx="699.0" cy="314.7" r="5.2"/><circle cx="699.4" cy="313.0" r="5.2"/><circle cx="699.8" cy="310.5" r="5.2"/><circle cx="700.2" cy="314.0" r="5.2"/><circle cx="700.6" cy="311.3" r="5.2"/><circle cx="701.0" cy="312.2" r="5.2"/><circle cx="701.4" cy="310.9" r="5.2"/><circle cx="701.8" cy="318.2" r="5.2"/><circle cx="702.2" cy="312.6" r="5.2"/><circle cx="702.6" cy="312.3" r="5.2"/><circle cx="703.0" cy="309.1" r="5.2"/><circle cx="703.4" cy="310.4" r="5.2"/><circle cx="703.8" cy="316.0" r="5.2"/><circle cx="704.2" cy="314.0" r="5.2"/><circle cx="704.6" cy="310.8" r="5.2"/><circle cx="705.0" cy="311.3" r="5.2"/><circle cx="705.4" cy="311.2" r="5.2"/><circle cx="705.9" cy="313.2" r="5.2"/><circle cx="706.3" cy="308.8" r="5.2"/><circle cx="706.7" cy="310.1" r="5.2"/><circle cx="707.1" cy="308.3" r="5.2"/><circle cx="707.5" cy="314.0" r="5.2"/><circle cx="707.9" cy="310.0" r="5.2"/><circle cx="708.4" cy="310.2" r="5.2"/><circle cx="708.8" cy="310.9" r="5.2"/><circle cx="709.2" cy="308.5" r="5.2"/><circle cx="709.6" cy="308.2" r="5.2"/><circle cx="710.0" cy="310.3" r="5.2"/><circle cx="710.5" cy="308.0" r="5.2"/><circle cx="710.9" cy="307.1" r="5.2"/><circle cx="711.3" cy="308.6" r="5.2"/><circle cx="711.8" cy="308.1" r="5.2"/><circle cx="712.2" cy="307.0" r="5.2"/><circle cx="712.6" cy="305.5" r="5.2"/><circle cx="713.1" cy="307.1" r="5.2"/><circle cx="713.5" cy="307.5" r="5.2"/><circle cx="714.0" cy="309.0" r="5.2"/><circle cx="714.4" cy="307.2" r="5.2"/><circle cx="714.8" cy="305.0" r="5.2"/><circle cx="715.3" cy="306.9" r="5.2"/><circle cx="715.7" cy="304.7" r="5.2"/><circle cx="716.2" cy="305.8" r="5.2"/><circle cx="716.6" cy="304.1" r="5.2"/><circle cx="717.1" cy="303.7" r="5.2"/><circle cx="717.5" cy="306.0" r="5.2"/><circle cx="718.0" cy="303.4" r="5.2"/><circle cx="718.5" cy="304.2" r="5.2"/><circle cx="718.9" cy="305.3" r="5.2"/><circle cx="719.4" cy="304.8" r="5.2"/><circle cx="719.8" cy="303.0" r="5.2"/><circle cx="720.3" cy="303.0" r="5.2"/><circle cx="720.8" cy="303.4" r="5.2"/><circle cx="721.2" cy="303.0" r="5.2"/><circle cx="721.7" cy="302.1" r="5.2"/><circle cx="722.2" cy="304.0" r="5.2"/><circle cx="722.7" cy="304.9" r="5.2"/><circle cx="723.1" cy="302.7" r="5.2"/><circle cx="723.6" cy="301.9" r="5.2"/><circle cx="724.1" cy="301.1" r="5.2"/><circle cx="724.6" cy="300.6" r="5.2"/><circle cx="725.1" cy="298.8" r="5.2"/><circle cx="725.5" cy="300.2" r="5.2"/><circle cx="726.0" cy="298.9" r="5.2"/><circle cx="726.5" cy="299.7" r="5.2"/><circle cx="727.0" cy="298.3" r="5.2"/><circle cx="727.5" cy="297.3" r="5.2"/><circle cx="728.0" cy="296.6" r="5.2"/><circle cx="728.5" cy="298.8" r="5.2"/><circle cx="729.0" cy="298.9" r="5.2"/><circle cx="729.5" cy="296.5" r="5.2"/><circle cx="730.0" cy="297.1" r="5.2"/><circle cx="730.5" cy="298.0" r="5.2"/><circle cx="731.0" cy="294.9" r="5.2"/><circle cx="731.5" cy="295.2" r="5.2"/><circle cx="732.0" cy="293.9" r="5.2"/><circle cx="732.5" cy="296.6" r="5.2"/><circle cx="733.0" cy="295.1" r="5.2"/><circle cx="733.6" cy="293.8" r="5.2"/><circle cx="734.1" cy="291.9" r="5.2"/><circle cx="734.6" cy="293.6" r="5.2"/><circle cx="735.1" cy="294.9" r="5.2"/><circle cx="735.7" cy="292.8" r="5.2"/><circle cx="736.2" cy="292.3" r="5.2"/><circle cx="736.7" cy="293.5" r="5.2"/><circle cx="737.2" cy="290.5" r="5.2"/><circle cx="737.8" cy="291.7" r="5.2"/><circle cx="738.3" cy="292.0" r="5.2"/><circle cx="738.8" cy="289.5" r="5.2"/><circle cx="739.4" cy="288.9" r="5.2"/><circle cx="739.9" cy="289.9" r="5.2"/><circle cx="740.5" cy="288.8" r="5.2"/><circle cx="741.0" cy="288.1" r="5.2"/><circle cx="741.6" cy="288.2" r="5.2"/><circle cx="742.1" cy="287.6" r="5.2"/><circle cx="742.7" cy="285.5" r="5.2"/><circle cx="743.2" cy="285.3" r="5.2"/><circle cx="743.8" cy="286.3" r="5.2"/><circle cx="744.3" cy="286.7" r="5.2"/><circle cx="744.9" cy="286.5" r="5.2"/><circle cx="745.5" cy="282.8" r="5.2"/><circle cx="746.0" cy="285.0" r="5.2"/><circle cx="746.6" cy="283.8" r="5.2"/><circle cx="747.2" cy="281.9" r="5.2"/><circle cx="747.8" cy="282.0" r="5.2"/><circle cx="748.3" cy="281.8" r="5.2"/><circle cx="748.9" cy="282.5" r="5.2"/><circle cx="749.5" cy="277.6" r="5.2"/><circle cx="750.1" cy="279.3" r="5.2"/><circle cx="750.7" cy="277.5" r="5.2"/><circle cx="751.3" cy="276.6" r="5.2"/><circle cx="751.8" cy="277.9" r="5.2"/><circle cx="752.4" cy="276.7" r="5.2"/><circle cx="753.0" cy="273.2" r="5.2"/><circle cx="753.6" cy="273.6" r="5.2"/><circle cx="754.2" cy="273.6" r="5.2"/><circle cx="754.8" cy="270.3" r="5.2"/><circle cx="755.4" cy="273.1" r="5.2"/><circle cx="756.1" cy="270.9" r="5.2"/><circle cx="756.7" cy="270.5" r="5.2"/><circle cx="757.3" cy="269.9" r="5.2"/><circle cx="757.9" cy="271.4" r="5.2"/><circle cx="758.5" cy="267.7" r="5.2"/><circle cx="759.1" cy="266.3" r="5.2"/><circle cx="759.8" cy="268.7" r="5.2"/><circle cx="760.4" cy="264.3" r="5.2"/><circle cx="761.0" cy="263.4" r="5.2"/><circle cx="761.7" cy="261.2" r="5.2"/><circle cx="762.3" cy="264.2" r="5.2"/><circle cx="762.9" cy="262.1" r="5.2"/><circle cx="763.6" cy="261.5" r="5.2"/><circle cx="764.2" cy="260.1" r="5.2"/><circle cx="764.9" cy="258.8" r="5.2"/><circle cx="765.5" cy="256.8" r="5.2"/><circle cx="766.2" cy="255.9" r="5.2"/><circle cx="766.8" cy="257.1" r="5.2"/><circle cx="767.5" cy="255.7" r="5.2"/><circle cx="768.2" cy="257.3" r="5.2"/><circle cx="768.8" cy="252.5" r="5.2"/><circle cx="769.5" cy="252.1" r="5.2"/><circle cx="770.2" cy="250.3" r="5.2"/><circle cx="770.9" cy="253.5" r="5.2"/><circle cx="771.5" cy="248.2" r="5.2"/><circle cx="772.2" cy="250.7" r="5.2"/><circle cx="772.9" cy="250.9" r="5.2"/><circle cx="773.6" cy="247.3" r="5.2"/><circle cx="774.3" cy="247.9" r="5.2"/><circle cx="775.0" cy="242.1" r="5.2"/><circle cx="775.7" cy="244.2" r="5.2"/><circle cx="776.4" cy="241.0" r="5.2"/><circle cx="777.1" cy="243.1" r="5.2"/><circle cx="777.8" cy="241.8" r="5.2"/><circle cx="778.5" cy="239.3" r="5.2"/><circle cx="779.2" cy="241.3" r="5.2"/><circle cx="779.9" cy="239.2" r="5.2"/><circle cx="780.6" cy="236.4" r="5.2"/><circle cx="781.4" cy="235.2" r="5.2"/><circle cx="782.1" cy="231.4" r="5.2"/><circle cx="782.8" cy="233.6" r="5.2"/><circle cx="783.6" cy="239.9" r="5.2"/><circle cx="784.3" cy="229.4" r="5.2"/><circle cx="785.0" cy="232.5" r="5.2"/><circle cx="785.8" cy="227.6" r="5.2"/><circle cx="786.5" cy="232.5" r="5.2"/><circle cx="787.3" cy="230.0" r="5.2"/><circle cx="788.1" cy="225.7" r="5.2"/><circle cx="788.8" cy="216.3" r="5.2"/><circle cx="789.4" cy="231.2" r="5.2"/><circle cx="789.6" cy="222.0" r="5.2"/><circle cx="790.3" cy="231.1" r="5.2"/><circle cx="791.1" cy="221.3" r="5.2"/><circle cx="791.9" cy="226.0" r="5.2"/><circle cx="792.7" cy="217.5" r="5.2"/><circle cx="793.5" cy="206.3" r="5.2"/><circle cx="794.2" cy="222.0" r="5.2"/><circle cx="795.0" cy="220.3" r="5.2"/><circle cx="795.8" cy="212.0" r="5.2"/><circle cx="796.6" cy="212.5" r="5.2"/><circle cx="797.4" cy="217.2" r="5.2"/><circle cx="798.2" cy="208.1" r="5.2"/><circle cx="799.0" cy="215.8" r="5.2"/><circle cx="799.9" cy="209.4" r="5.2"/><circle cx="800.7" cy="185.9" r="5.2"/><circle cx="802.3" cy="192.8" r="5.2"/><circle cx="802.4" cy="188.8" r="5.2"/><circle cx="804.7" cy="193.5" r="5.2"/><circle cx="806.5" cy="193.0" r="5.2"/><circle cx="808.2" cy="181.8" r="5.2"/><circle cx="808.2" cy="194.8" r="5.2"/><circle cx="810.8" cy="209.4" r="5.2"/><circle cx="811.8" cy="213.5" r="5.2"/><circle cx="813.5" cy="176.2" r="5.2"/><circle cx="814.1" cy="206.5" r="5.2"/><circle cx="814.1" cy="179.4" r="5.2"/><circle cx="817.0" cy="202.3" r="5.2"/><circle cx="817.6" cy="170.0" r="5.2"/><circle cx="820.0" cy="171.8" r="5.2"/><circle cx="821.2" cy="198.2" r="5.2"/><circle cx="821.6" cy="208.2" r="5.2"/><circle cx="821.8" cy="207.6" r="5.2"/><circle cx="824.4" cy="206.4" r="5.2"/><circle cx="825.4" cy="149.9" r="5.2"/><circle cx="825.9" cy="217.1" r="5.2"/><circle cx="825.9" cy="149.4" r="5.2"/><circle cx="828.2" cy="204.1" r="5.2"/><circle cx="828.2" cy="165.3" r="5.2"/><circle cx="829.2" cy="155.7" r="5.2"/><circle cx="830.6" cy="156.5" r="5.2"/><circle cx="832.2" cy="158.0" r="5.2"/><circle cx="832.5" cy="125.3" r="5.2"/><circle cx="833.2" cy="154.0" r="5.2"/><circle cx="835.3" cy="177.1" r="5.2"/><circle cx="836.2" cy="179.0" r="5.2"/><circle cx="836.5" cy="148.8" r="5.2"/><circle cx="837.6" cy="194.7" r="5.2"/><circle cx="839.8" cy="137.0" r="5.2"/><circle cx="840.0" cy="138.2" r="5.2"/><circle cx="840.2" cy="150.8" r="5.2"/><circle cx="841.2" cy="152.4" r="5.2"/><circle cx="842.4" cy="181.8" r="5.2"/><circle cx="842.4" cy="170.0" r="5.2"/><circle cx="844.1" cy="195.9" r="5.2"/><circle cx="846.2" cy="118.0" r="5.2"/><circle cx="846.5" cy="158.8" r="5.2"/><circle cx="847.0" cy="174.1" r="5.2"/><circle cx="849.4" cy="158.2" r="5.2"/><circle cx="850.6" cy="126.3" r="5.2"/><circle cx="854.1" cy="144.7" r="5.2"/><circle cx="854.2" cy="214.1" r="5.2"/><circle cx="854.5" cy="130.2" r="5.2"/><circle cx="855.9" cy="214.7" r="5.2"/><circle cx="857.6" cy="161.8" r="5.2"/><circle cx="858.8" cy="177.1" r="5.2"/><circle cx="861.4" cy="116.5" r="5.2"/><circle cx="862.7" cy="114.1" r="5.2"/><circle cx="863.3" cy="110.6" r="5.2"/><circle cx="863.4" cy="164.2" r="5.2"/><circle cx="863.5" cy="164.1" r="5.2"/><circle cx="864.5" cy="110.2" r="5.2"/><circle cx="865.3" cy="218.2" r="5.2"/><circle cx="866.5" cy="197.6" r="5.2"/><circle cx="868.2" cy="75.0" r="5.2"/><circle cx="869.6" cy="104.5" r="5.2"/><circle cx="871.6" cy="100.0" r="5.2"/><circle cx="872.4" cy="142.3" r="5.2"/><circle cx="872.9" cy="141.8" r="5.2"/><circle cx="875.1" cy="134.7" r="5.2"/><circle cx="875.3" cy="133.5" r="5.2"/><circle cx="875.3" cy="108.0" r="5.2"/><circle cx="876.6" cy="104.9" r="5.2"/><circle cx="877.8" cy="99.0" r="5.2"/><circle cx="879.2" cy="114.1" r="5.2"/><circle cx="880.3" cy="93.4" r="5.2"/><circle cx="881.3" cy="129.2" r="5.2"/><circle cx="883.3" cy="87.4" r="5.2"/><circle cx="885.4" cy="103.1" r="5.2"/><circle cx="890.2" cy="86.7" r="5.2"/><circle cx="890.8" cy="85.1" r="5.2"/><circle cx="893.0" cy="95.0" r="5.2"/><circle cx="896.2" cy="121.1" r="5.2"/><circle cx="896.4" cy="121.0" r="5.2"/><circle cx="896.4" cy="101.8" r="5.2"/><circle cx="898.4" cy="69.5" r="5.2"/><circle cx="898.9" cy="70.3" r="5.2"/><circle cx="899.8" cy="61.3" r="5.2"/><circle cx="903.0" cy="86.0" r="5.2"/><circle cx="905.3" cy="91.5" r="5.2"/><circle cx="907.0" cy="82.0" r="5.2"/><circle cx="910.4" cy="81.6" r="5.2"/><circle cx="912.8" cy="73.6" r="5.2"/><circle cx="914.2" cy="78.4" r="5.2"/><circle cx="915.6" cy="83.9" r="5.2"/><circle cx="916.3" cy="110.8" r="5.2"/><circle cx="917.6" cy="94.9" r="5.2"/><circle cx="919.7" cy="109.3" r="5.2"/><circle cx="920.9" cy="96.2" r="5.2"/><circle cx="922.4" cy="83.6" r="5.2"/><circle cx="924.5" cy="99.0" r="5.2"/><circle cx="925.2" cy="85.3" r="5.2"/><circle cx="928.6" cy="111.4" r="5.2"/><circle cx="930.0" cy="96.0" r="5.2"/><circle cx="930.3" cy="93.8" r="5.2"/><circle cx="934.1" cy="93.5" r="5.2"/><circle cx="936.8" cy="88.2" r="5.2"/><circle cx="936.9" cy="99.0" r="5.2"/><circle cx="939.6" cy="113.4" r="5.2"/><circle cx="942.3" cy="104.5" r="5.2"/><circle cx="943.7" cy="121.7" r="5.2"/><circle cx="946.9" cy="123.1" r="5.2"/><circle cx="948.5" cy="99.0" r="5.2"/><circle cx="949.2" cy="112.1" r="5.2"/><circle cx="952.0" cy="104.0" r="5.2"/><circle cx="953.9" cy="134.9" r="5.2"/><circle cx="955.4" cy="135.4" r="5.2"/><circle cx="956.1" cy="111.4" r="5.2"/><circle cx="959.0" cy="110.0" r="5.2"/><circle cx="959.3" cy="108.4" r="5.2"/><circle cx="962.9" cy="125.8" r="5.2"/><circle cx="964.3" cy="114.1" r="5.2"/><circle cx="964.8" cy="116.3" r="5.2"/><circle cx="966.7" cy="105.5" r="5.2"/><circle cx="967.1" cy="94.9" r="5.2"/><circle cx="969.8" cy="104.5" r="5.2"/><circle cx="970.4" cy="99.7" r="5.2"/><circle cx="972.3" cy="89.5" r="5.2"/><circle cx="973.9" cy="86.7" r="5.2"/><circle cx="974.3" cy="103.2" r="5.2"/><circle cx="975.3" cy="94.2" r="5.2"/><circle cx="978.0" cy="108.6" r="5.2"/><circle cx="978.1" cy="82.3" r="5.2"/><circle cx="980.1" cy="86.0" r="5.2"/><circle cx="983.5" cy="121.0" r="5.2"/><circle cx="985.6" cy="95.6" r="5.2"/><circle cx="986.1" cy="103.4" r="5.2"/><circle cx="989.0" cy="112.7" r="5.2"/><circle cx="991.8" cy="103.8" r="5.2"/><circle cx="992.2" cy="112.3" r="5.2"/></g><g clip-path="url(#cR2)" fill="#fff" stroke="#00f" stroke-width="1.55"><circle cx="591.7" cy="615.9" r="5.2"/><circle cx="591.8" cy="615.5" r="5.2"/><circle cx="591.9" cy="617.3" r="5.2"/><circle cx="592.0" cy="615.4" r="5.2"/><circle cx="592.2" cy="616.2" r="5.2"/><circle cx="592.3" cy="619.9" r="5.2"/><circle cx="592.4" cy="615.6" r="5.2"/><circle cx="592.5" cy="616.4" r="5.2"/><circle cx="592.6" cy="616.6" r="5.2"/><circle cx="592.7" cy="617.0" r="5.2"/><circle cx="592.8" cy="616.1" r="5.2"/><circle cx="592.9" cy="618.7" r="5.2"/><circle cx="593.0" cy="616.3" r="5.2"/><circle cx="593.1" cy="617.4" r="5.2"/><circle cx="593.2" cy="615.8" r="5.2"/><circle cx="593.3" cy="615.9" r="5.2"/><circle cx="593.4" cy="618.3" r="5.2"/><circle cx="593.6" cy="618.5" r="5.2"/><circle cx="593.7" cy="621.5" r="5.2"/><circle cx="593.8" cy="619.3" r="5.2"/><circle cx="593.9" cy="617.1" r="5.2"/><circle cx="594.0" cy="615.5" r="5.2"/><circle cx="594.1" cy="623.7" r="5.2"/><circle cx="594.2" cy="620.1" r="5.2"/><circle cx="594.3" cy="617.4" r="5.2"/><circle cx="594.4" cy="618.2" r="5.2"/><circle cx="594.5" cy="615.7" r="5.2"/><circle cx="594.7" cy="619.1" r="5.2"/><circle cx="594.8" cy="617.6" r="5.2"/><circle cx="594.9" cy="617.6" r="5.2"/><circle cx="595.0" cy="617.4" r="5.2"/><circle cx="595.1" cy="620.6" r="5.2"/><circle cx="595.2" cy="619.8" r="5.2"/><circle cx="595.3" cy="616.0" r="5.2"/><circle cx="595.4" cy="618.6" r="5.2"/><circle cx="595.5" cy="615.5" r="5.2"/><circle cx="595.7" cy="619.0" r="5.2"/><circle cx="595.8" cy="616.7" r="5.2"/><circle cx="595.9" cy="618.0" r="5.2"/><circle cx="596.0" cy="614.8" r="5.2"/><circle cx="596.1" cy="616.4" r="5.2"/><circle cx="596.2" cy="615.8" r="5.2"/><circle cx="596.3" cy="615.3" r="5.2"/><circle cx="596.5" cy="617.0" r="5.2"/><circle cx="596.6" cy="620.3" r="5.2"/><circle cx="596.7" cy="620.9" r="5.2"/><circle cx="596.8" cy="616.1" r="5.2"/><circle cx="596.9" cy="619.6" r="5.2"/><circle cx="597.0" cy="623.3" r="5.2"/><circle cx="597.1" cy="624.6" r="5.2"/><circle cx="597.3" cy="616.9" r="5.2"/><circle cx="597.4" cy="619.3" r="5.2"/><circle cx="597.5" cy="619.5" r="5.2"/><circle cx="597.6" cy="615.7" r="5.2"/><circle cx="597.7" cy="620.9" r="5.2"/><circle cx="597.8" cy="619.4" r="5.2"/><circle cx="598.0" cy="615.4" r="5.2"/><circle cx="598.1" cy="616.9" r="5.2"/><circle cx="598.2" cy="619.5" r="5.2"/><circle cx="598.3" cy="621.2" r="5.2"/><circle cx="598.4" cy="617.8" r="5.2"/><circle cx="598.5" cy="616.8" r="5.2"/><circle cx="598.7" cy="619.9" r="5.2"/><circle cx="598.8" cy="618.2" r="5.2"/><circle cx="598.9" cy="619.6" r="5.2"/><circle cx="599.0" cy="620.8" r="5.2"/><circle cx="599.1" cy="615.5" r="5.2"/><circle cx="599.3" cy="614.3" r="5.2"/><circle cx="599.4" cy="614.5" r="5.2"/><circle cx="599.5" cy="621.8" r="5.2"/><circle cx="599.6" cy="615.8" r="5.2"/><circle cx="599.7" cy="619.2" r="5.2"/><circle cx="599.9" cy="615.0" r="5.2"/><circle cx="600.0" cy="613.8" r="5.2"/><circle cx="600.1" cy="620.6" r="5.2"/><circle cx="600.2" cy="618.8" r="5.2"/><circle cx="600.3" cy="616.4" r="5.2"/><circle cx="600.5" cy="615.9" r="5.2"/><circle cx="600.6" cy="615.5" r="5.2"/><circle cx="600.7" cy="614.3" r="5.2"/><circle cx="600.8" cy="619.2" r="5.2"/><circle cx="601.0" cy="616.7" r="5.2"/><circle cx="601.1" cy="615.4" r="5.2"/><circle cx="601.2" cy="614.5" r="5.2"/><circle cx="601.3" cy="613.5" r="5.2"/><circle cx="601.4" cy="615.2" r="5.2"/><circle cx="601.6" cy="615.0" r="5.2"/><circle cx="601.7" cy="618.6" r="5.2"/><circle cx="601.8" cy="617.1" r="5.2"/><circle cx="601.9" cy="620.2" r="5.2"/><circle cx="602.1" cy="614.1" r="5.2"/><circle cx="602.2" cy="618.4" r="5.2"/><circle cx="602.3" cy="616.2" r="5.2"/><circle cx="602.4" cy="617.3" r="5.2"/><circle cx="602.6" cy="614.8" r="5.2"/><circle cx="602.7" cy="615.3" r="5.2"/><circle cx="602.8" cy="614.5" r="5.2"/><circle cx="603.0" cy="615.2" r="5.2"/><circle cx="603.1" cy="620.6" r="5.2"/><circle cx="603.2" cy="619.1" r="5.2"/><circle cx="603.3" cy="615.7" r="5.2"/><circle cx="603.5" cy="617.5" r="5.2"/><circle cx="603.6" cy="619.1" r="5.2"/><circle cx="603.7" cy="615.7" r="5.2"/><circle cx="603.8" cy="619.4" r="5.2"/><circle cx="604.0" cy="618.4" r="5.2"/><circle cx="604.1" cy="619.9" r="5.2"/><circle cx="604.2" cy="614.8" r="5.2"/><circle cx="604.4" cy="621.5" r="5.2"/><circle cx="604.5" cy="617.8" r="5.2"/><circle cx="604.6" cy="615.7" r="5.2"/><circle cx="604.8" cy="618.0" r="5.2"/><circle cx="604.9" cy="614.4" r="5.2"/><circle cx="605.0" cy="620.9" r="5.2"/><circle cx="605.1" cy="615.8" r="5.2"/><circle cx="605.3" cy="616.3" r="5.2"/><circle cx="605.4" cy="614.6" r="5.2"/><circle cx="605.5" cy="619.5" r="5.2"/><circle cx="605.7" cy="615.0" r="5.2"/><circle cx="605.8" cy="615.2" r="5.2"/><circle cx="605.9" cy="616.6" r="5.2"/><circle cx="606.1" cy="613.6" r="5.2"/><circle cx="606.2" cy="617.2" r="5.2"/><circle cx="606.3" cy="614.9" r="5.2"/><circle cx="606.5" cy="617.1" r="5.2"/><circle cx="606.6" cy="618.1" r="5.2"/><circle cx="606.7" cy="614.5" r="5.2"/><circle cx="606.9" cy="613.8" r="5.2"/><circle cx="607.0" cy="621.5" r="5.2"/><circle cx="607.1" cy="616.9" r="5.2"/><circle cx="607.3" cy="615.0" r="5.2"/><circle cx="607.4" cy="620.3" r="5.2"/><circle cx="607.5" cy="613.9" r="5.2"/><circle cx="607.7" cy="616.0" r="5.2"/><circle cx="607.8" cy="617.8" r="5.2"/><circle cx="608.0" cy="617.8" r="5.2"/><circle cx="608.1" cy="616.1" r="5.2"/><circle cx="608.2" cy="616.1" r="5.2"/><circle cx="608.4" cy="613.2" r="5.2"/><circle cx="608.5" cy="623.1" r="5.2"/><circle cx="608.6" cy="613.8" r="5.2"/><circle cx="608.8" cy="616.8" r="5.2"/><circle cx="608.9" cy="615.0" r="5.2"/><circle cx="609.1" cy="619.9" r="5.2"/><circle cx="609.2" cy="620.7" r="5.2"/><circle cx="609.3" cy="616.0" r="5.2"/><circle cx="609.5" cy="615.4" r="5.2"/><circle cx="609.6" cy="616.0" r="5.2"/><circle cx="609.8" cy="615.5" r="5.2"/><circle cx="609.9" cy="620.4" r="5.2"/><circle cx="610.0" cy="615.3" r="5.2"/><circle cx="610.2" cy="617.2" r="5.2"/><circle cx="610.3" cy="619.8" r="5.2"/><circle cx="610.5" cy="614.1" r="5.2"/><circle cx="610.6" cy="617.9" r="5.2"/><circle cx="610.8" cy="614.2" r="5.2"/><circle cx="610.9" cy="615.6" r="5.2"/><circle cx="611.0" cy="612.4" r="5.2"/><circle cx="611.2" cy="615.5" r="5.2"/><circle cx="611.3" cy="617.9" r="5.2"/><circle cx="611.5" cy="613.8" r="5.2"/><circle cx="611.6" cy="614.1" r="5.2"/><circle cx="611.8" cy="617.1" r="5.2"/><circle cx="611.9" cy="618.3" r="5.2"/><circle cx="612.0" cy="616.9" r="5.2"/><circle cx="612.2" cy="623.8" r="5.2"/><circle cx="612.3" cy="613.4" r="5.2"/><circle cx="612.5" cy="617.3" r="5.2"/><circle cx="612.6" cy="612.6" r="5.2"/><circle cx="612.8" cy="614.8" r="5.2"/><circle cx="612.9" cy="616.6" r="5.2"/><circle cx="613.1" cy="615.1" r="5.2"/><circle cx="613.2" cy="614.4" r="5.2"/><circle cx="613.4" cy="613.2" r="5.2"/><circle cx="613.5" cy="614.1" r="5.2"/><circle cx="613.7" cy="619.2" r="5.2"/><circle cx="613.8" cy="618.4" r="5.2"/><circle cx="614.0" cy="616.0" r="5.2"/><circle cx="614.1" cy="614.9" r="5.2"/><circle cx="614.3" cy="618.1" r="5.2"/><circle cx="614.4" cy="612.2" r="5.2"/><circle cx="614.6" cy="618.8" r="5.2"/><circle cx="614.7" cy="614.5" r="5.2"/><circle cx="614.9" cy="616.0" r="5.2"/><circle cx="615.0" cy="614.6" r="5.2"/><circle cx="615.2" cy="617.3" r="5.2"/><circle cx="615.3" cy="620.0" r="5.2"/><circle cx="615.5" cy="611.7" r="5.2"/><circle cx="615.6" cy="615.4" r="5.2"/><circle cx="615.8" cy="614.4" r="5.2"/><circle cx="615.9" cy="616.7" r="5.2"/><circle cx="616.1" cy="622.2" r="5.2"/><circle cx="616.2" cy="613.4" r="5.2"/><circle cx="616.4" cy="614.7" r="5.2"/><circle cx="616.6" cy="614.0" r="5.2"/><circle cx="616.7" cy="616.1" r="5.2"/><circle cx="616.9" cy="615.9" r="5.2"/><circle cx="617.0" cy="616.9" r="5.2"/><circle cx="617.2" cy="612.5" r="5.2"/><circle cx="617.3" cy="613.1" r="5.2"/><circle cx="617.5" cy="613.1" r="5.2"/><circle cx="617.7" cy="612.4" r="5.2"/><circle cx="617.8" cy="616.9" r="5.2"/><circle cx="618.0" cy="617.8" r="5.2"/><circle cx="618.1" cy="614.0" r="5.2"/><circle cx="618.3" cy="615.7" r="5.2"/><circle cx="618.4" cy="614.9" r="5.2"/><circle cx="618.6" cy="616.0" r="5.2"/><circle cx="618.8" cy="612.9" r="5.2"/><circle cx="618.9" cy="614.5" r="5.2"/><circle cx="619.1" cy="614.0" r="5.2"/><circle cx="619.2" cy="613.2" r="5.2"/><circle cx="619.4" cy="612.0" r="5.2"/><circle cx="619.6" cy="616.4" r="5.2"/><circle cx="619.7" cy="614.1" r="5.2"/><circle cx="619.9" cy="612.4" r="5.2"/><circle cx="620.1" cy="613.4" r="5.2"/><circle cx="620.2" cy="613.2" r="5.2"/><circle cx="620.4" cy="613.6" r="5.2"/><circle cx="620.5" cy="617.8" r="5.2"/><circle cx="620.7" cy="612.4" r="5.2"/><circle cx="620.9" cy="612.1" r="5.2"/><circle cx="621.0" cy="611.0" r="5.2"/><circle cx="621.2" cy="615.5" r="5.2"/><circle cx="621.4" cy="618.4" r="5.2"/><circle cx="621.5" cy="614.5" r="5.2"/><circle cx="621.7" cy="614.8" r="5.2"/><circle cx="621.9" cy="615.9" r="5.2"/><circle cx="622.0" cy="615.9" r="5.2"/><circle cx="622.2" cy="612.8" r="5.2"/><circle cx="622.4" cy="613.2" r="5.2"/><circle cx="622.5" cy="611.1" r="5.2"/><circle cx="622.7" cy="613.1" r="5.2"/><circle cx="622.9" cy="615.4" r="5.2"/><circle cx="623.0" cy="619.0" r="5.2"/><circle cx="623.2" cy="612.4" r="5.2"/><circle cx="623.4" cy="615.2" r="5.2"/><circle cx="623.6" cy="617.0" r="5.2"/><circle cx="623.7" cy="610.8" r="5.2"/><circle cx="623.9" cy="612.0" r="5.2"/><circle cx="624.1" cy="617.6" r="5.2"/><circle cx="624.2" cy="611.2" r="5.2"/><circle cx="624.4" cy="611.1" r="5.2"/><circle cx="624.6" cy="612.6" r="5.2"/><circle cx="624.8" cy="611.6" r="5.2"/><circle cx="624.9" cy="616.0" r="5.2"/><circle cx="625.1" cy="614.6" r="5.2"/><circle cx="625.3" cy="614.4" r="5.2"/><circle cx="625.5" cy="611.6" r="5.2"/><circle cx="625.6" cy="610.7" r="5.2"/><circle cx="625.8" cy="611.9" r="5.2"/><circle cx="626.0" cy="612.1" r="5.2"/><circle cx="626.2" cy="616.6" r="5.2"/><circle cx="626.3" cy="611.0" r="5.2"/><circle cx="626.5" cy="614.4" r="5.2"/><circle cx="626.7" cy="610.0" r="5.2"/><circle cx="626.9" cy="612.7" r="5.2"/><circle cx="627.1" cy="611.1" r="5.2"/><circle cx="627.2" cy="611.3" r="5.2"/><circle cx="627.4" cy="611.7" r="5.2"/><circle cx="627.6" cy="618.5" r="5.2"/><circle cx="627.8" cy="613.7" r="5.2"/><circle cx="628.0" cy="611.1" r="5.2"/><circle cx="628.1" cy="613.2" r="5.2"/><circle cx="628.3" cy="610.8" r="5.2"/><circle cx="628.5" cy="610.8" r="5.2"/><circle cx="628.7" cy="614.1" r="5.2"/><circle cx="628.9" cy="612.0" r="5.2"/><circle cx="629.1" cy="612.8" r="5.2"/><circle cx="629.2" cy="615.4" r="5.2"/><circle cx="629.4" cy="611.3" r="5.2"/><circle cx="629.6" cy="612.5" r="5.2"/><circle cx="629.8" cy="611.5" r="5.2"/><circle cx="630.0" cy="614.1" r="5.2"/><circle cx="630.2" cy="609.6" r="5.2"/><circle cx="630.3" cy="611.6" r="5.2"/><circle cx="630.5" cy="612.8" r="5.2"/><circle cx="630.7" cy="616.2" r="5.2"/><circle cx="630.9" cy="608.9" r="5.2"/><circle cx="631.1" cy="616.0" r="5.2"/><circle cx="631.3" cy="618.2" r="5.2"/><circle cx="631.5" cy="613.3" r="5.2"/><circle cx="631.7" cy="614.1" r="5.2"/><circle cx="631.9" cy="611.6" r="5.2"/><circle cx="632.0" cy="614.1" r="5.2"/><circle cx="632.2" cy="609.3" r="5.2"/><circle cx="632.4" cy="609.8" r="5.2"/><circle cx="632.6" cy="609.3" r="5.2"/><circle cx="632.8" cy="609.1" r="5.2"/><circle cx="633.0" cy="609.3" r="5.2"/><circle cx="633.2" cy="610.1" r="5.2"/><circle cx="633.4" cy="609.6" r="5.2"/><circle cx="633.6" cy="613.4" r="5.2"/><circle cx="633.8" cy="610.4" r="5.2"/><circle cx="634.0" cy="611.7" r="5.2"/><circle cx="634.2" cy="610.8" r="5.2"/><circle cx="634.4" cy="614.9" r="5.2"/><circle cx="634.6" cy="610.2" r="5.2"/><circle cx="634.8" cy="614.3" r="5.2"/><circle cx="635.0" cy="613.6" r="5.2"/><circle cx="635.2" cy="611.2" r="5.2"/><circle cx="635.4" cy="610.5" r="5.2"/><circle cx="635.6" cy="610.3" r="5.2"/><circle cx="635.8" cy="608.5" r="5.2"/><circle cx="636.0" cy="618.3" r="5.2"/><circle cx="636.2" cy="607.9" r="5.2"/><circle cx="636.4" cy="608.9" r="5.2"/><circle cx="636.6" cy="609.9" r="5.2"/><circle cx="636.8" cy="615.6" r="5.2"/><circle cx="637.0" cy="611.9" r="5.2"/><circle cx="637.2" cy="610.2" r="5.2"/><circle cx="637.4" cy="613.7" r="5.2"/><circle cx="637.6" cy="609.4" r="5.2"/><circle cx="637.8" cy="609.2" r="5.2"/><circle cx="638.0" cy="609.0" r="5.2"/><circle cx="638.2" cy="611.6" r="5.2"/><circle cx="638.4" cy="609.0" r="5.2"/><circle cx="638.6" cy="608.4" r="5.2"/><circle cx="638.8" cy="611.2" r="5.2"/><circle cx="639.0" cy="606.8" r="5.2"/><circle cx="639.2" cy="608.2" r="5.2"/><circle cx="639.4" cy="612.5" r="5.2"/><circle cx="639.7" cy="609.3" r="5.2"/><circle cx="639.9" cy="612.7" r="5.2"/><circle cx="640.1" cy="611.1" r="5.2"/><circle cx="640.3" cy="606.6" r="5.2"/><circle cx="640.5" cy="611.2" r="5.2"/><circle cx="640.7" cy="606.2" r="5.2"/><circle cx="640.9" cy="612.9" r="5.2"/><circle cx="641.1" cy="621.5" r="5.2"/><circle cx="641.4" cy="611.3" r="5.2"/><circle cx="641.6" cy="612.2" r="5.2"/><circle cx="641.8" cy="612.4" r="5.2"/><circle cx="642.0" cy="608.6" r="5.2"/><circle cx="642.2" cy="607.3" r="5.2"/><circle cx="642.4" cy="606.8" r="5.2"/><circle cx="642.6" cy="608.3" r="5.2"/><circle cx="642.9" cy="608.8" r="5.2"/><circle cx="643.1" cy="605.3" r="5.2"/><circle cx="643.3" cy="608.3" r="5.2"/><circle cx="643.5" cy="605.5" r="5.2"/><circle cx="643.7" cy="606.3" r="5.2"/><circle cx="644.0" cy="608.4" r="5.2"/><circle cx="644.2" cy="605.2" r="5.2"/><circle cx="644.4" cy="610.8" r="5.2"/><circle cx="644.6" cy="611.6" r="5.2"/><circle cx="644.9" cy="612.6" r="5.2"/><circle cx="645.1" cy="604.6" r="5.2"/><circle cx="645.3" cy="606.5" r="5.2"/><circle cx="645.5" cy="607.5" r="5.2"/><circle cx="645.7" cy="605.5" r="5.2"/><circle cx="646.0" cy="610.5" r="5.2"/><circle cx="646.2" cy="608.6" r="5.2"/><circle cx="646.4" cy="605.0" r="5.2"/><circle cx="646.7" cy="605.7" r="5.2"/><circle cx="646.9" cy="608.2" r="5.2"/><circle cx="647.1" cy="607.4" r="5.2"/><circle cx="647.3" cy="610.3" r="5.2"/><circle cx="647.6" cy="608.1" r="5.2"/><circle cx="647.8" cy="605.3" r="5.2"/><circle cx="648.0" cy="605.8" r="5.2"/><circle cx="648.3" cy="604.3" r="5.2"/><circle cx="648.5" cy="604.2" r="5.2"/><circle cx="648.7" cy="605.3" r="5.2"/><circle cx="649.0" cy="605.6" r="5.2"/><circle cx="649.2" cy="605.2" r="5.2"/><circle cx="649.4" cy="604.6" r="5.2"/><circle cx="649.7" cy="609.6" r="5.2"/><circle cx="649.9" cy="606.4" r="5.2"/><circle cx="650.1" cy="610.2" r="5.2"/><circle cx="650.4" cy="603.5" r="5.2"/><circle cx="650.6" cy="606.6" r="5.2"/><circle cx="650.9" cy="603.8" r="5.2"/><circle cx="651.1" cy="603.2" r="5.2"/><circle cx="651.3" cy="609.9" r="5.2"/><circle cx="651.6" cy="608.9" r="5.2"/><circle cx="651.8" cy="606.5" r="5.2"/><circle cx="652.1" cy="605.5" r="5.2"/><circle cx="652.3" cy="606.6" r="5.2"/><circle cx="652.6" cy="602.9" r="5.2"/><circle cx="652.8" cy="610.1" r="5.2"/><circle cx="653.0" cy="609.2" r="5.2"/><circle cx="653.3" cy="605.4" r="5.2"/><circle cx="653.5" cy="603.0" r="5.2"/><circle cx="653.8" cy="605.5" r="5.2"/><circle cx="654.0" cy="606.0" r="5.2"/><circle cx="654.3" cy="602.2" r="5.2"/><circle cx="654.5" cy="601.6" r="5.2"/><circle cx="654.8" cy="603.0" r="5.2"/><circle cx="655.0" cy="602.1" r="5.2"/><circle cx="655.3" cy="606.4" r="5.2"/><circle cx="655.5" cy="604.3" r="5.2"/><circle cx="655.8" cy="606.8" r="5.2"/><circle cx="656.0" cy="605.4" r="5.2"/><circle cx="656.3" cy="600.2" r="5.2"/><circle cx="656.5" cy="607.2" r="5.2"/><circle cx="656.8" cy="602.7" r="5.2"/><circle cx="657.1" cy="604.0" r="5.2"/><circle cx="657.3" cy="604.0" r="5.2"/><circle cx="657.6" cy="602.8" r="5.2"/><circle cx="657.8" cy="607.2" r="5.2"/><circle cx="658.1" cy="604.8" r="5.2"/><circle cx="658.3" cy="600.3" r="5.2"/><circle cx="658.6" cy="602.5" r="5.2"/><circle cx="658.9" cy="600.1" r="5.2"/><circle cx="659.1" cy="599.2" r="5.2"/><circle cx="659.4" cy="599.3" r="5.2"/><circle cx="659.7" cy="601.9" r="5.2"/><circle cx="659.9" cy="608.2" r="5.2"/><circle cx="660.2" cy="600.7" r="5.2"/><circle cx="660.5" cy="599.4" r="5.2"/><circle cx="660.7" cy="603.7" r="5.2"/><circle cx="661.0" cy="597.6" r="5.2"/><circle cx="661.3" cy="599.8" r="5.2"/><circle cx="661.5" cy="602.6" r="5.2"/><circle cx="661.8" cy="603.0" r="5.2"/><circle cx="662.1" cy="601.4" r="5.2"/><circle cx="662.3" cy="602.2" r="5.2"/><circle cx="662.6" cy="601.3" r="5.2"/><circle cx="662.9" cy="597.5" r="5.2"/><circle cx="663.2" cy="597.7" r="5.2"/><circle cx="663.4" cy="604.7" r="5.2"/><circle cx="663.7" cy="596.8" r="5.2"/><circle cx="664.0" cy="597.1" r="5.2"/><circle cx="664.3" cy="600.5" r="5.2"/><circle cx="664.5" cy="597.2" r="5.2"/><circle cx="664.8" cy="598.3" r="5.2"/><circle cx="665.1" cy="599.9" r="5.2"/><circle cx="665.4" cy="595.6" r="5.2"/><circle cx="665.7" cy="596.7" r="5.2"/><circle cx="665.9" cy="601.2" r="5.2"/><circle cx="666.2" cy="595.4" r="5.2"/><circle cx="666.5" cy="597.0" r="5.2"/><circle cx="666.8" cy="594.8" r="5.2"/><circle cx="667.1" cy="597.4" r="5.2"/><circle cx="667.4" cy="597.2" r="5.2"/><circle cx="667.6" cy="601.4" r="5.2"/><circle cx="667.9" cy="600.6" r="5.2"/><circle cx="668.2" cy="599.2" r="5.2"/><circle cx="668.5" cy="595.6" r="5.2"/><circle cx="668.8" cy="594.2" r="5.2"/><circle cx="669.1" cy="593.8" r="5.2"/><circle cx="669.4" cy="597.0" r="5.2"/><circle cx="669.7" cy="597.0" r="5.2"/><circle cx="670.0" cy="597.6" r="5.2"/><circle cx="670.3" cy="594.8" r="5.2"/><circle cx="670.6" cy="596.0" r="5.2"/><circle cx="670.9" cy="597.6" r="5.2"/><circle cx="671.2" cy="596.0" r="5.2"/><circle cx="671.5" cy="597.0" r="5.2"/><circle cx="671.8" cy="594.1" r="5.2"/><circle cx="672.1" cy="593.1" r="5.2"/><circle cx="672.4" cy="594.2" r="5.2"/><circle cx="672.7" cy="597.8" r="5.2"/><circle cx="673.0" cy="592.9" r="5.2"/><circle cx="673.3" cy="593.6" r="5.2"/><circle cx="673.6" cy="595.7" r="5.2"/><circle cx="673.9" cy="593.5" r="5.2"/><circle cx="674.2" cy="592.3" r="5.2"/><circle cx="674.5" cy="593.3" r="5.2"/><circle cx="674.8" cy="591.1" r="5.2"/><circle cx="675.1" cy="594.4" r="5.2"/><circle cx="675.4" cy="591.6" r="5.2"/><circle cx="675.7" cy="590.4" r="5.2"/><circle cx="676.0" cy="590.7" r="5.2"/><circle cx="676.4" cy="591.4" r="5.2"/><circle cx="676.7" cy="592.0" r="5.2"/><circle cx="677.0" cy="589.2" r="5.2"/><circle cx="677.3" cy="592.2" r="5.2"/><circle cx="677.6" cy="590.0" r="5.2"/><circle cx="677.9" cy="588.3" r="5.2"/><circle cx="678.3" cy="589.9" r="5.2"/><circle cx="678.6" cy="587.8" r="5.2"/><circle cx="678.9" cy="588.8" r="5.2"/><circle cx="679.2" cy="590.6" r="5.2"/><circle cx="679.5" cy="590.1" r="5.2"/><circle cx="679.9" cy="589.0" r="5.2"/><circle cx="680.2" cy="589.2" r="5.2"/><circle cx="680.5" cy="589.7" r="5.2"/><circle cx="680.8" cy="589.1" r="5.2"/><circle cx="681.2" cy="586.8" r="5.2"/><circle cx="681.5" cy="587.6" r="5.2"/><circle cx="681.8" cy="588.5" r="5.2"/><circle cx="682.2" cy="586.0" r="5.2"/><circle cx="682.5" cy="586.1" r="5.2"/><circle cx="682.8" cy="587.8" r="5.2"/><circle cx="683.2" cy="587.8" r="5.2"/><circle cx="683.5" cy="585.1" r="5.2"/><circle cx="683.8" cy="585.4" r="5.2"/><circle cx="684.2" cy="585.9" r="5.2"/><circle cx="684.5" cy="585.2" r="5.2"/><circle cx="684.9" cy="584.9" r="5.2"/><circle cx="685.2" cy="585.5" r="5.2"/><circle cx="685.5" cy="584.8" r="5.2"/><circle cx="685.9" cy="584.0" r="5.2"/><circle cx="686.2" cy="586.5" r="5.2"/><circle cx="686.6" cy="584.7" r="5.2"/><circle cx="686.9" cy="584.2" r="5.2"/><circle cx="687.3" cy="583.9" r="5.2"/><circle cx="687.6" cy="585.8" r="5.2"/><circle cx="688.0" cy="583.6" r="5.2"/><circle cx="688.3" cy="581.5" r="5.2"/><circle cx="688.7" cy="582.4" r="5.2"/><circle cx="689.0" cy="581.8" r="5.2"/><circle cx="689.4" cy="580.9" r="5.2"/><circle cx="689.7" cy="581.5" r="5.2"/><circle cx="690.1" cy="581.2" r="5.2"/><circle cx="690.5" cy="580.5" r="5.2"/><circle cx="690.8" cy="579.7" r="5.2"/><circle cx="691.2" cy="580.7" r="5.2"/><circle cx="691.5" cy="577.8" r="5.2"/><circle cx="691.9" cy="580.0" r="5.2"/><circle cx="692.3" cy="578.7" r="5.2"/><circle cx="692.6" cy="578.6" r="5.2"/><circle cx="693.0" cy="575.3" r="5.2"/><circle cx="693.4" cy="579.4" r="5.2"/><circle cx="693.7" cy="575.2" r="5.2"/><circle cx="694.1" cy="575.8" r="5.2"/><circle cx="694.5" cy="577.1" r="5.2"/><circle cx="694.9" cy="575.3" r="5.2"/><circle cx="695.2" cy="575.2" r="5.2"/><circle cx="695.6" cy="572.6" r="5.2"/><circle cx="696.0" cy="574.3" r="5.2"/><circle cx="696.4" cy="574.7" r="5.2"/><circle cx="696.7" cy="574.9" r="5.2"/><circle cx="697.1" cy="573.3" r="5.2"/><circle cx="697.5" cy="573.5" r="5.2"/><circle cx="697.9" cy="573.4" r="5.2"/><circle cx="698.3" cy="571.6" r="5.2"/><circle cx="698.7" cy="571.1" r="5.2"/><circle cx="699.0" cy="574.1" r="5.2"/><circle cx="699.4" cy="570.2" r="5.2"/><circle cx="699.8" cy="572.4" r="5.2"/><circle cx="700.2" cy="570.6" r="5.2"/><circle cx="700.6" cy="571.9" r="5.2"/><circle cx="701.0" cy="568.8" r="5.2"/><circle cx="701.4" cy="569.9" r="5.2"/><circle cx="701.8" cy="569.2" r="5.2"/><circle cx="702.2" cy="568.1" r="5.2"/><circle cx="702.6" cy="568.4" r="5.2"/><circle cx="703.0" cy="566.6" r="5.2"/><circle cx="703.4" cy="567.1" r="5.2"/><circle cx="703.8" cy="566.2" r="5.2"/><circle cx="704.2" cy="567.3" r="5.2"/><circle cx="704.6" cy="565.8" r="5.2"/><circle cx="705.0" cy="563.6" r="5.2"/><circle cx="705.4" cy="564.6" r="5.2"/><circle cx="705.9" cy="564.5" r="5.2"/><circle cx="706.3" cy="563.0" r="5.2"/><circle cx="706.7" cy="565.5" r="5.2"/><circle cx="707.1" cy="563.9" r="5.2"/><circle cx="707.5" cy="564.0" r="5.2"/><circle cx="707.9" cy="561.4" r="5.2"/><circle cx="708.4" cy="561.5" r="5.2"/><circle cx="708.8" cy="562.9" r="5.2"/><circle cx="709.2" cy="559.2" r="5.2"/><circle cx="709.6" cy="561.2" r="5.2"/><circle cx="710.0" cy="560.4" r="5.2"/><circle cx="710.5" cy="559.1" r="5.2"/><circle cx="710.9" cy="559.5" r="5.2"/><circle cx="711.3" cy="557.5" r="5.2"/><circle cx="711.8" cy="558.8" r="5.2"/><circle cx="712.2" cy="556.4" r="5.2"/><circle cx="712.6" cy="555.8" r="5.2"/><circle cx="713.1" cy="559.1" r="5.2"/><circle cx="713.5" cy="555.7" r="5.2"/><circle cx="714.0" cy="553.3" r="5.2"/><circle cx="714.4" cy="557.1" r="5.2"/><circle cx="714.8" cy="554.2" r="5.2"/><circle cx="715.3" cy="549.9" r="5.2"/><circle cx="715.7" cy="554.3" r="5.2"/><circle cx="716.2" cy="555.2" r="5.2"/><circle cx="716.6" cy="553.9" r="5.2"/><circle cx="717.1" cy="555.4" r="5.2"/><circle cx="717.5" cy="552.3" r="5.2"/><circle cx="718.0" cy="552.8" r="5.2"/><circle cx="718.5" cy="549.9" r="5.2"/><circle cx="718.9" cy="551.1" r="5.2"/><circle cx="719.4" cy="552.5" r="5.2"/><circle cx="719.8" cy="550.5" r="5.2"/><circle cx="720.3" cy="549.5" r="5.2"/><circle cx="720.8" cy="545.9" r="5.2"/><circle cx="721.2" cy="547.6" r="5.2"/><circle cx="721.7" cy="545.8" r="5.2"/><circle cx="722.2" cy="548.2" r="5.2"/><circle cx="722.7" cy="545.5" r="5.2"/><circle cx="723.1" cy="546.5" r="5.2"/><circle cx="723.6" cy="544.0" r="5.2"/><circle cx="724.1" cy="547.6" r="5.2"/><circle cx="724.6" cy="542.6" r="5.2"/><circle cx="725.1" cy="544.0" r="5.2"/><circle cx="725.5" cy="547.1" r="5.2"/><circle cx="726.0" cy="543.0" r="5.2"/><circle cx="726.5" cy="540.8" r="5.2"/><circle cx="727.0" cy="542.4" r="5.2"/><circle cx="727.5" cy="542.4" r="5.2"/><circle cx="728.0" cy="541.7" r="5.2"/><circle cx="728.5" cy="536.9" r="5.2"/><circle cx="729.0" cy="539.6" r="5.2"/><circle cx="729.5" cy="535.5" r="5.2"/><circle cx="730.0" cy="540.9" r="5.2"/><circle cx="730.5" cy="537.7" r="5.2"/><circle cx="731.0" cy="536.4" r="5.2"/><circle cx="731.5" cy="537.6" r="5.2"/><circle cx="732.0" cy="536.8" r="5.2"/><circle cx="732.5" cy="533.7" r="5.2"/><circle cx="733.0" cy="537.5" r="5.2"/><circle cx="733.6" cy="534.1" r="5.2"/><circle cx="734.1" cy="531.3" r="5.2"/><circle cx="734.6" cy="535.6" r="5.2"/><circle cx="735.1" cy="535.3" r="5.2"/><circle cx="735.7" cy="534.4" r="5.2"/><circle cx="736.2" cy="532.8" r="5.2"/><circle cx="736.7" cy="530.0" r="5.2"/><circle cx="737.2" cy="532.3" r="5.2"/><circle cx="737.8" cy="533.2" r="5.2"/><circle cx="738.3" cy="531.1" r="5.2"/><circle cx="738.8" cy="531.8" r="5.2"/><circle cx="739.4" cy="527.5" r="5.2"/><circle cx="739.9" cy="529.8" r="5.2"/><circle cx="740.5" cy="529.1" r="5.2"/><circle cx="741.0" cy="524.7" r="5.2"/><circle cx="741.6" cy="523.9" r="5.2"/><circle cx="742.1" cy="524.8" r="5.2"/><circle cx="742.7" cy="525.5" r="5.2"/><circle cx="743.2" cy="525.6" r="5.2"/><circle cx="743.8" cy="523.9" r="5.2"/><circle cx="744.3" cy="523.6" r="5.2"/><circle cx="744.9" cy="523.0" r="5.2"/><circle cx="745.5" cy="522.8" r="5.2"/><circle cx="746.0" cy="523.0" r="5.2"/><circle cx="746.6" cy="522.3" r="5.2"/><circle cx="747.2" cy="520.8" r="5.2"/><circle cx="747.8" cy="520.8" r="5.2"/><circle cx="748.3" cy="519.0" r="5.2"/><circle cx="748.9" cy="520.5" r="5.2"/><circle cx="749.5" cy="517.8" r="5.2"/><circle cx="750.1" cy="520.8" r="5.2"/><circle cx="750.7" cy="517.4" r="5.2"/><circle cx="751.3" cy="517.3" r="5.2"/><circle cx="751.8" cy="515.0" r="5.2"/><circle cx="752.4" cy="515.1" r="5.2"/><circle cx="753.0" cy="515.3" r="5.2"/><circle cx="753.6" cy="514.5" r="5.2"/><circle cx="754.2" cy="512.8" r="5.2"/><circle cx="754.8" cy="511.3" r="5.2"/><circle cx="755.4" cy="512.7" r="5.2"/><circle cx="756.1" cy="512.3" r="5.2"/><circle cx="756.7" cy="512.4" r="5.2"/><circle cx="757.3" cy="513.0" r="5.2"/><circle cx="757.9" cy="509.6" r="5.2"/><circle cx="758.5" cy="506.1" r="5.2"/><circle cx="759.1" cy="508.8" r="5.2"/><circle cx="759.8" cy="505.2" r="5.2"/><circle cx="760.4" cy="505.6" r="5.2"/><circle cx="761.0" cy="509.1" r="5.2"/><circle cx="761.7" cy="507.7" r="5.2"/><circle cx="762.3" cy="505.0" r="5.2"/><circle cx="762.9" cy="504.4" r="5.2"/><circle cx="763.6" cy="504.8" r="5.2"/><circle cx="764.2" cy="501.2" r="5.2"/><circle cx="764.9" cy="504.6" r="5.2"/><circle cx="765.5" cy="502.5" r="5.2"/><circle cx="766.2" cy="505.9" r="5.2"/><circle cx="766.8" cy="500.0" r="5.2"/><circle cx="767.5" cy="503.1" r="5.2"/><circle cx="768.2" cy="499.5" r="5.2"/><circle cx="768.8" cy="502.0" r="5.2"/><circle cx="769.5" cy="497.7" r="5.2"/><circle cx="770.2" cy="500.2" r="5.2"/><circle cx="770.9" cy="497.4" r="5.2"/><circle cx="771.5" cy="496.2" r="5.2"/><circle cx="772.2" cy="497.0" r="5.2"/><circle cx="772.9" cy="497.8" r="5.2"/><circle cx="773.6" cy="497.2" r="5.2"/><circle cx="774.3" cy="498.9" r="5.2"/><circle cx="775.0" cy="497.1" r="5.2"/><circle cx="775.7" cy="490.1" r="5.2"/><circle cx="776.4" cy="493.9" r="5.2"/><circle cx="777.1" cy="490.4" r="5.2"/><circle cx="777.8" cy="493.0" r="5.2"/><circle cx="778.5" cy="494.5" r="5.2"/><circle cx="779.2" cy="490.3" r="5.2"/><circle cx="779.9" cy="490.1" r="5.2"/><circle cx="780.6" cy="492.2" r="5.2"/><circle cx="781.4" cy="490.9" r="5.2"/><circle cx="782.1" cy="494.0" r="5.2"/><circle cx="782.8" cy="491.1" r="5.2"/><circle cx="785.0" cy="499.1" r="5.2"/><circle cx="785.5" cy="501.4" r="5.2"/><circle cx="785.9" cy="502.4" r="5.2"/><circle cx="786.5" cy="497.7" r="5.2"/><circle cx="787.3" cy="498.3" r="5.2"/><circle cx="789.6" cy="497.5" r="5.2"/><circle cx="790.0" cy="495.0" r="5.2"/><circle cx="790.3" cy="491.4" r="5.2"/><circle cx="792.7" cy="493.0" r="5.2"/><circle cx="794.0" cy="492.0" r="5.2"/><circle cx="795.0" cy="492.0" r="5.2"/><circle cx="796.6" cy="493.1" r="5.2"/><circle cx="797.8" cy="490.4" r="5.2"/><circle cx="798.2" cy="486.2" r="5.2"/><circle cx="799.9" cy="486.6" r="5.2"/><circle cx="801.0" cy="486.0" r="5.2"/><circle cx="801.5" cy="488.1" r="5.2"/><circle cx="803.3" cy="457.5" r="5.2"/><circle cx="804.0" cy="456.6" r="5.2"/><circle cx="805.0" cy="470.0" r="5.2"/><circle cx="807.0" cy="450.6" r="5.2"/><circle cx="808.8" cy="447.8" r="5.2"/><circle cx="809.1" cy="449.6" r="5.2"/><circle cx="809.4" cy="485.9" r="5.2"/><circle cx="810.2" cy="486.3" r="5.2"/><circle cx="812.0" cy="462.0" r="5.2"/><circle cx="812.6" cy="480.4" r="5.2"/><circle cx="814.1" cy="481.2" r="5.2"/><circle cx="814.4" cy="479.2" r="5.2"/><circle cx="815.7" cy="480.8" r="5.2"/><circle cx="816.1" cy="498.0" r="5.2"/><circle cx="816.5" cy="467.1" r="5.2"/><circle cx="817.0" cy="477.1" r="5.2"/><circle cx="818.4" cy="504.1" r="5.2"/><circle cx="818.4" cy="465.7" r="5.2"/><circle cx="818.9" cy="467.4" r="5.2"/><circle cx="819.8" cy="501.4" r="5.2"/><circle cx="819.8" cy="472.5" r="5.2"/><circle cx="820.0" cy="474.2" r="5.2"/><circle cx="821.2" cy="440.3" r="5.2"/><circle cx="822.0" cy="499.5" r="5.2"/><circle cx="822.0" cy="464.5" r="5.2"/><circle cx="823.5" cy="493.0" r="5.2"/><circle cx="825.4" cy="457.3" r="5.2"/><circle cx="825.8" cy="494.6" r="5.2"/><circle cx="826.3" cy="398.8" r="5.2"/><circle cx="827.8" cy="458.6" r="5.2"/><circle cx="828.0" cy="494.5" r="5.2"/><circle cx="828.0" cy="456.1" r="5.2"/><circle cx="829.2" cy="448.8" r="5.2"/><circle cx="829.7" cy="394.5" r="5.2"/><circle cx="830.2" cy="447.3" r="5.2"/><circle cx="831.2" cy="458.3" r="5.2"/><circle cx="831.7" cy="448.9" r="5.2"/><circle cx="832.2" cy="449.2" r="5.2"/><circle cx="833.2" cy="446.4" r="5.2"/><circle cx="834.2" cy="455.5" r="5.2"/><circle cx="836.3" cy="461.6" r="5.2"/><circle cx="837.5" cy="466.4" r="5.2"/><circle cx="840.2" cy="475.2" r="5.2"/><circle cx="840.4" cy="479.4" r="5.2"/><circle cx="840.4" cy="468.4" r="5.2"/><circle cx="841.4" cy="479.0" r="5.2"/><circle cx="842.4" cy="448.5" r="5.2"/><circle cx="843.3" cy="447.9" r="5.2"/><circle cx="843.8" cy="509.6" r="5.2"/><circle cx="844.3" cy="351.7" r="5.2"/><circle cx="844.5" cy="502.7" r="5.2"/><circle cx="845.3" cy="502.4" r="5.2"/><circle cx="847.2" cy="531.6" r="5.2"/><circle cx="847.2" cy="471.2" r="5.2"/><circle cx="848.7" cy="510.4" r="5.2"/><circle cx="849.2" cy="470.3" r="5.2"/><circle cx="850.9" cy="508.0" r="5.2"/><circle cx="851.5" cy="540.0" r="5.2"/><circle cx="852.0" cy="534.6" r="5.2"/><circle cx="852.1" cy="511.1" r="5.2"/><circle cx="853.0" cy="509.4" r="5.2"/><circle cx="853.1" cy="381.1" r="5.2"/><circle cx="854.2" cy="512.3" r="5.2"/><circle cx="855.0" cy="495.6" r="5.2"/><circle cx="855.0" cy="479.0" r="5.2"/><circle cx="856.5" cy="495.3" r="5.2"/><circle cx="857.0" cy="377.9" r="5.2"/><circle cx="858.8" cy="478.8" r="5.2"/><circle cx="859.8" cy="489.4" r="5.2"/><circle cx="860.8" cy="483.0" r="5.2"/><circle cx="861.0" cy="465.0" r="5.2"/><circle cx="862.8" cy="458.6" r="5.2"/><circle cx="863.3" cy="477.2" r="5.2"/><circle cx="863.5" cy="460.0" r="5.2"/><circle cx="863.8" cy="489.7" r="5.2"/><circle cx="864.7" cy="474.2" r="5.2"/><circle cx="865.9" cy="474.1" r="5.2"/><circle cx="866.7" cy="463.5" r="5.2"/><circle cx="868.2" cy="443.5" r="5.2"/><circle cx="868.6" cy="443.1" r="5.2"/><circle cx="868.6" cy="408.1" r="5.2"/><circle cx="870.4" cy="435.2" r="5.2"/><circle cx="870.6" cy="435.3" r="5.2"/><circle cx="873.5" cy="421.7" r="5.2"/><circle cx="874.1" cy="422.4" r="5.2"/><circle cx="874.5" cy="454.7" r="5.2"/><circle cx="878.3" cy="437.2" r="5.2"/><circle cx="881.6" cy="432.2" r="5.2"/><circle cx="882.2" cy="431.4" r="5.2"/><circle cx="882.4" cy="438.8" r="5.2"/><circle cx="884.2" cy="451.6" r="5.2"/><circle cx="886.1" cy="454.7" r="5.2"/><circle cx="887.1" cy="453.0" r="5.2"/><circle cx="888.1" cy="437.2" r="5.2"/><circle cx="890.0" cy="425.0" r="5.2"/><circle cx="894.0" cy="430.0" r="5.2"/><circle cx="895.8" cy="445.0" r="5.2"/><circle cx="897.8" cy="433.3" r="5.2"/><circle cx="898.9" cy="426.0" r="5.2"/><circle cx="899.7" cy="420.7" r="5.2"/><circle cx="900.3" cy="419.1" r="5.2"/><circle cx="901.0" cy="445.3" r="5.2"/><circle cx="901.7" cy="444.1" r="5.2"/><circle cx="902.7" cy="398.3" r="5.2"/><circle cx="902.9" cy="421.3" r="5.2"/><circle cx="903.2" cy="424.5" r="5.2"/><circle cx="903.4" cy="397.7" r="5.2"/><circle cx="903.9" cy="404.1" r="5.2"/><circle cx="905.6" cy="425.6" r="5.2"/><circle cx="906.0" cy="425.3" r="5.2"/><circle cx="907.4" cy="405.3" r="5.2"/><circle cx="907.8" cy="424.7" r="5.2"/><circle cx="909.5" cy="404.2" r="5.2"/><circle cx="910.3" cy="404.6" r="5.2"/><circle cx="910.8" cy="412.9" r="5.2"/><circle cx="911.4" cy="412.9" r="5.2"/><circle cx="915.3" cy="441.1" r="5.2"/><circle cx="915.7" cy="423.7" r="5.2"/><circle cx="918.2" cy="417.8" r="5.2"/><circle cx="918.6" cy="417.4" r="5.2"/><circle cx="919.3" cy="448.3" r="5.2"/><circle cx="921.1" cy="406.6" r="5.2"/><circle cx="921.1" cy="407.1" r="5.2"/><circle cx="922.1" cy="448.9" r="5.2"/><circle cx="922.5" cy="448.7" r="5.2"/><circle cx="925.0" cy="435.3" r="5.2"/><circle cx="925.5" cy="435.5" r="5.2"/><circle cx="925.5" cy="419.8" r="5.2"/><circle cx="928.9" cy="421.7" r="5.2"/><circle cx="929.4" cy="426.7" r="5.2"/><circle cx="931.9" cy="414.4" r="5.2"/><circle cx="933.3" cy="412.9" r="5.2"/><circle cx="935.2" cy="410.1" r="5.2"/><circle cx="936.7" cy="435.3" r="5.2"/><circle cx="936.7" cy="411.0" r="5.2"/><circle cx="936.8" cy="404.7" r="5.2"/><circle cx="939.2" cy="414.9" r="5.2"/><circle cx="939.7" cy="435.5" r="5.2"/><circle cx="940.2" cy="409.0" r="5.2"/><circle cx="943.1" cy="424.7" r="5.2"/><circle cx="944.6" cy="392.8" r="5.2"/><circle cx="945.2" cy="392.9" r="5.2"/><circle cx="948.0" cy="414.9" r="5.2"/><circle cx="950.0" cy="409.0" r="5.2"/><circle cx="953.9" cy="397.7" r="5.2"/><circle cx="955.4" cy="381.1" r="5.2"/><circle cx="956.9" cy="427.6" r="5.2"/><circle cx="957.5" cy="410.1" r="5.2"/><circle cx="958.8" cy="406.1" r="5.2"/><circle cx="961.1" cy="405.2" r="5.2"/><circle cx="962.7" cy="423.7" r="5.2"/><circle cx="963.7" cy="416.9" r="5.2"/><circle cx="964.8" cy="425.2" r="5.2"/><circle cx="967.6" cy="409.0" r="5.2"/><circle cx="970.4" cy="399.5" r="5.2"/><circle cx="970.6" cy="390.9" r="5.2"/><circle cx="973.5" cy="395.8" r="5.2"/><circle cx="974.3" cy="398.6" r="5.2"/><circle cx="975.5" cy="421.8" r="5.2"/><circle cx="976.2" cy="425.7" r="5.2"/><circle cx="977.5" cy="401.2" r="5.2"/><circle cx="981.4" cy="417.8" r="5.2"/><circle cx="983.3" cy="405.6" r="5.2"/><circle cx="984.1" cy="405.8" r="5.2"/><circle cx="985.8" cy="390.4" r="5.2"/><circle cx="986.1" cy="387.4" r="5.2"/><circle cx="987.3" cy="411.0" r="5.2"/><circle cx="990.2" cy="380.6" r="5.2"/><circle cx="992.2" cy="416.4" r="5.2"/></g><g clip-path="url(#cR3)" fill="#fff" stroke="#e5553a" stroke-width="1.55"><circle cx="591.7" cy="908.7" r="5.2"/><circle cx="591.8" cy="903.4" r="5.2"/><circle cx="591.9" cy="902.0" r="5.2"/><circle cx="592.0" cy="905.9" r="5.2"/><circle cx="592.2" cy="904.6" r="5.2"/><circle cx="592.3" cy="901.7" r="5.2"/><circle cx="592.4" cy="907.1" r="5.2"/><circle cx="592.5" cy="904.3" r="5.2"/><circle cx="592.6" cy="903.7" r="5.2"/><circle cx="592.7" cy="904.0" r="5.2"/><circle cx="592.8" cy="903.8" r="5.2"/><circle cx="592.9" cy="907.2" r="5.2"/><circle cx="593.0" cy="904.2" r="5.2"/><circle cx="593.1" cy="907.0" r="5.2"/><circle cx="593.2" cy="903.8" r="5.2"/><circle cx="593.3" cy="904.8" r="5.2"/><circle cx="593.4" cy="905.5" r="5.2"/><circle cx="593.6" cy="904.2" r="5.2"/><circle cx="593.7" cy="903.8" r="5.2"/><circle cx="593.8" cy="904.1" r="5.2"/><circle cx="593.9" cy="904.6" r="5.2"/><circle cx="594.0" cy="907.5" r="5.2"/><circle cx="594.1" cy="903.0" r="5.2"/><circle cx="594.2" cy="905.2" r="5.2"/><circle cx="594.3" cy="902.5" r="5.2"/><circle cx="594.4" cy="903.2" r="5.2"/><circle cx="594.5" cy="902.6" r="5.2"/><circle cx="594.7" cy="903.9" r="5.2"/><circle cx="594.8" cy="903.6" r="5.2"/><circle cx="594.9" cy="904.6" r="5.2"/><circle cx="595.0" cy="902.9" r="5.2"/><circle cx="595.1" cy="904.3" r="5.2"/><circle cx="595.2" cy="903.8" r="5.2"/><circle cx="595.3" cy="903.3" r="5.2"/><circle cx="595.4" cy="903.0" r="5.2"/><circle cx="595.5" cy="903.8" r="5.2"/><circle cx="595.7" cy="903.1" r="5.2"/><circle cx="595.8" cy="908.2" r="5.2"/><circle cx="595.9" cy="902.8" r="5.2"/><circle cx="596.0" cy="905.0" r="5.2"/><circle cx="596.1" cy="904.7" r="5.2"/><circle cx="596.2" cy="904.8" r="5.2"/><circle cx="596.3" cy="904.0" r="5.2"/><circle cx="596.5" cy="902.5" r="5.2"/><circle cx="596.6" cy="902.8" r="5.2"/><circle cx="596.7" cy="904.9" r="5.2"/><circle cx="596.8" cy="904.5" r="5.2"/><circle cx="596.9" cy="902.6" r="5.2"/><circle cx="597.0" cy="905.2" r="5.2"/><circle cx="597.1" cy="907.7" r="5.2"/><circle cx="597.3" cy="902.3" r="5.2"/><circle cx="597.4" cy="905.4" r="5.2"/><circle cx="597.5" cy="903.6" r="5.2"/><circle cx="597.6" cy="905.9" r="5.2"/><circle cx="597.7" cy="904.7" r="5.2"/><circle cx="597.8" cy="906.0" r="5.2"/><circle cx="598.0" cy="903.8" r="5.2"/><circle cx="598.1" cy="907.4" r="5.2"/><circle cx="598.2" cy="905.7" r="5.2"/><circle cx="598.3" cy="902.9" r="5.2"/><circle cx="598.4" cy="905.1" r="5.2"/><circle cx="598.5" cy="906.1" r="5.2"/><circle cx="598.7" cy="903.6" r="5.2"/><circle cx="598.8" cy="903.7" r="5.2"/><circle cx="598.9" cy="903.7" r="5.2"/><circle cx="599.0" cy="905.6" r="5.2"/><circle cx="599.1" cy="905.7" r="5.2"/><circle cx="599.3" cy="903.1" r="5.2"/><circle cx="599.4" cy="907.1" r="5.2"/><circle cx="599.5" cy="903.5" r="5.2"/><circle cx="599.6" cy="908.2" r="5.2"/><circle cx="599.7" cy="904.7" r="5.2"/><circle cx="599.9" cy="902.9" r="5.2"/><circle cx="600.0" cy="903.2" r="5.2"/><circle cx="600.1" cy="903.8" r="5.2"/><circle cx="600.2" cy="905.4" r="5.2"/><circle cx="600.3" cy="904.1" r="5.2"/><circle cx="600.5" cy="907.5" r="5.2"/><circle cx="600.6" cy="903.4" r="5.2"/><circle cx="600.7" cy="904.2" r="5.2"/><circle cx="600.8" cy="903.4" r="5.2"/><circle cx="601.0" cy="902.3" r="5.2"/><circle cx="601.1" cy="905.0" r="5.2"/><circle cx="601.2" cy="902.5" r="5.2"/><circle cx="601.3" cy="905.9" r="5.2"/><circle cx="601.4" cy="902.3" r="5.2"/><circle cx="601.6" cy="902.7" r="5.2"/><circle cx="601.7" cy="904.7" r="5.2"/><circle cx="601.8" cy="908.8" r="5.2"/><circle cx="601.9" cy="905.6" r="5.2"/><circle cx="602.1" cy="902.7" r="5.2"/><circle cx="602.2" cy="906.9" r="5.2"/><circle cx="602.3" cy="908.4" r="5.2"/><circle cx="602.4" cy="904.0" r="5.2"/><circle cx="602.6" cy="903.9" r="5.2"/><circle cx="602.7" cy="901.8" r="5.2"/><circle cx="602.8" cy="904.2" r="5.2"/><circle cx="603.0" cy="903.3" r="5.2"/><circle cx="603.1" cy="902.6" r="5.2"/><circle cx="603.2" cy="903.6" r="5.2"/><circle cx="603.3" cy="902.9" r="5.2"/><circle cx="603.5" cy="904.9" r="5.2"/><circle cx="603.6" cy="905.1" r="5.2"/><circle cx="603.7" cy="903.6" r="5.2"/><circle cx="603.8" cy="903.1" r="5.2"/><circle cx="604.0" cy="906.2" r="5.2"/><circle cx="604.1" cy="902.2" r="5.2"/><circle cx="604.2" cy="902.7" r="5.2"/><circle cx="604.4" cy="902.5" r="5.2"/><circle cx="604.5" cy="904.6" r="5.2"/><circle cx="604.6" cy="910.4" r="5.2"/><circle cx="604.8" cy="902.7" r="5.2"/><circle cx="604.9" cy="903.8" r="5.2"/><circle cx="605.0" cy="903.4" r="5.2"/><circle cx="605.1" cy="905.9" r="5.2"/><circle cx="605.3" cy="905.8" r="5.2"/><circle cx="605.4" cy="904.6" r="5.2"/><circle cx="605.5" cy="903.7" r="5.2"/><circle cx="605.7" cy="903.9" r="5.2"/><circle cx="605.8" cy="905.3" r="5.2"/><circle cx="605.9" cy="903.1" r="5.2"/><circle cx="606.1" cy="902.1" r="5.2"/><circle cx="606.2" cy="905.0" r="5.2"/><circle cx="606.3" cy="907.7" r="5.2"/><circle cx="606.5" cy="903.6" r="5.2"/><circle cx="606.6" cy="902.1" r="5.2"/><circle cx="606.7" cy="908.4" r="5.2"/><circle cx="606.9" cy="903.0" r="5.2"/><circle cx="607.0" cy="902.0" r="5.2"/><circle cx="607.1" cy="902.6" r="5.2"/><circle cx="607.3" cy="903.2" r="5.2"/><circle cx="607.4" cy="904.0" r="5.2"/><circle cx="607.5" cy="904.1" r="5.2"/><circle cx="607.7" cy="901.9" r="5.2"/><circle cx="607.8" cy="907.6" r="5.2"/><circle cx="608.0" cy="906.8" r="5.2"/><circle cx="608.1" cy="903.9" r="5.2"/><circle cx="608.2" cy="901.6" r="5.2"/><circle cx="608.4" cy="901.5" r="5.2"/><circle cx="608.5" cy="905.2" r="5.2"/><circle cx="608.6" cy="903.0" r="5.2"/><circle cx="608.8" cy="902.0" r="5.2"/><circle cx="608.9" cy="902.7" r="5.2"/><circle cx="609.1" cy="902.8" r="5.2"/><circle cx="609.2" cy="902.0" r="5.2"/><circle cx="609.3" cy="901.7" r="5.2"/><circle cx="609.5" cy="903.1" r="5.2"/><circle cx="609.6" cy="902.5" r="5.2"/><circle cx="609.8" cy="901.5" r="5.2"/><circle cx="609.9" cy="903.9" r="5.2"/><circle cx="610.0" cy="902.3" r="5.2"/><circle cx="610.2" cy="903.9" r="5.2"/><circle cx="610.3" cy="903.0" r="5.2"/><circle cx="610.5" cy="905.2" r="5.2"/><circle cx="610.6" cy="903.1" r="5.2"/><circle cx="610.8" cy="902.6" r="5.2"/><circle cx="610.9" cy="902.5" r="5.2"/><circle cx="611.0" cy="906.8" r="5.2"/><circle cx="611.2" cy="903.2" r="5.2"/><circle cx="611.3" cy="904.6" r="5.2"/><circle cx="611.5" cy="902.8" r="5.2"/><circle cx="611.6" cy="902.9" r="5.2"/><circle cx="611.8" cy="901.7" r="5.2"/><circle cx="611.9" cy="905.8" r="5.2"/><circle cx="612.0" cy="902.2" r="5.2"/><circle cx="612.2" cy="905.5" r="5.2"/><circle cx="612.3" cy="904.0" r="5.2"/><circle cx="612.5" cy="906.1" r="5.2"/><circle cx="612.6" cy="904.8" r="5.2"/><circle cx="612.8" cy="902.7" r="5.2"/><circle cx="612.9" cy="905.8" r="5.2"/><circle cx="613.1" cy="904.1" r="5.2"/><circle cx="613.2" cy="907.1" r="5.2"/><circle cx="613.4" cy="904.0" r="5.2"/><circle cx="613.5" cy="902.3" r="5.2"/><circle cx="613.7" cy="904.4" r="5.2"/><circle cx="613.8" cy="904.7" r="5.2"/><circle cx="614.0" cy="902.8" r="5.2"/><circle cx="614.1" cy="903.4" r="5.2"/><circle cx="614.3" cy="907.5" r="5.2"/><circle cx="614.4" cy="903.3" r="5.2"/><circle cx="614.6" cy="902.2" r="5.2"/><circle cx="614.7" cy="906.2" r="5.2"/><circle cx="614.9" cy="905.9" r="5.2"/><circle cx="615.0" cy="903.4" r="5.2"/><circle cx="615.2" cy="903.1" r="5.2"/><circle cx="615.3" cy="903.8" r="5.2"/><circle cx="615.5" cy="903.9" r="5.2"/><circle cx="615.6" cy="907.9" r="5.2"/><circle cx="615.8" cy="905.7" r="5.2"/><circle cx="615.9" cy="904.6" r="5.2"/><circle cx="616.1" cy="901.6" r="5.2"/><circle cx="616.2" cy="905.5" r="5.2"/><circle cx="616.4" cy="902.9" r="5.2"/><circle cx="616.6" cy="901.6" r="5.2"/><circle cx="616.7" cy="902.1" r="5.2"/><circle cx="616.9" cy="905.9" r="5.2"/><circle cx="617.0" cy="901.3" r="5.2"/><circle cx="617.2" cy="902.7" r="5.2"/><circle cx="617.3" cy="904.6" r="5.2"/><circle cx="617.5" cy="903.5" r="5.2"/><circle cx="617.7" cy="903.5" r="5.2"/><circle cx="617.8" cy="901.9" r="5.2"/><circle cx="618.0" cy="902.6" r="5.2"/><circle cx="618.1" cy="902.3" r="5.2"/><circle cx="618.3" cy="903.3" r="5.2"/><circle cx="618.4" cy="903.9" r="5.2"/><circle cx="618.6" cy="905.5" r="5.2"/><circle cx="618.8" cy="901.4" r="5.2"/><circle cx="618.9" cy="906.4" r="5.2"/><circle cx="619.1" cy="902.5" r="5.2"/><circle cx="619.2" cy="901.8" r="5.2"/><circle cx="619.4" cy="901.3" r="5.2"/><circle cx="619.6" cy="905.2" r="5.2"/><circle cx="619.7" cy="903.4" r="5.2"/><circle cx="619.9" cy="902.4" r="5.2"/><circle cx="620.1" cy="905.2" r="5.2"/><circle cx="620.2" cy="903.4" r="5.2"/><circle cx="620.4" cy="902.1" r="5.2"/><circle cx="620.5" cy="900.9" r="5.2"/><circle cx="620.7" cy="905.1" r="5.2"/><circle cx="620.9" cy="902.1" r="5.2"/><circle cx="621.0" cy="905.0" r="5.2"/><circle cx="621.2" cy="905.9" r="5.2"/><circle cx="621.4" cy="903.4" r="5.2"/><circle cx="621.5" cy="907.1" r="5.2"/><circle cx="621.7" cy="902.7" r="5.2"/><circle cx="621.9" cy="903.1" r="5.2"/><circle cx="622.0" cy="902.0" r="5.2"/><circle cx="622.2" cy="901.5" r="5.2"/><circle cx="622.4" cy="901.5" r="5.2"/><circle cx="622.5" cy="905.3" r="5.2"/><circle cx="622.7" cy="903.1" r="5.2"/><circle cx="622.9" cy="904.1" r="5.2"/><circle cx="623.0" cy="901.1" r="5.2"/><circle cx="623.2" cy="906.8" r="5.2"/><circle cx="623.4" cy="902.4" r="5.2"/><circle cx="623.6" cy="902.8" r="5.2"/><circle cx="623.7" cy="901.4" r="5.2"/><circle cx="623.9" cy="901.3" r="5.2"/><circle cx="624.1" cy="900.2" r="5.2"/><circle cx="624.2" cy="902.3" r="5.2"/><circle cx="624.4" cy="903.7" r="5.2"/><circle cx="624.6" cy="902.2" r="5.2"/><circle cx="624.8" cy="903.0" r="5.2"/><circle cx="624.9" cy="903.4" r="5.2"/><circle cx="625.1" cy="901.4" r="5.2"/><circle cx="625.3" cy="901.4" r="5.2"/><circle cx="625.5" cy="901.5" r="5.2"/><circle cx="625.6" cy="902.5" r="5.2"/><circle cx="625.8" cy="907.6" r="5.2"/><circle cx="626.0" cy="901.4" r="5.2"/><circle cx="626.2" cy="905.6" r="5.2"/><circle cx="626.3" cy="903.8" r="5.2"/><circle cx="626.5" cy="906.5" r="5.2"/><circle cx="626.7" cy="901.4" r="5.2"/><circle cx="626.9" cy="904.3" r="5.2"/><circle cx="627.1" cy="902.9" r="5.2"/><circle cx="627.2" cy="903.5" r="5.2"/><circle cx="627.4" cy="901.2" r="5.2"/><circle cx="627.6" cy="903.3" r="5.2"/><circle cx="627.8" cy="902.6" r="5.2"/><circle cx="628.0" cy="900.9" r="5.2"/><circle cx="628.1" cy="901.3" r="5.2"/><circle cx="628.3" cy="905.7" r="5.2"/><circle cx="628.5" cy="901.3" r="5.2"/><circle cx="628.7" cy="903.0" r="5.2"/><circle cx="628.9" cy="903.2" r="5.2"/><circle cx="629.1" cy="904.3" r="5.2"/><circle cx="629.2" cy="901.6" r="5.2"/><circle cx="629.4" cy="904.8" r="5.2"/><circle cx="629.6" cy="904.4" r="5.2"/><circle cx="629.8" cy="903.7" r="5.2"/><circle cx="630.0" cy="900.5" r="5.2"/><circle cx="630.2" cy="903.5" r="5.2"/><circle cx="630.3" cy="904.5" r="5.2"/><circle cx="630.5" cy="900.1" r="5.2"/><circle cx="630.7" cy="904.5" r="5.2"/><circle cx="630.9" cy="905.3" r="5.2"/><circle cx="631.1" cy="901.2" r="5.2"/><circle cx="631.3" cy="901.0" r="5.2"/><circle cx="631.5" cy="900.6" r="5.2"/><circle cx="631.7" cy="902.2" r="5.2"/><circle cx="631.9" cy="900.2" r="5.2"/><circle cx="632.0" cy="901.2" r="5.2"/><circle cx="632.2" cy="902.4" r="5.2"/><circle cx="632.4" cy="904.4" r="5.2"/><circle cx="632.6" cy="900.1" r="5.2"/><circle cx="632.8" cy="902.3" r="5.2"/><circle cx="633.0" cy="903.6" r="5.2"/><circle cx="633.2" cy="904.3" r="5.2"/><circle cx="633.4" cy="900.1" r="5.2"/><circle cx="633.6" cy="902.0" r="5.2"/><circle cx="633.8" cy="903.8" r="5.2"/><circle cx="634.0" cy="899.6" r="5.2"/><circle cx="634.2" cy="904.3" r="5.2"/><circle cx="634.4" cy="902.4" r="5.2"/><circle cx="634.6" cy="903.1" r="5.2"/><circle cx="634.8" cy="900.1" r="5.2"/><circle cx="635.0" cy="900.6" r="5.2"/><circle cx="635.2" cy="900.8" r="5.2"/><circle cx="635.4" cy="899.9" r="5.2"/><circle cx="635.6" cy="900.1" r="5.2"/><circle cx="635.8" cy="905.1" r="5.2"/><circle cx="636.0" cy="901.7" r="5.2"/><circle cx="636.2" cy="901.5" r="5.2"/><circle cx="636.4" cy="904.0" r="5.2"/><circle cx="636.6" cy="900.9" r="5.2"/><circle cx="636.8" cy="901.2" r="5.2"/><circle cx="637.0" cy="904.1" r="5.2"/><circle cx="637.2" cy="900.0" r="5.2"/><circle cx="637.4" cy="903.3" r="5.2"/><circle cx="637.6" cy="899.2" r="5.2"/><circle cx="637.8" cy="902.0" r="5.2"/><circle cx="638.0" cy="903.0" r="5.2"/><circle cx="638.2" cy="901.7" r="5.2"/><circle cx="638.4" cy="900.0" r="5.2"/><circle cx="638.6" cy="898.9" r="5.2"/><circle cx="638.8" cy="903.0" r="5.2"/><circle cx="639.0" cy="900.0" r="5.2"/><circle cx="639.2" cy="900.2" r="5.2"/><circle cx="639.4" cy="902.4" r="5.2"/><circle cx="639.7" cy="900.2" r="5.2"/><circle cx="639.9" cy="899.6" r="5.2"/><circle cx="640.1" cy="909.6" r="5.2"/><circle cx="640.3" cy="902.0" r="5.2"/><circle cx="640.5" cy="899.6" r="5.2"/><circle cx="640.7" cy="901.1" r="5.2"/><circle cx="640.9" cy="899.7" r="5.2"/><circle cx="641.1" cy="899.3" r="5.2"/><circle cx="641.4" cy="900.2" r="5.2"/><circle cx="641.6" cy="902.5" r="5.2"/><circle cx="641.8" cy="898.7" r="5.2"/><circle cx="642.0" cy="899.1" r="5.2"/><circle cx="642.2" cy="899.9" r="5.2"/><circle cx="642.4" cy="903.1" r="5.2"/><circle cx="642.6" cy="899.8" r="5.2"/><circle cx="642.9" cy="902.2" r="5.2"/><circle cx="643.1" cy="900.3" r="5.2"/><circle cx="643.3" cy="902.3" r="5.2"/><circle cx="643.5" cy="900.8" r="5.2"/><circle cx="643.7" cy="899.9" r="5.2"/><circle cx="644.0" cy="900.4" r="5.2"/><circle cx="644.2" cy="901.4" r="5.2"/><circle cx="644.4" cy="898.6" r="5.2"/><circle cx="644.6" cy="900.9" r="5.2"/><circle cx="644.9" cy="901.2" r="5.2"/><circle cx="645.1" cy="906.7" r="5.2"/><circle cx="645.3" cy="900.7" r="5.2"/><circle cx="645.5" cy="900.3" r="5.2"/><circle cx="645.7" cy="899.6" r="5.2"/><circle cx="646.0" cy="902.1" r="5.2"/><circle cx="646.2" cy="902.4" r="5.2"/><circle cx="646.4" cy="902.4" r="5.2"/><circle cx="646.7" cy="900.4" r="5.2"/><circle cx="646.9" cy="900.3" r="5.2"/><circle cx="647.1" cy="897.9" r="5.2"/><circle cx="647.3" cy="897.8" r="5.2"/><circle cx="647.6" cy="897.2" r="5.2"/><circle cx="647.8" cy="900.2" r="5.2"/><circle cx="648.0" cy="900.9" r="5.2"/><circle cx="648.3" cy="904.0" r="5.2"/><circle cx="648.5" cy="901.2" r="5.2"/><circle cx="648.7" cy="898.6" r="5.2"/><circle cx="649.0" cy="901.5" r="5.2"/><circle cx="649.2" cy="897.8" r="5.2"/><circle cx="649.4" cy="900.8" r="5.2"/><circle cx="649.7" cy="899.6" r="5.2"/><circle cx="649.9" cy="900.6" r="5.2"/><circle cx="650.1" cy="900.7" r="5.2"/><circle cx="650.4" cy="898.0" r="5.2"/><circle cx="650.6" cy="897.7" r="5.2"/><circle cx="650.9" cy="899.2" r="5.2"/><circle cx="651.1" cy="898.6" r="5.2"/><circle cx="651.3" cy="899.7" r="5.2"/><circle cx="651.6" cy="900.0" r="5.2"/><circle cx="651.8" cy="900.2" r="5.2"/><circle cx="652.1" cy="900.2" r="5.2"/><circle cx="652.3" cy="900.3" r="5.2"/><circle cx="652.6" cy="898.1" r="5.2"/><circle cx="652.8" cy="898.6" r="5.2"/><circle cx="653.0" cy="898.3" r="5.2"/><circle cx="653.3" cy="898.9" r="5.2"/><circle cx="653.5" cy="898.7" r="5.2"/><circle cx="653.8" cy="900.4" r="5.2"/><circle cx="654.0" cy="899.3" r="5.2"/><circle cx="654.3" cy="898.8" r="5.2"/><circle cx="654.5" cy="899.2" r="5.2"/><circle cx="654.8" cy="896.6" r="5.2"/><circle cx="655.0" cy="897.4" r="5.2"/><circle cx="655.3" cy="896.1" r="5.2"/><circle cx="655.5" cy="896.5" r="5.2"/><circle cx="655.8" cy="895.3" r="5.2"/><circle cx="656.0" cy="897.9" r="5.2"/><circle cx="656.3" cy="895.8" r="5.2"/><circle cx="656.5" cy="897.9" r="5.2"/><circle cx="656.8" cy="897.7" r="5.2"/><circle cx="657.1" cy="899.0" r="5.2"/><circle cx="657.3" cy="898.0" r="5.2"/><circle cx="657.6" cy="897.7" r="5.2"/><circle cx="657.8" cy="896.9" r="5.2"/><circle cx="658.1" cy="899.2" r="5.2"/><circle cx="658.3" cy="900.3" r="5.2"/><circle cx="658.6" cy="897.3" r="5.2"/><circle cx="658.9" cy="898.4" r="5.2"/><circle cx="659.1" cy="896.3" r="5.2"/><circle cx="659.4" cy="895.7" r="5.2"/><circle cx="659.7" cy="896.3" r="5.2"/><circle cx="659.9" cy="896.4" r="5.2"/><circle cx="660.2" cy="897.1" r="5.2"/><circle cx="660.5" cy="899.1" r="5.2"/><circle cx="660.7" cy="897.4" r="5.2"/><circle cx="661.0" cy="896.3" r="5.2"/><circle cx="661.3" cy="896.8" r="5.2"/><circle cx="661.5" cy="897.7" r="5.2"/><circle cx="661.8" cy="895.9" r="5.2"/><circle cx="662.1" cy="897.6" r="5.2"/><circle cx="662.3" cy="895.7" r="5.2"/><circle cx="662.6" cy="895.9" r="5.2"/><circle cx="662.9" cy="898.3" r="5.2"/><circle cx="663.2" cy="899.8" r="5.2"/><circle cx="663.4" cy="897.0" r="5.2"/><circle cx="663.7" cy="895.6" r="5.2"/><circle cx="664.0" cy="899.3" r="5.2"/><circle cx="664.3" cy="898.3" r="5.2"/><circle cx="664.5" cy="896.7" r="5.2"/><circle cx="664.8" cy="896.0" r="5.2"/><circle cx="665.1" cy="899.4" r="5.2"/><circle cx="665.4" cy="896.7" r="5.2"/><circle cx="665.7" cy="895.6" r="5.2"/><circle cx="665.9" cy="895.9" r="5.2"/><circle cx="666.2" cy="894.3" r="5.2"/><circle cx="666.5" cy="896.0" r="5.2"/><circle cx="666.8" cy="894.8" r="5.2"/><circle cx="667.1" cy="897.3" r="5.2"/><circle cx="667.4" cy="895.4" r="5.2"/><circle cx="667.6" cy="896.6" r="5.2"/><circle cx="667.9" cy="896.0" r="5.2"/><circle cx="668.2" cy="895.8" r="5.2"/><circle cx="668.5" cy="894.4" r="5.2"/><circle cx="668.8" cy="895.9" r="5.2"/><circle cx="669.1" cy="895.0" r="5.2"/><circle cx="669.4" cy="894.7" r="5.2"/><circle cx="669.7" cy="894.6" r="5.2"/><circle cx="670.0" cy="895.3" r="5.2"/><circle cx="670.3" cy="897.7" r="5.2"/><circle cx="670.6" cy="894.9" r="5.2"/><circle cx="670.9" cy="895.6" r="5.2"/><circle cx="671.2" cy="894.9" r="5.2"/><circle cx="671.5" cy="895.4" r="5.2"/><circle cx="671.8" cy="895.2" r="5.2"/><circle cx="672.1" cy="895.1" r="5.2"/><circle cx="672.4" cy="895.3" r="5.2"/><circle cx="672.7" cy="894.4" r="5.2"/><circle cx="673.0" cy="894.6" r="5.2"/><circle cx="673.3" cy="893.3" r="5.2"/><circle cx="673.6" cy="894.6" r="5.2"/><circle cx="673.9" cy="893.7" r="5.2"/><circle cx="674.2" cy="895.0" r="5.2"/><circle cx="674.5" cy="894.5" r="5.2"/><circle cx="674.8" cy="893.1" r="5.2"/><circle cx="675.1" cy="894.4" r="5.2"/><circle cx="675.4" cy="893.8" r="5.2"/><circle cx="675.7" cy="895.6" r="5.2"/><circle cx="676.0" cy="892.7" r="5.2"/><circle cx="676.4" cy="894.0" r="5.2"/><circle cx="676.7" cy="894.7" r="5.2"/><circle cx="677.0" cy="892.1" r="5.2"/><circle cx="677.3" cy="891.5" r="5.2"/><circle cx="677.6" cy="891.2" r="5.2"/><circle cx="677.9" cy="893.1" r="5.2"/><circle cx="678.3" cy="892.5" r="5.2"/><circle cx="678.6" cy="891.1" r="5.2"/><circle cx="678.9" cy="891.8" r="5.2"/><circle cx="679.2" cy="892.0" r="5.2"/><circle cx="679.5" cy="891.6" r="5.2"/><circle cx="679.9" cy="891.9" r="5.2"/><circle cx="680.2" cy="893.4" r="5.2"/><circle cx="680.5" cy="891.0" r="5.2"/><circle cx="680.8" cy="891.5" r="5.2"/><circle cx="681.2" cy="890.9" r="5.2"/><circle cx="681.5" cy="890.8" r="5.2"/><circle cx="681.8" cy="890.4" r="5.2"/><circle cx="682.2" cy="890.8" r="5.2"/><circle cx="682.5" cy="890.4" r="5.2"/><circle cx="682.8" cy="891.0" r="5.2"/><circle cx="683.2" cy="890.8" r="5.2"/><circle cx="683.5" cy="889.8" r="5.2"/><circle cx="683.8" cy="891.9" r="5.2"/><circle cx="684.2" cy="889.4" r="5.2"/><circle cx="684.5" cy="890.5" r="5.2"/><circle cx="684.9" cy="891.8" r="5.2"/><circle cx="685.2" cy="889.4" r="5.2"/><circle cx="685.5" cy="891.0" r="5.2"/><circle cx="685.9" cy="890.9" r="5.2"/><circle cx="686.2" cy="890.0" r="5.2"/><circle cx="686.6" cy="888.1" r="5.2"/><circle cx="686.9" cy="890.6" r="5.2"/><circle cx="687.3" cy="889.4" r="5.2"/><circle cx="687.6" cy="888.8" r="5.2"/><circle cx="688.0" cy="890.2" r="5.2"/><circle cx="688.3" cy="888.4" r="5.2"/><circle cx="688.7" cy="889.8" r="5.2"/><circle cx="689.0" cy="888.3" r="5.2"/><circle cx="689.4" cy="889.2" r="5.2"/><circle cx="689.7" cy="887.7" r="5.2"/><circle cx="690.1" cy="888.1" r="5.2"/><circle cx="690.5" cy="887.5" r="5.2"/><circle cx="690.8" cy="887.5" r="5.2"/><circle cx="691.2" cy="888.1" r="5.2"/><circle cx="691.5" cy="887.6" r="5.2"/><circle cx="691.9" cy="887.7" r="5.2"/><circle cx="692.3" cy="888.5" r="5.2"/><circle cx="692.6" cy="887.0" r="5.2"/><circle cx="693.0" cy="885.3" r="5.2"/><circle cx="693.4" cy="886.5" r="5.2"/><circle cx="693.7" cy="886.6" r="5.2"/><circle cx="694.1" cy="887.3" r="5.2"/><circle cx="694.5" cy="887.2" r="5.2"/><circle cx="694.9" cy="886.9" r="5.2"/><circle cx="695.2" cy="885.6" r="5.2"/><circle cx="695.6" cy="886.2" r="5.2"/><circle cx="696.0" cy="884.0" r="5.2"/><circle cx="696.4" cy="886.5" r="5.2"/><circle cx="696.7" cy="885.4" r="5.2"/><circle cx="697.1" cy="885.3" r="5.2"/><circle cx="697.5" cy="884.3" r="5.2"/><circle cx="697.9" cy="884.5" r="5.2"/><circle cx="698.3" cy="883.6" r="5.2"/><circle cx="698.7" cy="884.6" r="5.2"/><circle cx="699.0" cy="882.5" r="5.2"/><circle cx="699.4" cy="884.6" r="5.2"/><circle cx="699.8" cy="884.0" r="5.2"/><circle cx="700.2" cy="885.3" r="5.2"/><circle cx="700.6" cy="883.0" r="5.2"/><circle cx="701.0" cy="882.7" r="5.2"/><circle cx="701.4" cy="882.8" r="5.2"/><circle cx="701.8" cy="882.4" r="5.2"/><circle cx="702.2" cy="882.1" r="5.2"/><circle cx="702.6" cy="880.8" r="5.2"/><circle cx="703.0" cy="880.6" r="5.2"/><circle cx="703.4" cy="881.0" r="5.2"/><circle cx="703.8" cy="881.0" r="5.2"/><circle cx="704.2" cy="879.8" r="5.2"/><circle cx="704.6" cy="879.6" r="5.2"/><circle cx="705.0" cy="880.4" r="5.2"/><circle cx="705.4" cy="881.4" r="5.2"/><circle cx="705.9" cy="880.0" r="5.2"/><circle cx="706.3" cy="880.7" r="5.2"/><circle cx="706.7" cy="880.8" r="5.2"/><circle cx="707.1" cy="880.2" r="5.2"/><circle cx="707.5" cy="878.5" r="5.2"/><circle cx="707.9" cy="878.2" r="5.2"/><circle cx="708.4" cy="876.1" r="5.2"/><circle cx="708.8" cy="877.2" r="5.2"/><circle cx="709.2" cy="878.3" r="5.2"/><circle cx="709.6" cy="876.1" r="5.2"/><circle cx="710.0" cy="878.9" r="5.2"/><circle cx="710.5" cy="878.7" r="5.2"/><circle cx="710.9" cy="876.0" r="5.2"/><circle cx="711.3" cy="877.4" r="5.2"/><circle cx="711.8" cy="874.0" r="5.2"/><circle cx="712.2" cy="874.1" r="5.2"/><circle cx="712.6" cy="874.7" r="5.2"/><circle cx="713.1" cy="874.9" r="5.2"/><circle cx="713.5" cy="874.3" r="5.2"/><circle cx="714.0" cy="873.0" r="5.2"/><circle cx="714.4" cy="876.6" r="5.2"/><circle cx="714.8" cy="874.0" r="5.2"/><circle cx="715.3" cy="873.6" r="5.2"/><circle cx="715.7" cy="873.9" r="5.2"/><circle cx="716.2" cy="872.8" r="5.2"/><circle cx="716.6" cy="871.9" r="5.2"/><circle cx="717.1" cy="871.1" r="5.2"/><circle cx="717.5" cy="869.2" r="5.2"/><circle cx="718.0" cy="873.4" r="5.2"/><circle cx="718.5" cy="869.5" r="5.2"/><circle cx="718.9" cy="868.0" r="5.2"/><circle cx="719.4" cy="869.0" r="5.2"/><circle cx="719.8" cy="867.4" r="5.2"/><circle cx="720.3" cy="872.6" r="5.2"/><circle cx="720.8" cy="869.7" r="5.2"/><circle cx="721.2" cy="871.0" r="5.2"/><circle cx="721.7" cy="870.6" r="5.2"/><circle cx="722.2" cy="868.8" r="5.2"/><circle cx="722.7" cy="868.3" r="5.2"/><circle cx="723.1" cy="865.8" r="5.2"/><circle cx="723.6" cy="866.3" r="5.2"/><circle cx="724.1" cy="865.0" r="5.2"/><circle cx="724.6" cy="865.6" r="5.2"/><circle cx="725.1" cy="863.9" r="5.2"/><circle cx="725.5" cy="866.7" r="5.2"/><circle cx="726.0" cy="865.4" r="5.2"/><circle cx="726.5" cy="863.5" r="5.2"/><circle cx="727.0" cy="860.3" r="5.2"/><circle cx="727.5" cy="863.9" r="5.2"/><circle cx="728.0" cy="863.8" r="5.2"/><circle cx="728.5" cy="861.6" r="5.2"/><circle cx="729.0" cy="859.0" r="5.2"/><circle cx="729.5" cy="861.5" r="5.2"/><circle cx="730.0" cy="862.2" r="5.2"/><circle cx="730.5" cy="856.4" r="5.2"/><circle cx="731.0" cy="860.3" r="5.2"/><circle cx="731.5" cy="855.5" r="5.2"/><circle cx="732.0" cy="858.5" r="5.2"/><circle cx="732.5" cy="861.1" r="5.2"/><circle cx="733.0" cy="857.5" r="5.2"/><circle cx="733.6" cy="857.7" r="5.2"/><circle cx="734.1" cy="855.7" r="5.2"/><circle cx="734.6" cy="855.8" r="5.2"/><circle cx="735.1" cy="859.8" r="5.2"/><circle cx="735.7" cy="857.4" r="5.2"/><circle cx="736.2" cy="853.7" r="5.2"/><circle cx="736.7" cy="853.0" r="5.2"/><circle cx="737.2" cy="853.3" r="5.2"/><circle cx="737.8" cy="856.9" r="5.2"/><circle cx="738.3" cy="852.4" r="5.2"/><circle cx="738.8" cy="853.5" r="5.2"/><circle cx="739.4" cy="849.9" r="5.2"/><circle cx="739.9" cy="847.4" r="5.2"/><circle cx="740.5" cy="852.1" r="5.2"/><circle cx="741.0" cy="848.6" r="5.2"/><circle cx="741.6" cy="846.4" r="5.2"/><circle cx="742.1" cy="845.9" r="5.2"/><circle cx="742.7" cy="845.3" r="5.2"/><circle cx="743.2" cy="844.8" r="5.2"/><circle cx="743.8" cy="842.1" r="5.2"/><circle cx="744.3" cy="847.3" r="5.2"/><circle cx="744.9" cy="844.9" r="5.2"/><circle cx="745.5" cy="845.5" r="5.2"/><circle cx="746.0" cy="842.0" r="5.2"/><circle cx="746.6" cy="842.8" r="5.2"/><circle cx="747.2" cy="841.7" r="5.2"/><circle cx="747.8" cy="843.3" r="5.2"/><circle cx="748.3" cy="841.8" r="5.2"/><circle cx="748.9" cy="840.1" r="5.2"/><circle cx="749.5" cy="837.1" r="5.2"/><circle cx="750.1" cy="835.1" r="5.2"/><circle cx="750.7" cy="835.3" r="5.2"/><circle cx="751.3" cy="835.0" r="5.2"/><circle cx="751.8" cy="834.5" r="5.2"/><circle cx="752.4" cy="832.1" r="5.2"/><circle cx="753.0" cy="838.4" r="5.2"/><circle cx="753.6" cy="834.3" r="5.2"/><circle cx="754.2" cy="828.0" r="5.2"/><circle cx="754.8" cy="829.5" r="5.2"/><circle cx="755.4" cy="828.1" r="5.2"/><circle cx="756.1" cy="831.3" r="5.2"/><circle cx="756.7" cy="832.7" r="5.2"/><circle cx="757.3" cy="826.8" r="5.2"/><circle cx="757.9" cy="830.1" r="5.2"/><circle cx="758.5" cy="827.1" r="5.2"/><circle cx="759.1" cy="830.0" r="5.2"/><circle cx="759.8" cy="829.8" r="5.2"/><circle cx="760.4" cy="826.3" r="5.2"/><circle cx="761.0" cy="826.7" r="5.2"/><circle cx="761.7" cy="824.0" r="5.2"/><circle cx="762.3" cy="822.2" r="5.2"/><circle cx="762.9" cy="819.3" r="5.2"/><circle cx="763.6" cy="822.6" r="5.2"/><circle cx="764.2" cy="820.7" r="5.2"/><circle cx="764.9" cy="819.1" r="5.2"/><circle cx="765.5" cy="819.0" r="5.2"/><circle cx="766.2" cy="817.8" r="5.2"/><circle cx="766.8" cy="814.5" r="5.2"/><circle cx="767.5" cy="815.0" r="5.2"/><circle cx="768.2" cy="818.8" r="5.2"/><circle cx="768.8" cy="814.0" r="5.2"/><circle cx="769.5" cy="817.7" r="5.2"/><circle cx="770.2" cy="809.4" r="5.2"/><circle cx="770.9" cy="807.8" r="5.2"/><circle cx="771.5" cy="811.2" r="5.2"/><circle cx="772.2" cy="812.2" r="5.2"/><circle cx="772.9" cy="807.0" r="5.2"/><circle cx="773.6" cy="809.9" r="5.2"/><circle cx="774.3" cy="809.8" r="5.2"/><circle cx="775.0" cy="809.3" r="5.2"/><circle cx="775.7" cy="804.7" r="5.2"/><circle cx="776.4" cy="803.9" r="5.2"/><circle cx="777.1" cy="797.7" r="5.2"/><circle cx="777.8" cy="802.2" r="5.2"/><circle cx="778.5" cy="802.1" r="5.2"/><circle cx="779.2" cy="805.0" r="5.2"/><circle cx="779.9" cy="794.6" r="5.2"/><circle cx="780.6" cy="794.9" r="5.2"/><circle cx="781.4" cy="793.2" r="5.2"/><circle cx="782.8" cy="783.6" r="5.2"/><circle cx="782.9" cy="783.2" r="5.2"/><circle cx="785.0" cy="785.0" r="5.2"/><circle cx="787.3" cy="795.6" r="5.2"/><circle cx="788.1" cy="775.4" r="5.2"/><circle cx="788.8" cy="778.8" r="5.2"/><circle cx="790.3" cy="792.0" r="5.2"/><circle cx="792.7" cy="793.1" r="5.2"/><circle cx="796.2" cy="784.7" r="5.2"/><circle cx="796.9" cy="767.1" r="5.2"/><circle cx="799.0" cy="783.3" r="5.2"/><circle cx="799.9" cy="770.3" r="5.2"/><circle cx="802.3" cy="772.0" r="5.2"/><circle cx="803.5" cy="777.4" r="5.2"/><circle cx="805.7" cy="756.0" r="5.2"/><circle cx="809.1" cy="765.6" r="5.2"/><circle cx="810.0" cy="751.3" r="5.2"/><circle cx="810.0" cy="762.0" r="5.2"/><circle cx="810.8" cy="749.9" r="5.2"/><circle cx="811.7" cy="749.4" r="5.2"/><circle cx="812.4" cy="749.4" r="5.2"/><circle cx="812.6" cy="748.8" r="5.2"/><circle cx="814.4" cy="747.4" r="5.2"/><circle cx="815.0" cy="753.0" r="5.2"/><circle cx="817.0" cy="739.8" r="5.2"/><circle cx="818.2" cy="742.1" r="5.2"/><circle cx="819.7" cy="758.2" r="5.2"/><circle cx="825.0" cy="738.0" r="5.2"/><circle cx="827.1" cy="755.3" r="5.2"/><circle cx="827.3" cy="764.6" r="5.2"/><circle cx="827.8" cy="768.5" r="5.2"/><circle cx="829.3" cy="727.4" r="5.2"/><circle cx="832.0" cy="733.0" r="5.2"/><circle cx="833.2" cy="728.8" r="5.2"/><circle cx="835.9" cy="752.4" r="5.2"/><circle cx="838.2" cy="749.1" r="5.2"/><circle cx="838.8" cy="743.5" r="5.2"/><circle cx="842.5" cy="731.0" r="5.2"/><circle cx="843.1" cy="731.0" r="5.2"/><circle cx="843.2" cy="759.0" r="5.2"/><circle cx="843.4" cy="730.9" r="5.2"/><circle cx="845.5" cy="756.6" r="5.2"/><circle cx="846.2" cy="743.5" r="5.2"/><circle cx="849.9" cy="761.9" r="5.2"/><circle cx="852.8" cy="751.6" r="5.2"/><circle cx="853.1" cy="760.4" r="5.2"/><circle cx="854.2" cy="759.8" r="5.2"/><circle cx="855.3" cy="768.0" r="5.2"/><circle cx="855.7" cy="715.3" r="5.2"/><circle cx="856.4" cy="751.9" r="5.2"/><circle cx="856.5" cy="767.1" r="5.2"/><circle cx="857.5" cy="762.1" r="5.2"/><circle cx="857.9" cy="759.7" r="5.2"/><circle cx="859.8" cy="760.6" r="5.2"/><circle cx="861.0" cy="765.1" r="5.2"/><circle cx="862.0" cy="707.5" r="5.2"/><circle cx="863.8" cy="765.6" r="5.2"/><circle cx="864.5" cy="784.6" r="5.2"/><circle cx="866.0" cy="785.4" r="5.2"/><circle cx="868.2" cy="711.4" r="5.2"/><circle cx="871.4" cy="701.2" r="5.2"/><circle cx="873.7" cy="707.5" r="5.2"/><circle cx="875.3" cy="672.9" r="5.2"/><circle cx="876.6" cy="709.5" r="5.2"/><circle cx="877.0" cy="720.0" r="5.2"/><circle cx="878.5" cy="742.1" r="5.2"/><circle cx="879.2" cy="717.6" r="5.2"/><circle cx="881.6" cy="742.7" r="5.2"/><circle cx="882.9" cy="680.5" r="5.2"/><circle cx="883.9" cy="680.8" r="5.2"/><circle cx="884.2" cy="742.5" r="5.2"/><circle cx="886.8" cy="699.8" r="5.2"/><circle cx="887.1" cy="690.2" r="5.2"/><circle cx="889.4" cy="698.8" r="5.2"/><circle cx="893.3" cy="691.8" r="5.2"/><circle cx="894.1" cy="714.5" r="5.2"/><circle cx="896.2" cy="658.6" r="5.2"/><circle cx="898.0" cy="691.8" r="5.2"/><circle cx="898.9" cy="695.3" r="5.2"/><circle cx="899.6" cy="658.8" r="5.2"/><circle cx="902.7" cy="688.6" r="5.2"/><circle cx="905.9" cy="683.9" r="5.2"/><circle cx="907.4" cy="684.0" r="5.2"/><circle cx="909.0" cy="671.4" r="5.2"/><circle cx="914.5" cy="679.2" r="5.2"/><circle cx="914.8" cy="668.8" r="5.2"/><circle cx="916.3" cy="678.2" r="5.2"/><circle cx="916.9" cy="668.2" r="5.2"/><circle cx="917.8" cy="671.0" r="5.2"/><circle cx="919.3" cy="671.6" r="5.2"/><circle cx="920.8" cy="672.2" r="5.2"/><circle cx="920.9" cy="662.5" r="5.2"/><circle cx="922.4" cy="684.8" r="5.2"/><circle cx="923.1" cy="663.5" r="5.2"/><circle cx="925.5" cy="660.0" r="5.2"/><circle cx="926.3" cy="682.4" r="5.2"/><circle cx="930.3" cy="687.2" r="5.2"/><circle cx="932.5" cy="687.1" r="5.2"/><circle cx="936.5" cy="674.5" r="5.2"/><circle cx="938.5" cy="674.1" r="5.2"/><circle cx="939.6" cy="693.3" r="5.2"/><circle cx="940.1" cy="676.5" r="5.2"/><circle cx="946.7" cy="686.3" r="5.2"/><circle cx="949.8" cy="696.5" r="5.2"/><circle cx="950.4" cy="698.0" r="5.2"/><circle cx="952.9" cy="675.3" r="5.2"/><circle cx="955.7" cy="671.9" r="5.2"/><circle cx="957.5" cy="677.9" r="5.2"/><circle cx="959.2" cy="674.5" r="5.2"/><circle cx="960.8" cy="650.2" r="5.2"/><circle cx="965.5" cy="672.9" r="5.2"/><circle cx="966.7" cy="674.4" r="5.2"/><circle cx="968.5" cy="678.2" r="5.2"/><circle cx="968.6" cy="677.6" r="5.2"/><circle cx="970.4" cy="674.5" r="5.2"/><circle cx="972.3" cy="676.9" r="5.2"/><circle cx="975.7" cy="681.6" r="5.2"/><circle cx="979.6" cy="693.3" r="5.2"/><circle cx="983.5" cy="669.8" r="5.2"/><circle cx="987.5" cy="652.5" r="5.2"/><circle cx="990.2" cy="677.8" r="5.2"/><circle cx="990.6" cy="676.1" r="5.2"/><circle cx="994.5" cy="672.9" r="5.2"/></g><path d="M62.90,906.20V39.20H483.00V906.20Z" fill="none" stroke="#000" stroke-width="1.5" stroke-linejoin="round"/><line x1="62.90" y1="328.20" x2="483.00" y2="328.20" stroke="#000" stroke-width="1.5" /><line x1="62.90" y1="617.20" x2="483.00" y2="617.20" stroke="#000" stroke-width="1.5" /><path d="M62.90,39.20v5.5M62.90,328.20v10M62.90,617.20v10M62.90,906.20v10M115.41,39.20v3.3M115.41,328.20v5M115.41,617.20v5M115.41,906.20v5M167.93,39.20v5.5M167.93,328.20v10M167.93,617.20v10M167.93,906.20v10M220.44,39.20v3.3M220.44,328.20v5M220.44,617.20v5M220.44,906.20v5M272.95,39.20v5.5M272.95,328.20v10M272.95,617.20v10M272.95,906.20v10M325.46,39.20v3.3M325.46,328.20v5M325.46,617.20v5M325.46,906.20v5M377.98,39.20v5.5M377.98,328.20v10M377.98,617.20v10M377.98,906.20v10M430.49,39.20v3.3M430.49,328.20v5M430.49,617.20v5M430.49,906.20v5M483.00,39.20v5.5M483.00,328.20v10M483.00,617.20v10M483.00,906.20v10" stroke="#000" stroke-width="1.4" fill="none"/><path d="M579.20,906.20V38.60H996.40V906.20Z" fill="none" stroke="#000" stroke-width="1.5" stroke-linejoin="round"/><line x1="579.20" y1="328.20" x2="996.40" y2="328.20" stroke="#000" stroke-width="1.5" /><line x1="579.20" y1="617.20" x2="996.40" y2="617.20" stroke="#000" stroke-width="1.5" /><path d="M579.20,38.60v5.5M579.20,328.20v10M579.20,617.20v10M579.20,906.20v10M631.35,38.60v3.3M631.35,328.20v5M631.35,617.20v5M631.35,906.20v5M683.50,38.60v5.5M683.50,328.20v10M683.50,617.20v10M683.50,906.20v10M735.65,38.60v3.3M735.65,328.20v5M735.65,617.20v5M735.65,906.20v5M787.80,38.60v5.5M787.80,328.20v10M787.80,617.20v10M787.80,906.20v10M839.95,38.60v3.3M839.95,328.20v5M839.95,617.20v5M839.95,906.20v5M892.10,38.60v5.5M892.10,328.20v10M892.10,617.20v10M892.10,906.20v10M944.25,38.60v3.3M944.25,328.20v5M944.25,617.20v5M944.25,906.20v5M996.40,38.60v5.5M996.40,328.20v10M996.40,617.20v10M996.40,906.20v10" stroke="#000" stroke-width="1.4" fill="none"/><line clip-path="url(#rR1)" x1="707.15" y1="333.20" x2="935.82" y2="33.60" stroke="#f00" stroke-width="6"/><line clip-path="url(#rR2)" x1="652.65" y1="622.20" x2="940.16" y2="323.20" stroke="#f00" stroke-width="6"/><line clip-path="url(#rR3)" x1="695.46" y1="911.20" x2="924.82" y2="612.20" stroke="#f00" stroke-width="6"/><line x1="765.9" y1="297.6" x2="739.6" y2="313.6" stroke="#000" stroke-width="3.2" stroke-linecap="round"/><path d="M728.5,320.4L738.4,307.9L744.2,317.3Z" fill="#000" stroke="#000" stroke-width="2" stroke-linejoin="round"/><line x1="759.9" y1="586.9" x2="691.3" y2="605.8" stroke="#000" stroke-width="3.2" stroke-linecap="round"/><path d="M678.8,609.3L691.8,600.0L694.7,610.6Z" fill="#000" stroke="#000" stroke-width="2" stroke-linejoin="round"/><line x1="752.5" y1="883.0" x2="728.2" y2="894.2" stroke="#000" stroke-width="3.2" stroke-linecap="round"/><path d="M716.4,899.7L727.7,888.4L732.3,898.4Z" fill="#000" stroke="#000" stroke-width="2" stroke-linejoin="round"/><text x="62.9" y="25.3" font-size="38.5" text-anchor="middle">1.0</text><text x="62.9" y="951.8" font-size="38.5" text-anchor="middle">1.0</text><text x="167.9" y="25.3" font-size="38.5" text-anchor="middle">2.0</text><text x="167.9" y="951.8" font-size="38.5" text-anchor="middle">2.0</text><text x="272.9" y="25.3" font-size="38.5" text-anchor="middle">3.0</text><text x="272.9" y="951.8" font-size="38.5" text-anchor="middle">3.0</text><text x="378.0" y="25.3" font-size="38.5" text-anchor="middle">4.0</text><text x="378.0" y="951.8" font-size="38.5" text-anchor="middle">4.0</text><text x="483.0" y="25.3" font-size="38.5" text-anchor="middle">5.0</text><text x="483.0" y="951.8" font-size="38.5" text-anchor="middle">5.0</text><text x="579.2" y="25.3" font-size="38.5" text-anchor="middle">1.0</text><text x="579.2" y="951.8" font-size="38.5" text-anchor="middle">1.0</text><text x="683.5" y="25.3" font-size="38.5" text-anchor="middle">2.0</text><text x="683.5" y="951.8" font-size="38.5" text-anchor="middle">2.0</text><text x="787.8" y="25.3" font-size="38.5" text-anchor="middle">3.0</text><text x="787.8" y="951.8" font-size="38.5" text-anchor="middle">3.0</text><text x="892.1" y="25.3" font-size="38.5" text-anchor="middle">4.0</text><text x="892.1" y="951.8" font-size="38.5" text-anchor="middle">4.0</text><text x="996.4" y="25.3" font-size="38.5" text-anchor="middle">5.0</text><text x="996.4" y="951.8" font-size="38.5" text-anchor="middle">5.0</text><text x="77.8" y="85.3" font-size="40">I.</text><text x="77.8" y="375.3" font-size="40">II.</text><text x="76.6" y="662.4" font-size="40">III.</text><text x="592.8" y="85.3" font-size="40">I.</text><text x="592.8" y="375.3" font-size="40">II.</text><text x="591.4" y="663" font-size="40">III.</text><text x="775.4" y="300.9" font-size="43">2.27(4) eV</text><text x="767.4" y="591.8" font-size="43">1.74(2) eV</text><text x="760.4" y="886.7" font-size="43">2.15(8) eV</text><text y="1019.6" font-size="42"><tspan x="213.9" font-style="italic">h</tspan><tspan x="259.9">, eV</tspan></text><text y="1018.8" font-size="42"><tspan x="728.8" font-style="italic">h</tspan><tspan x="774.8">, eV</tspan></text><g transform="translate(247.2,1020.6)"><path d="M-3.3,-16.1L-0.8,-17.9L2.8,-18.1L3.3,-7L4.8,-4.9L0.7,0.3L-0.7,0L-1.0,-12.6L-1.6,-15.3Z" fill="#000"/><path d="M3.9,-4.3L11.3,-12.4L13.3,-15.3" fill="none" stroke="#000" stroke-width="1.25"/><path d="M12.1,-14.2C12.3,-16.8 13.6,-18.2 15.0,-18.1C16.3,-18.0 16.4,-16.6 15.7,-15.4C15.0,-14.2 13.8,-13.2 12.4,-12.6Z" fill="#000"/></g><g transform="translate(762.2,1019.4)"><path d="M-3.3,-16.1L-0.8,-17.9L2.8,-18.1L3.3,-7L4.8,-4.9L0.7,0.3L-0.7,0L-1.0,-12.6L-1.6,-15.3Z" fill="#000"/><path d="M3.9,-4.3L11.3,-12.4L13.3,-15.3" fill="none" stroke="#000" stroke-width="1.25"/><path d="M12.1,-14.2C12.3,-16.8 13.6,-18.2 15.0,-18.1C16.3,-18.0 16.4,-16.6 15.7,-15.4C15.0,-14.2 13.8,-13.2 12.4,-12.6Z" fill="#000"/></g><text transform="translate(32.4,692) rotate(-90)" font-size="46" letter-spacing="-0.85">Kubelka-Munk (<tspan font-style="italic">α</tspan>), a.u.</text><text transform="translate(552,573.5) rotate(-90)" x="-2" font-size="46">(</text><text transform="translate(552,556.5) rotate(-90)" x="-1" font-size="46" font-style="italic">α</text><text transform="translate(552,532.8) rotate(-90)" x="-2" font-size="46" font-style="italic">h</text><text transform="translate(552,507.8) rotate(-90)" x="-1" font-size="46" font-style="italic">ν</text><text transform="translate(552,491.5) rotate(-90)" x="-1" font-size="46">)</text><text transform="translate(528.1,477.5) rotate(-90)" x="-1" font-size="28">2</text><text transform="translate(552,462.3) rotate(-90)" x="-2" font-size="46">,</text><text transform="translate(552,440.2) rotate(-90)" x="-2" font-size="46">a</text><text transform="translate(552,419.7) rotate(-90)" x="-3" font-size="46">.</text><text transform="translate(552,411.5) rotate(-90)" x="-1" font-size="46">u</text><text transform="translate(552,386.2) rotate(-90)" x="-3" font-size="46">.</text></svg></body></html>
